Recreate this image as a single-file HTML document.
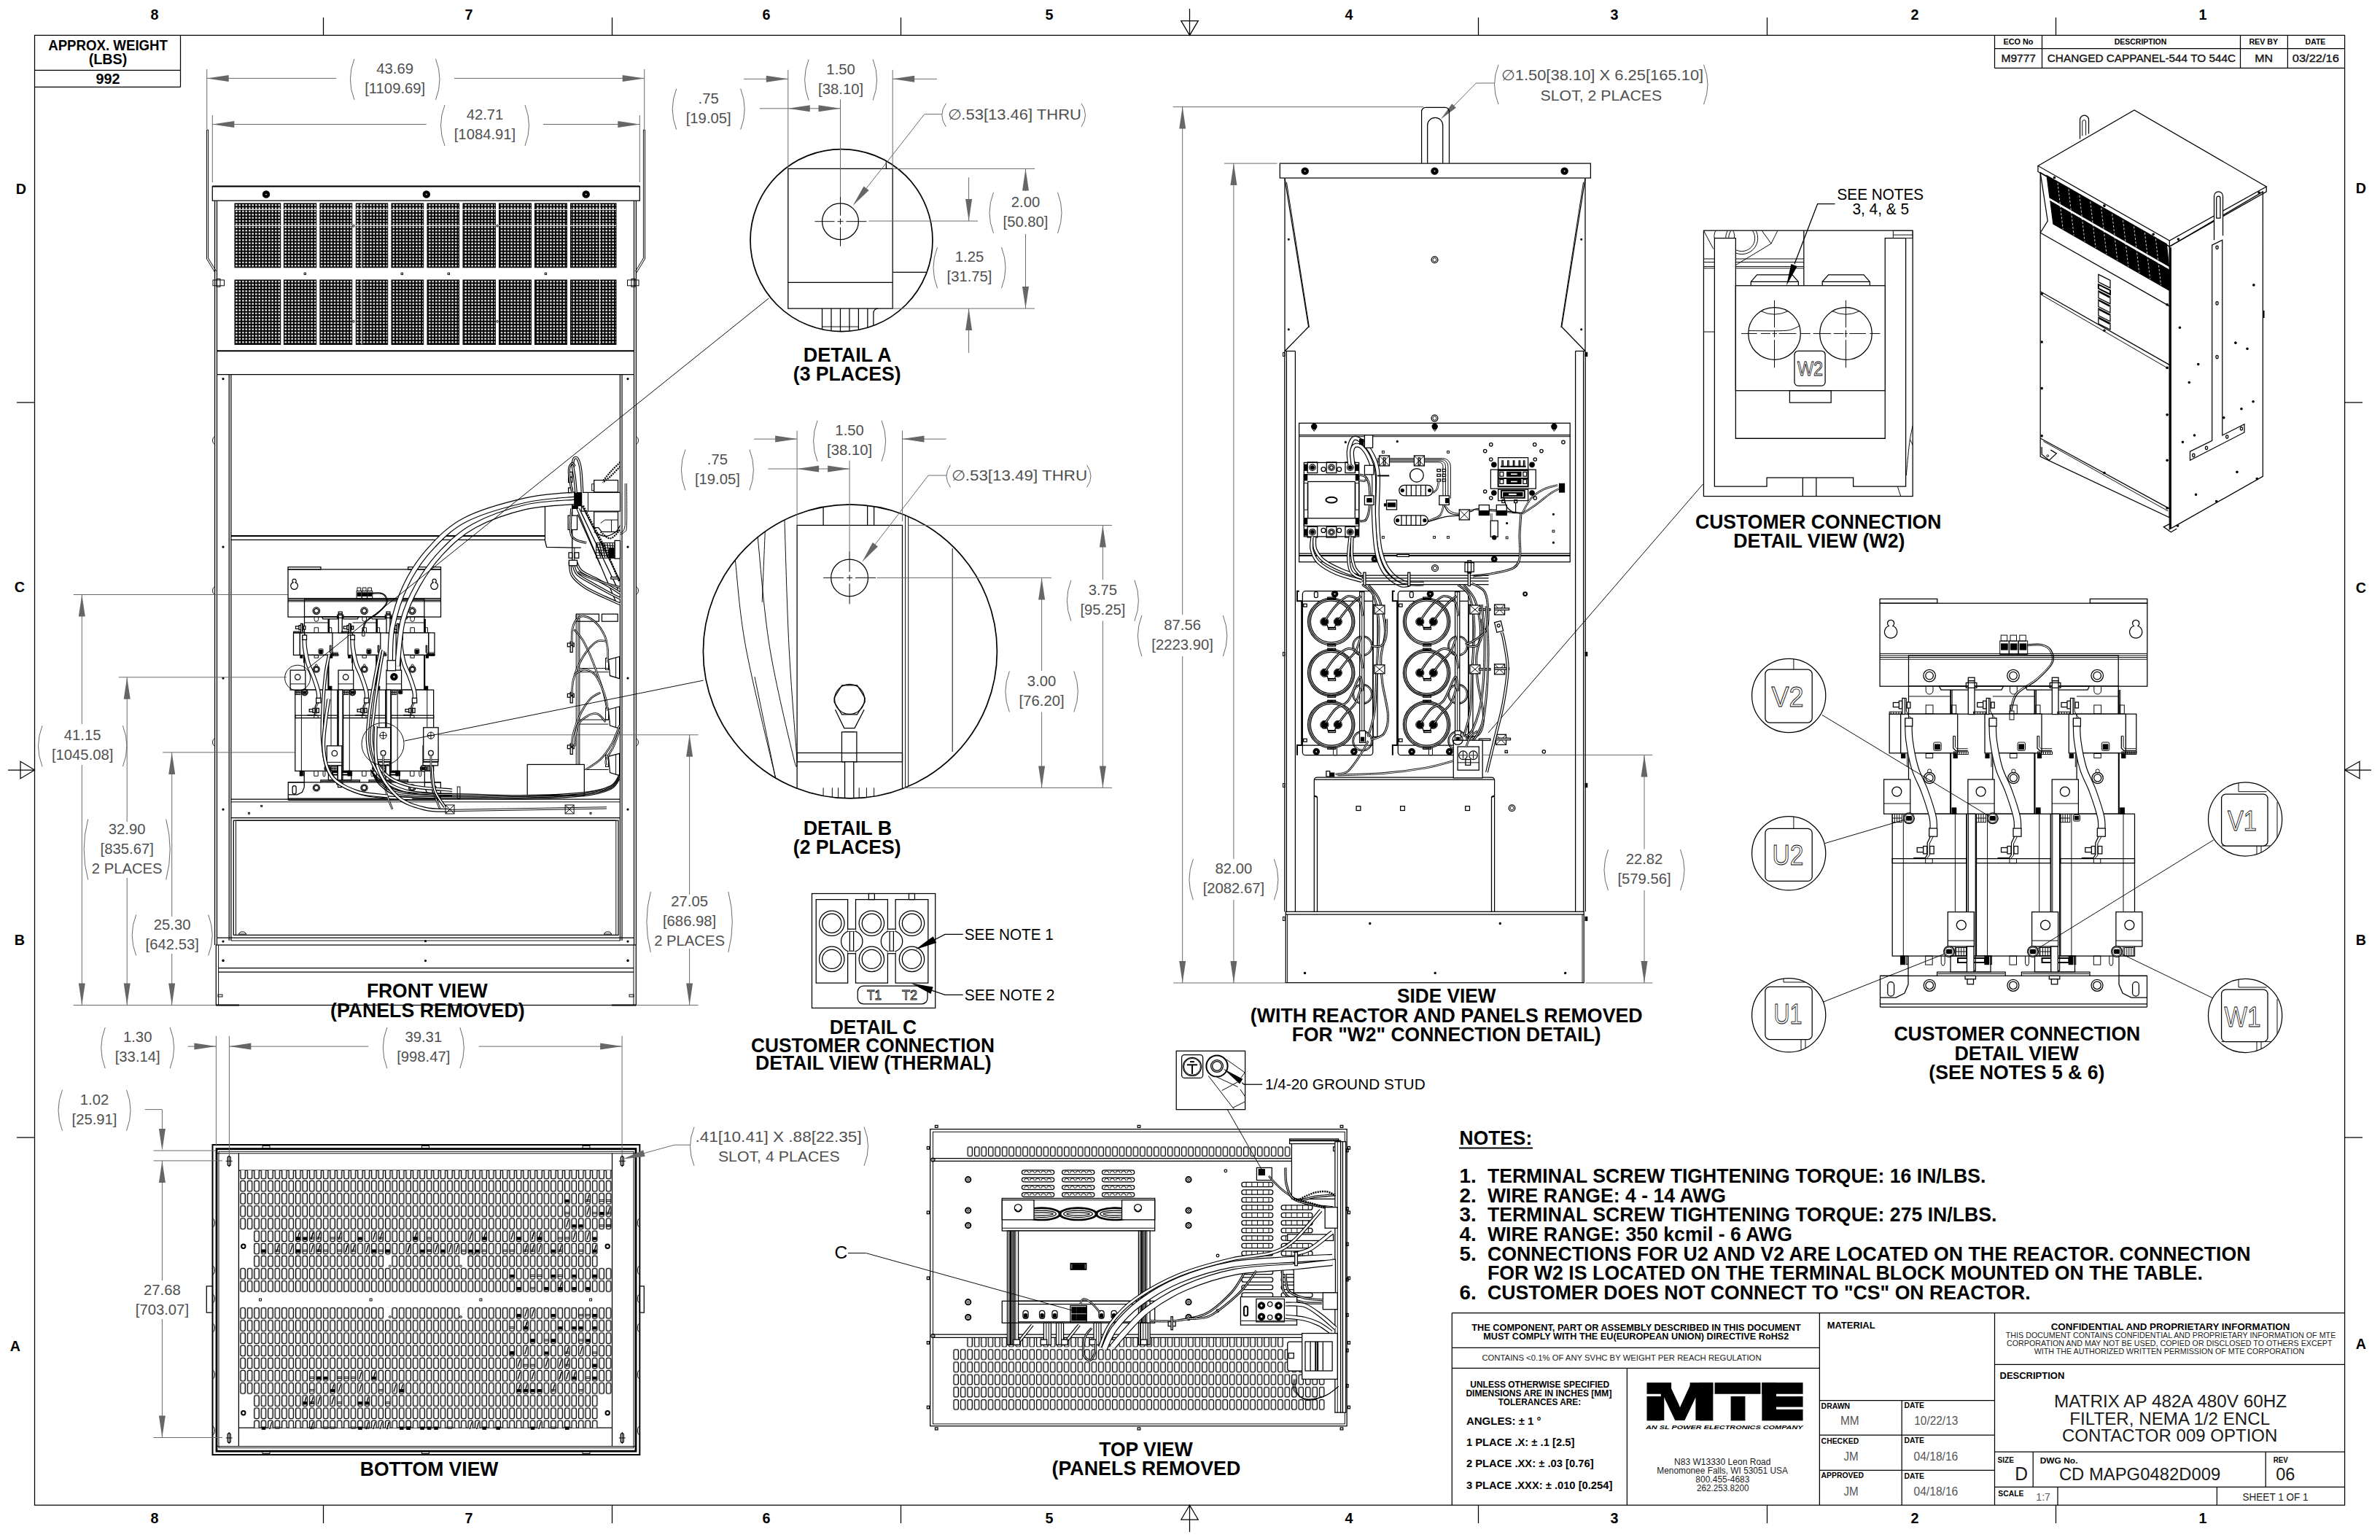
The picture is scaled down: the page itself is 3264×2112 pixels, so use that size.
<!DOCTYPE html>
<html lang="en"><head><meta charset="utf-8"><title>MTE Matrix AP 482A drawing</title>
<style>
html,body{margin:0;padding:0;background:#fff}
svg{display:block}
text{font-family:"Liberation Sans",sans-serif;fill:#000}
.b{font-weight:700}
.r{font-weight:400}
.d{font-weight:400;fill:#1a1a1a}
.gt{font-weight:400;fill:#505050}
.gy{font-weight:400;fill:#555}
.cg{font-weight:400;fill:#111;stroke:#111;stroke-width:.35px}
path,rect,circle,ellipse{fill:none;stroke:#000;stroke-width:1.25}
.k{stroke-width:1.25}
.k2{stroke-width:2}
.k3{stroke-width:2.8}
.kc{stroke-width:1.7}
.t{stroke-width:.95}
.t2{stroke-width:.6;stroke:#222}
.g{stroke:#6a6a6a;stroke-width:1}
.ga{fill:#666;stroke:none}
.ka{fill:#000;stroke:none}
.kf{fill:#000;stroke:#000}
.wf{fill:#fff}
.st1{fill:url(#st1);stroke:none}
.st2{fill:url(#st2);stroke:none}
.ol{font-weight:400;fill:#fff;stroke:#000;stroke-width:.9px}
.sa{fill:url(#sa);stroke:none}
.sb{fill:url(#sb);stroke:none}
.wf0{fill:#fff;stroke:none}
.ns *{vector-effect:non-scaling-stroke}
.gr{fill:url(#gr);stroke:#000;stroke-width:1}
.wl{stroke:#fff;stroke-width:1}
</style></head>
<body>
<svg width="3264" height="2112" viewBox="0 0 3264 2112">
<defs>
<pattern id="gr" width="4.49" height="4.37" patternUnits="userSpaceOnUse" x="322.06" y="279.06"><rect width="4.49" height="4.37" style="fill:#000;stroke:none"/><rect x="1.05" y="1.1" width="2.45" height="2.2" style="fill:#fff;stroke:none"/></pattern>
<pattern id="sa" width="9.462" height="17.17" patternUnits="userSpaceOnUse" x="328.37" y="1600.9"><rect x="1.53" y="1.33" width="6.4" height="14.5" rx="2.2" style="fill:#fff;stroke:#000;stroke-width:1.35"/></pattern>
<pattern id="sb" width="9.462" height="17.17" patternUnits="userSpaceOnUse" x="328.37" y="1792.3"><rect x="1.53" y="1.33" width="6.4" height="14.5" rx="2.2" style="fill:#fff;stroke:#000;stroke-width:1.35"/></pattern>
<pattern id="st1" width="9.462" height="13.8" patternUnits="userSpaceOnUse" x="1325.61" y="1572.4"><rect x="1.53" y="0.6" width="6.4" height="12.6" rx="2.2" style="fill:#fff;stroke:#000;stroke-width:1.3"/></pattern>
<pattern id="st2" width="9.462" height="17.17" patternUnits="userSpaceOnUse" x="1306.47" y="1849.3"><rect x="1.53" y="1.5" width="6.4" height="13.6" rx="2.2" style="fill:#fff;stroke:#000;stroke-width:1.3"/></pattern>
</defs>
<rect class="k" x="47.5" y="48.4" width="3168.1" height="2015.8"/>
<path class="k" d="M443.5 24L443.5 48.4"/>
<path class="k" d="M443.5 2064.2L443.5 2089"/>
<path class="k" d="M839.5 24L839.5 48.4"/>
<path class="k" d="M839.5 2064.2L839.5 2089"/>
<path class="k" d="M1235.5 24L1235.5 48.4"/>
<path class="k" d="M1235.5 2064.2L1235.5 2089"/>
<path class="k" d="M1631.5 12L1631.5 48.4"/>
<path class="k" d="M1631.5 48.4L1619.8 28.5L1643.2 28.5Z"/>
<path class="k" d="M1631.5 2064.2L1631.5 2101"/>
<path class="k" d="M1631.5 2064.2L1619.8 2084L1643.2 2084Z"/>
<path class="k" d="M2027.5 24L2027.5 48.4"/>
<path class="k" d="M2027.5 2064.2L2027.5 2089"/>
<path class="k" d="M2423.5 24L2423.5 48.4"/>
<path class="k" d="M2423.5 2064.2L2423.5 2089"/>
<path class="k" d="M2819.5 24L2819.5 48.4"/>
<path class="k" d="M2819.5 2064.2L2819.5 2089"/>
<path class="k" d="M23 552L47.5 552"/>
<path class="k" d="M3215.6 552L3240 552"/>
<path class="k" d="M23 1560L47.5 1560"/>
<path class="k" d="M3215.6 1560L3240 1560"/>
<path class="k" d="M11 1056L47.5 1056"/>
<path class="k" d="M47.5 1056L28 1044.3L28 1067.7Z"/>
<path class="k" d="M3215.6 1056L3252 1056"/>
<path class="k" d="M3215.6 1056L3236 1044.3L3236 1067.7Z"/>
<text class="b" x="212" y="27.3" font-size="19.76" text-anchor="middle">8</text>
<text class="b" x="212" y="2089.3" font-size="19.76" text-anchor="middle">8</text>
<text class="b" x="643" y="27.3" font-size="19.76" text-anchor="middle">7</text>
<text class="b" x="643" y="2089.3" font-size="19.76" text-anchor="middle">7</text>
<text class="b" x="1051" y="27.3" font-size="19.76" text-anchor="middle">6</text>
<text class="b" x="1051" y="2089.3" font-size="19.76" text-anchor="middle">6</text>
<text class="b" x="1439" y="27.3" font-size="19.76" text-anchor="middle">5</text>
<text class="b" x="1439" y="2089.3" font-size="19.76" text-anchor="middle">5</text>
<text class="b" x="1850" y="27.3" font-size="19.76" text-anchor="middle">4</text>
<text class="b" x="1850" y="2089.3" font-size="19.76" text-anchor="middle">4</text>
<text class="b" x="2214" y="27.3" font-size="19.76" text-anchor="middle">3</text>
<text class="b" x="2214" y="2089.3" font-size="19.76" text-anchor="middle">3</text>
<text class="b" x="2626" y="27.3" font-size="19.76" text-anchor="middle">2</text>
<text class="b" x="2626" y="2089.3" font-size="19.76" text-anchor="middle">2</text>
<text class="b" x="3021" y="27.3" font-size="19.76" text-anchor="middle">1</text>
<text class="b" x="3021" y="2089.3" font-size="19.76" text-anchor="middle">1</text>
<text class="b" x="29" y="266" font-size="19.76" text-anchor="middle">D</text>
<text class="b" x="3238" y="265" font-size="19.76" text-anchor="middle">D</text>
<text class="b" x="27" y="812" font-size="19.76" text-anchor="middle">C</text>
<text class="b" x="3238" y="813" font-size="19.76" text-anchor="middle">C</text>
<text class="b" x="27" y="1296" font-size="19.76" text-anchor="middle">B</text>
<text class="b" x="3238" y="1296" font-size="19.76" text-anchor="middle">B</text>
<text class="b" x="21" y="1853" font-size="19.76" text-anchor="middle">A</text>
<text class="b" x="3238" y="1850" font-size="19.76" text-anchor="middle">A</text>
<path class="k" d="M47.5 96.4L247.5 96.4"/>
<path class="k" d="M247.5 48.4L247.5 119.4"/>
<path class="k" d="M47.5 119.4L247.5 119.4"/>
<text class="b" x="66.2" y="68.9" font-size="19.76" textLength="163.8" lengthAdjust="spacingAndGlyphs">APPROX. WEIGHT</text>
<text class="b" x="148" y="87.8" font-size="19.76" text-anchor="middle">(LBS)</text>
<text class="b" x="148" y="114.5" font-size="19.76" text-anchor="middle">992</text>
<path class="k" d="M2735.5 48.4L2735.5 93.4"/>
<path class="k" d="M2735.5 93.4L3215.6 93.4"/>
<path class="k" d="M2735.5 66.6L3215.6 66.6"/>
<path class="k" d="M2800.5 48.4L2800.5 93.4"/>
<path class="k" d="M3072.5 48.4L3072.5 93.4"/>
<path class="k" d="M3137.4 48.4L3137.4 93.4"/>
<text class="b" x="2747.4" y="61.1" font-size="11.34" textLength="41" lengthAdjust="spacingAndGlyphs">ECO No</text>
<text class="b" x="2899.8" y="61.1" font-size="11.34" textLength="71.5" lengthAdjust="spacingAndGlyphs">DESCRIPTION</text>
<text class="b" x="3084.4" y="61.1" font-size="11.34" textLength="39.8" lengthAdjust="spacingAndGlyphs">REV BY</text>
<text class="b" x="3161.6" y="61.1" font-size="11.34" textLength="27.7" lengthAdjust="spacingAndGlyphs">DATE</text>
<text class="cg" x="2744.5" y="84.6" font-size="15.08" textLength="47.5" lengthAdjust="spacingAndGlyphs">M9777</text>
<text class="cg" x="2807.8" y="84.6" font-size="15.08" textLength="258.3" lengthAdjust="spacingAndGlyphs">CHANGED CAPPANEL-544 TO 544C</text>
<text class="cg" x="3092.2" y="84.6" font-size="15.08" textLength="24.8" lengthAdjust="spacingAndGlyphs">MN</text>
<text class="cg" x="3143.8" y="84.6" font-size="15.08" textLength="64" lengthAdjust="spacingAndGlyphs">03/22/16</text>
<path class="k" d="M1991.3 1800.7L3215.6 1800.7"/>
<path class="k" d="M1991.3 1800.7L1991.3 2064.2"/>
<path class="k" d="M1991.3 1848.4L2495.4 1848.4"/>
<path class="k" d="M1991.3 1876.3L2495.4 1876.3"/>
<path class="k" d="M2231.4 1876.3L2231.4 2064.2"/>
<path class="k" d="M2495.4 1800.7L2495.4 2064.2"/>
<path class="k" d="M2735.5 1800.7L2735.5 2064.2"/>
<path class="k" d="M2608.2 1920.6L2608.2 2064.2"/>
<path class="k" d="M2495.4 1920.6L2735.5 1920.6"/>
<path class="k" d="M2495.4 1968.2L2735.5 1968.2"/>
<path class="k" d="M2495.4 2016.4L2735.5 2016.4"/>
<path class="k" d="M2735.5 1871.4L3215.6 1871.4"/>
<path class="k" d="M2735.5 1991.2L3215.6 1991.2"/>
<path class="k" d="M2735.5 2039.4L3215.6 2039.4"/>
<path class="k" d="M2788.2 1991.2L2788.2 2039.4"/>
<path class="k" d="M3107.2 1991.2L3107.2 2039.4"/>
<path class="k" d="M2822 2039.4L2822 2064.2"/>
<path class="k" d="M3040.4 2039.4L3040.4 2064.2"/>
<text class="b" x="2018.2" y="1825" font-size="12.9" textLength="451.7" lengthAdjust="spacingAndGlyphs">THE COMPONENT, PART OR ASSEMBLY DESCRIBED IN THIS DOCUMENT</text>
<text class="b" x="2034.3" y="1837" font-size="12.9" textLength="419" lengthAdjust="spacingAndGlyphs">MUST COMPLY WITH THE EU(EUROPEAN UNION) DIRECTIVE RoHS2</text>
<text class="d" x="2032.4" y="1865.8" font-size="11.75" textLength="383.2" lengthAdjust="spacingAndGlyphs">CONTAINS &lt;0.1% OF ANY SVHC BY WEIGHT PER REACH REGULATION</text>
<text class="b" x="2016.3" y="1903" font-size="12.9" textLength="190.9" lengthAdjust="spacingAndGlyphs">UNLESS OTHERWISE SPECIFIED</text>
<text class="b" x="2010.4" y="1915" font-size="12.9" textLength="200" lengthAdjust="spacingAndGlyphs">DIMENSIONS ARE IN INCHES [MM]</text>
<text class="b" x="2054.8" y="1926.6" font-size="12.9" textLength="113.4" lengthAdjust="spacingAndGlyphs">TOLERANCES ARE:</text>
<text class="b" x="2010.9" y="1953.5" font-size="14.87" textLength="102.7" lengthAdjust="spacingAndGlyphs">ANGLES: ± 1 °</text>
<text class="b" x="2010.9" y="1982.8" font-size="14.87" textLength="148.5" lengthAdjust="spacingAndGlyphs">1 PLACE .X: ± .1 [2.5]</text>
<text class="b" x="2010.9" y="2011.8" font-size="14.87" textLength="174.8" lengthAdjust="spacingAndGlyphs">2 PLACE .XX: ± .03 [0.76]</text>
<text class="b" x="2010.9" y="2042" font-size="14.87" textLength="200.4" lengthAdjust="spacingAndGlyphs">3 PLACE .XXX: ± .010 [0.254]</text>
<text x="2260.32" y="1946.55" font-size="70" textLength="87.2" lengthAdjust="spacingAndGlyphs" style="font-weight:700;stroke:#000;stroke-width:2.2px;stroke-linejoin:miter">M</text>
<text x="2353.38" y="1946.55" font-size="70" textLength="59.26" lengthAdjust="spacingAndGlyphs" style="font-weight:700;stroke:#000;stroke-width:2.2px;stroke-linejoin:miter">T</text>
<text x="2418.2" y="1946.55" font-size="70" textLength="52.54" lengthAdjust="spacingAndGlyphs" style="font-weight:700;stroke:#000;stroke-width:2.2px;stroke-linejoin:miter">E</text>
<rect class="kf" x="2259.12" y="1896.81" width="32.35" height="14.71"/>
<rect class="kf" x="2259.12" y="1915.19" width="18.17" height="32.56"/>
<rect class="kf" x="2330.86" y="1896.81" width="17.86" height="50.95"/>
<rect class="kf" x="2318.26" y="1896.81" width="30.46" height="14.71"/>
<rect class="kf" x="2352.18" y="1896.81" width="61.66" height="14.71"/>
<rect class="kf" x="2374.24" y="1915.19" width="18.59" height="32.56"/>
<rect class="kf" x="2417" y="1896.81" width="18.91" height="50.95"/>
<rect class="kf" x="2417" y="1896.81" width="54.94" height="14.71"/>
<rect class="kf" x="2435.9" y="1915.19" width="36.03" height="14.18"/>
<rect class="kf" x="2435.9" y="1933.05" width="36.03" height="14.71"/>
<rect class="wf0" x="2257.86" y="1911.72" width="19.96" height="3.26"/>
<rect class="wf0" x="2351.34" y="1911.72" width="64.08" height="3.26"/>
<rect class="wf0" x="2436.01" y="1911.72" width="36.66" height="3.26"/>
<rect class="wf0" x="2436.01" y="1929.58" width="36.66" height="3.26"/>
<text x="2257" y="1960" font-size="7.6" textLength="215.6" lengthAdjust="spacingAndGlyphs" style="font-weight:700;font-style:italic">AN SL POWER ELECTRONICS COMPANY</text>
<text class="d" x="2296" y="2009.2" font-size="12.48" textLength="132.5" lengthAdjust="spacingAndGlyphs">N83 W13330 Leon Road</text>
<text class="d" x="2272.3" y="2021.3" font-size="12.48" textLength="179.6" lengthAdjust="spacingAndGlyphs">Menomonee Falls, WI 53051 USA</text>
<text class="d" x="2325.3" y="2032.8" font-size="12.48" textLength="74.2" lengthAdjust="spacingAndGlyphs">800.455-4683</text>
<text class="d" x="2326.9" y="2045" font-size="12.48" textLength="71.5" lengthAdjust="spacingAndGlyphs">262.253.8200</text>
<text class="b" x="2505.7" y="1821.7" font-size="12.9" textLength="65.9" lengthAdjust="spacingAndGlyphs">MATERIAL</text>
<text class="b" x="2497.6" y="1931.7" font-size="10.92" textLength="39.6" lengthAdjust="spacingAndGlyphs">DRAWN</text>
<text class="b" x="2497.6" y="1979.8" font-size="10.92" textLength="51.6" lengthAdjust="spacingAndGlyphs">CHECKED</text>
<text class="b" x="2497.6" y="2027.2" font-size="10.92" textLength="58.4" lengthAdjust="spacingAndGlyphs">APPROVED</text>
<text class="b" x="2611.6" y="1930.7" font-size="10.92" textLength="27.4" lengthAdjust="spacingAndGlyphs">DATE</text>
<text class="b" x="2611.6" y="1978.8" font-size="10.92" textLength="27.4" lengthAdjust="spacingAndGlyphs">DATE</text>
<text class="b" x="2611.6" y="2027.6" font-size="10.92" textLength="27.4" lengthAdjust="spacingAndGlyphs">DATE</text>
<text class="gy" x="2523.9" y="1953.7" font-size="16.02" textLength="25.7" lengthAdjust="spacingAndGlyphs">MM</text>
<text class="gy" x="2528.5" y="2003" font-size="16.02" textLength="20.2" lengthAdjust="spacingAndGlyphs">JM</text>
<text class="gy" x="2528.5" y="2050.8" font-size="16.02" textLength="20.2" lengthAdjust="spacingAndGlyphs">JM</text>
<text class="gy" x="2625.3" y="1953.8" font-size="16.02" textLength="60" lengthAdjust="spacingAndGlyphs">10/22/13</text>
<text class="gy" x="2624.5" y="2003.3" font-size="16.02" textLength="60.8" lengthAdjust="spacingAndGlyphs">04/18/16</text>
<text class="gy" x="2624.5" y="2051.2" font-size="16.02" textLength="60.8" lengthAdjust="spacingAndGlyphs">04/18/16</text>
<text class="b" x="2812.7" y="1823.5" font-size="13" textLength="327.7" lengthAdjust="spacingAndGlyphs">CONFIDENTIAL AND PROPRIETARY INFORMATION</text>
<text class="d" x="2750.8" y="1835.3" font-size="11.44" textLength="452.5" lengthAdjust="spacingAndGlyphs">THIS DOCUMENT CONTAINS CONFIDENTIAL AND PROPRIETARY INFORMATION OF MTE</text>
<text class="d" x="2752" y="1845.9" font-size="11.44" textLength="446.5" lengthAdjust="spacingAndGlyphs">CORPORATION AND MAY NOT BE USED, COPIED OR DISCLOSED TO OTHERS EXCEPT</text>
<text class="d" x="2789.7" y="1857" font-size="11.44" textLength="370.5" lengthAdjust="spacingAndGlyphs">WITH THE AUTHORIZED WRITTEN PERMISSION OF MTE CORPORATION</text>
<text class="b" x="2742.5" y="1890.6" font-size="13" textLength="88.8" lengthAdjust="spacingAndGlyphs">DESCRIPTION</text>
<text class="d" x="2816.9" y="1929.5" font-size="24.13" textLength="319.3" lengthAdjust="spacingAndGlyphs">MATRIX AP 482A 480V 60HZ</text>
<text class="d" x="2838.3" y="1953.5" font-size="24.13" textLength="274.9" lengthAdjust="spacingAndGlyphs">FILTER, NEMA 1/2 ENCL</text>
<text class="d" x="2828" y="1977.4" font-size="24.13" textLength="295.4" lengthAdjust="spacingAndGlyphs">CONTACTOR 009 OPTION</text>
<text class="b" x="2739.6" y="2005.5" font-size="10.92" textLength="22.4" lengthAdjust="spacingAndGlyphs">SIZE</text>
<text class="d" x="2763.2" y="2030" font-size="26" textLength="17.8" lengthAdjust="spacingAndGlyphs">D</text>
<text class="b" x="2797.7" y="2007" font-size="10.92" textLength="51.8" lengthAdjust="spacingAndGlyphs">DWG No.</text>
<text class="d" x="2823.9" y="2030" font-size="24.44" textLength="221.3" lengthAdjust="spacingAndGlyphs">CD MAPG0482D009</text>
<text class="b" x="3117.7" y="2005.5" font-size="10.92" textLength="20.1" lengthAdjust="spacingAndGlyphs">REV</text>
<text class="d" x="3121.2" y="2030" font-size="24.44" textLength="26.2" lengthAdjust="spacingAndGlyphs">06</text>
<text class="b" x="2740.3" y="2051.8" font-size="10.92" textLength="35.1" lengthAdjust="spacingAndGlyphs">SCALE</text>
<text class="gy" x="2792.3" y="2058" font-size="15.08" textLength="19.7" lengthAdjust="spacingAndGlyphs">1:7</text>
<text class="d" x="3075.5" y="2057.6" font-size="13.94" textLength="90.1" lengthAdjust="spacingAndGlyphs">SHEET 1  OF 1</text>
<text class="b" x="2001.6" y="1569.8" font-size="27.87" textLength="99.6" lengthAdjust="spacingAndGlyphs">NOTES:</text>
<path class="k2" d="M2001 1574.6L2102 1574.6"/>
<text class="b" x="2001.6" y="1622.4" font-size="27.87">1.</text>
<text class="b" x="2039.9" y="1622.4" font-size="27.87" textLength="683.5" lengthAdjust="spacingAndGlyphs">TERMINAL SCREW TIGHTENING TORQUE: 16 IN/LBS.</text>
<text class="b" x="2001.6" y="1648.8" font-size="27.87">2.</text>
<text class="b" x="2039.9" y="1648.8" font-size="27.87" textLength="327.1" lengthAdjust="spacingAndGlyphs">WIRE RANGE: 4 - 14 AWG</text>
<text class="b" x="2001.6" y="1675.1" font-size="27.87">3.</text>
<text class="b" x="2039.9" y="1675.1" font-size="27.87" textLength="698.4" lengthAdjust="spacingAndGlyphs">TERMINAL SCREW TIGHTENING TORQUE: 275 IN/LBS.</text>
<text class="b" x="2001.6" y="1701.5" font-size="27.87">4.</text>
<text class="b" x="2039.9" y="1701.5" font-size="27.87" textLength="418.1" lengthAdjust="spacingAndGlyphs">WIRE RANGE: 350 kcmil - 6 AWG</text>
<text class="b" x="2001.6" y="1728.8" font-size="27.87">5.</text>
<text class="b" x="2039.9" y="1728.8" font-size="27.87" textLength="1046.6" lengthAdjust="spacingAndGlyphs">CONNECTIONS FOR U2 AND V2 ARE LOCATED ON THE REACTOR. CONNECTION</text>
<text class="b" x="2039.9" y="1755.1" font-size="27.87" textLength="981" lengthAdjust="spacingAndGlyphs">FOR W2 IS LOCATED ON THE TERMINAL BLOCK MOUNTED ON THE TABLE.</text>
<text class="b" x="2001.6" y="1781.5" font-size="27.87">6.</text>
<text class="b" x="2039.9" y="1781.5" font-size="27.87" textLength="744.8" lengthAdjust="spacingAndGlyphs">CUSTOMER DOES NOT CONNECT TO "CS" ON REACTOR.</text>
<text class="b" x="502.9" y="1367.9" font-size="27.98" textLength="165.9" lengthAdjust="spacingAndGlyphs">FRONT VIEW</text>
<text class="b" x="453" y="1394.7" font-size="27.98" textLength="266.6" lengthAdjust="spacingAndGlyphs">(PANELS REMOVED)</text>
<text class="b" x="493.8" y="2024.2" font-size="27.98" textLength="189.6" lengthAdjust="spacingAndGlyphs">BOTTOM VIEW</text>
<text class="b" x="1101.7" y="495.5" font-size="27.98" textLength="121.1" lengthAdjust="spacingAndGlyphs">DETAIL A</text>
<text class="b" x="1087.8" y="522.3" font-size="27.98" textLength="147.9" lengthAdjust="spacingAndGlyphs">(3 PLACES)</text>
<text class="b" x="1101.7" y="1144.6" font-size="27.98" textLength="121.5" lengthAdjust="spacingAndGlyphs">DETAIL B</text>
<text class="b" x="1087.8" y="1171.4" font-size="27.98" textLength="147.9" lengthAdjust="spacingAndGlyphs">(2 PLACES)</text>
<text class="b" x="1137.8" y="1417.6" font-size="27.98" textLength="119.2" lengthAdjust="spacingAndGlyphs">DETAIL C</text>
<text class="b" x="1030" y="1443" font-size="27.98" textLength="333.9" lengthAdjust="spacingAndGlyphs">CUSTOMER CONNECTION</text>
<text class="b" x="1036" y="1467" font-size="27.98" textLength="323.7" lengthAdjust="spacingAndGlyphs">DETAIL VIEW (THERMAL)</text>
<text class="b" x="1507.2" y="1996.5" font-size="27.98" textLength="128.6" lengthAdjust="spacingAndGlyphs">TOP VIEW</text>
<text class="b" x="1442.5" y="2022.8" font-size="27.98" textLength="258.9" lengthAdjust="spacingAndGlyphs">(PANELS REMOVED</text>
<text class="b" x="1916" y="1374.8" font-size="27.98" textLength="135.5" lengthAdjust="spacingAndGlyphs">SIDE VIEW</text>
<text class="b" x="1714.8" y="1401.5" font-size="27.98" textLength="537.9" lengthAdjust="spacingAndGlyphs">(WITH REACTOR AND PANELS REMOVED</text>
<text class="b" x="1771.8" y="1428" font-size="27.98" textLength="423.9" lengthAdjust="spacingAndGlyphs">FOR "W2" CONNECTION DETAIL)</text>
<text class="b" x="2325" y="724.5" font-size="27.98" textLength="337.4" lengthAdjust="spacingAndGlyphs">CUSTOMER CONNECTION</text>
<text class="b" x="2377.3" y="751.4" font-size="27.98" textLength="235.2" lengthAdjust="spacingAndGlyphs">DETAIL VIEW (W2)</text>
<text class="b" x="2597.4" y="1426.9" font-size="27.98" textLength="337.9" lengthAdjust="spacingAndGlyphs">CUSTOMER CONNECTION</text>
<text class="b" x="2680.5" y="1453.8" font-size="27.98" textLength="170.2" lengthAdjust="spacingAndGlyphs">DETAIL VIEW</text>
<text class="b" x="2645.3" y="1479.7" font-size="27.98" textLength="241.1" lengthAdjust="spacingAndGlyphs">(SEE NOTES 5 &amp; 6)</text>
<path class="g" d="M283.7 107.4L461.3 107.4"/>
<path class="g" d="M623 107.4L883.7 107.4"/>
<path class="ga" d="M283.7 107.4L313.7 102.9L313.7 111.9Z"/>
<path class="ga" d="M883.7 107.4L853.7 111.9L853.7 102.9Z"/>
<text class="gt" x="541.7" y="100.8" font-size="20.28" text-anchor="middle">43.69</text>
<text class="gt" x="541.7" y="127.8" font-size="20.28" text-anchor="middle">[1109.69]</text>
<path class="g" d="M485.9 80.76Q474.9 108.78 485.9 136.8"/>
<path class="g" d="M597.5 80.76Q608.5 108.78 597.5 136.8"/>
<path class="g" d="M291.3 170.5L584.7 170.5"/>
<path class="g" d="M745 170.5L877.3 170.5"/>
<path class="ga" d="M291.3 170.5L321.3 166L321.3 175Z"/>
<path class="ga" d="M877.3 170.5L847.3 175L847.3 166Z"/>
<text class="gt" x="665" y="164" font-size="20.28" text-anchor="middle">42.71</text>
<text class="gt" x="665" y="191" font-size="20.28" text-anchor="middle">[1084.91]</text>
<path class="g" d="M610 143.96Q599 171.98 610 200"/>
<path class="g" d="M720 143.96Q731 171.98 720 200"/>
<path class="g" d="M283.7 95L283.7 177"/>
<path class="g" d="M883.7 95L883.7 177"/>
<path class="g" d="M291.3 158L291.3 250"/>
<path class="g" d="M877.3 158L877.3 250"/>
<path class="t" d="M283.5 178L283.5 355L295 374"/>
<path class="t" d="M285.6 178L285.6 354L296.5 372"/>
<path class="t" d="M283.5 178L285.6 178"/>
<path class="t" d="M884.5 178L884.5 355L873 374"/>
<path class="t" d="M882.4 178L882.4 354L871.5 372"/>
<path class="t" d="M884.5 178L882.4 178"/>
<rect class="k" x="291.3" y="255.6" width="586" height="19.6"/>
<path class="k2" d="M291.3 255.6L877.3 255.6"/>
<circle class="kf" cx="365" cy="266.5" r="4.6"/>
<circle class="wf t" cx="365" cy="266.5" r="1.2"/>
<circle class="kf" cx="584.8" cy="266.5" r="4.6"/>
<circle class="wf t" cx="584.8" cy="266.5" r="1.2"/>
<circle class="kf" cx="803.7" cy="266.5" r="4.6"/>
<circle class="wf t" cx="803.7" cy="266.5" r="1.2"/>
<path class="k" d="M294.6 275.2L294.6 1296"/>
<path class="k" d="M297.5 275.2L297.5 1296"/>
<path class="k" d="M869.5 275.2L869.5 1296"/>
<path class="k" d="M872.4 275.2L872.4 1296"/>
<path class="k2" d="M297.5 481.3L869.5 481.3"/>
<path class="k" d="M297.5 513.5L869.5 513.5"/>
<path class="k" d="M314.2 513.5L314.2 1290"/>
<path class="k" d="M316.9 513.5L316.9 1290"/>
<path class="k" d="M850.4 513.5L850.4 1290"/>
<path class="k" d="M853 513.5L853 1290"/>
<rect class="gr" x="322" y="279" width="62.7" height="87.8"/>
<rect class="gr" x="322" y="384" width="62.7" height="88.4"/>
<rect class="gr" x="389.4" y="279" width="44.3" height="87.8"/>
<rect class="gr" x="389.4" y="384" width="44.3" height="88.4"/>
<rect class="gr" x="438.9" y="279" width="43.8" height="87.8"/>
<rect class="gr" x="438.9" y="384" width="43.8" height="88.4"/>
<rect class="gr" x="488.3" y="279" width="43.4" height="87.8"/>
<rect class="gr" x="488.3" y="384" width="43.4" height="88.4"/>
<rect class="gr" x="537" y="279" width="43.7" height="87.8"/>
<rect class="gr" x="537" y="384" width="43.7" height="88.4"/>
<rect class="gr" x="586" y="279" width="43.6" height="87.8"/>
<rect class="gr" x="586" y="384" width="43.6" height="88.4"/>
<rect class="gr" x="635" y="279" width="44.4" height="87.8"/>
<rect class="gr" x="635" y="384" width="44.4" height="88.4"/>
<rect class="gr" x="684.5" y="279" width="43.9" height="87.8"/>
<rect class="gr" x="684.5" y="384" width="43.9" height="88.4"/>
<rect class="gr" x="733.5" y="279" width="43.9" height="87.8"/>
<rect class="gr" x="733.5" y="384" width="43.9" height="88.4"/>
<rect class="gr" x="782.5" y="279" width="62.5" height="87.8"/>
<rect class="gr" x="782.5" y="384" width="62.5" height="88.4"/>
<path class="wl" d="M322 287.4L845 287.4"/>
<path class="wl" d="M322 309.5L845 309.5"/>
<path class="wl" d="M496 279L496 472.4"/>
<path class="wl" d="M822.5 279L822.5 472.4"/>
<rect class="t" x="417.1" y="374.2" width="2.4" height="2.4"/>
<rect class="t" x="550.1" y="374.2" width="2.4" height="2.4"/>
<rect class="t" x="614.1" y="374.2" width="2.4" height="2.4"/>
<rect class="t" x="747.2" y="374.2" width="2.4" height="2.4"/>
<circle class="t" cx="484.8" cy="309.8" r="1.3"/>
<circle class="t" cx="484.8" cy="440.8" r="1.3"/>
<circle class="t" cx="682" cy="309.8" r="1.3"/>
<circle class="t" cx="682" cy="440.8" r="1.3"/>
<rect class="t" x="292" y="384" width="15.5" height="7.8"/>
<rect class="t" x="297" y="382.5" width="5" height="10.8"/>
<rect class="t" x="860.5" y="384" width="15.5" height="7.8"/>
<rect class="t" x="866" y="382.5" width="5" height="10.8"/>
<path class="t" d="M294.6 599a3 5 0 0 0 0 10"/>
<path class="t" d="M872.4 599a3 5 0 0 1 0 10"/>
<path class="t" d="M294.6 805a3 5 0 0 0 0 10"/>
<path class="t" d="M872.4 805a3 5 0 0 1 0 10"/>
<path class="t" d="M294.6 1013a3 5 0 0 0 0 10"/>
<path class="t" d="M872.4 1013a3 5 0 0 1 0 10"/>
<circle class="kf" cx="306" cy="519.5" r="1"/>
<circle class="kf" cx="306" cy="750" r="1"/>
<circle class="kf" cx="306" cy="930" r="1"/>
<circle class="kf" cx="306" cy="1110" r="1"/>
<circle class="kf" cx="306" cy="1291" r="1"/>
<circle class="kf" cx="306" cy="1317" r="1"/>
<circle class="kf" cx="861" cy="519.5" r="1"/>
<circle class="kf" cx="861" cy="750" r="1"/>
<circle class="kf" cx="861" cy="930" r="1"/>
<circle class="kf" cx="861" cy="1110" r="1"/>
<circle class="kf" cx="861" cy="1291" r="1"/>
<circle class="kf" cx="861" cy="1317" r="1"/>
<path class="k2" d="M316.9 735L747.8 735"/>
<path class="k" d="M316.9 740.3L747.8 740.3"/>
<path class="k" d="M316.9 1096L850.4 1096"/>
<path class="t" d="M316.9 1099.8L850.4 1099.8"/>
<path class="k" d="M316.9 1121.5L850.4 1121.5"/>
<rect class="t" x="340.5" y="1114.3" width="2" height="2"/>
<rect class="t" x="357.7" y="1104.4" width="2" height="2"/>
<rect class="t" x="809" y="1114.3" width="2" height="2"/>
<rect class="k" x="320.3" y="1125.2" width="527.7" height="157.2"/>
<rect class="t" x="323.5" y="1125.2" width="521.3" height="157.2"/>
<path class="k" d="M297.5 1286L869.5 1286"/>
<path class="t" d="M316.9 1290L850.4 1290"/>
<rect class="k" x="296.3" y="1296" width="576" height="82.5"/>
<path class="t" d="M299.6 1296L299.6 1378.5"/>
<path class="t" d="M869 1296L869 1378.5"/>
<path class="k" d="M299.6 1327.7L869 1327.7"/>
<path class="k" d="M299.6 1333.2L869 1333.2"/>
<path class="k2" d="M296.3 1378.5L328 1378.5"/>
<path class="k2" d="M839 1378.5L872.4 1378.5"/>
<circle class="kf" cx="306" cy="1317.5" r="1"/>
<circle class="kf" cx="583.5" cy="1317.5" r="1"/>
<circle class="kf" cx="861" cy="1317.5" r="1"/>
<circle class="kf" cx="583.5" cy="1290.7" r="1"/>
<rect class="t" x="299" y="1364" width="6" height="3"/>
<rect class="t" x="863" y="1364" width="6" height="3"/>
<path class="t" d="M327 1281l3-3h5l3 3z"/>
<path class="t" d="M828 1281l3-3h5l3 3z"/>
<path class="g" d="M100.8 815.5L395 815.5"/>
<path class="g" d="M100.8 1378.5L296 1378.5"/>
<path class="g" d="M112.3 815.5L112.3 993"/>
<path class="g" d="M112.3 1049L112.3 1378.5"/>
<path class="ga" d="M112.3 815.5L116.8 845.5L107.8 845.5Z"/>
<path class="ga" d="M112.3 1378.5L107.8 1348.5L116.8 1348.5Z"/>
<text class="gt" x="113.2" y="1015.2" font-size="20.28" text-anchor="middle">41.15</text>
<text class="gt" x="113.2" y="1042.2" font-size="20.28" text-anchor="middle">[1045.08]</text>
<path class="g" d="M58 995.16Q47 1023.18 58 1051.2"/>
<path class="g" d="M168.4 995.16Q179.4 1023.18 168.4 1051.2"/>
<path class="g" d="M162.7 928.8L393 928.8"/>
<path class="g" d="M174.2 928.8L174.2 1127"/>
<path class="g" d="M174.2 1204L174.2 1378.5"/>
<path class="ga" d="M174.2 928.8L178.7 958.8L169.7 958.8Z"/>
<path class="ga" d="M174.2 1378.5L169.7 1348.5L178.7 1348.5Z"/>
<text class="gt" x="174.2" y="1143.5" font-size="20.28" text-anchor="middle">32.90</text>
<text class="gt" x="174.2" y="1170.5" font-size="20.28" text-anchor="middle">[835.67]</text>
<text class="gt" x="174.2" y="1197.5" font-size="20.28" text-anchor="middle">2 PLACES</text>
<path class="g" d="M120.7 1123.46Q109.7 1164.98 120.7 1206.5"/>
<path class="g" d="M227.7 1123.46Q238.7 1164.98 227.7 1206.5"/>
<path class="g" d="M223.2 1031.9L450.6 1031.9"/>
<path class="g" d="M235.7 1031.9L235.7 1257"/>
<path class="g" d="M235.7 1308L235.7 1378.5"/>
<path class="ga" d="M235.7 1031.9L240.2 1061.9L231.2 1061.9Z"/>
<path class="ga" d="M235.7 1378.5L231.2 1348.5L240.2 1348.5Z"/>
<text class="gt" x="236.2" y="1274.5" font-size="20.28" text-anchor="middle">25.30</text>
<text class="gt" x="236.2" y="1301.5" font-size="20.28" text-anchor="middle">[642.53]</text>
<path class="g" d="M186.7 1254.46Q175.7 1282.48 186.7 1310.5"/>
<path class="g" d="M285.7 1254.46Q296.7 1282.48 285.7 1310.5"/>
<path class="g" d="M600.8 1007.8L957.7 1007.8"/>
<path class="g" d="M872.4 1378.5L957.7 1378.5"/>
<path class="g" d="M945.6 1007.8L945.6 1227"/>
<path class="g" d="M945.6 1301L945.6 1378.5"/>
<path class="ga" d="M945.6 1007.8L950.1 1037.8L941.1 1037.8Z"/>
<path class="ga" d="M945.6 1378.5L941.1 1348.5L950.1 1348.5Z"/>
<text class="gt" x="945.6" y="1243" font-size="20.28" text-anchor="middle">27.05</text>
<text class="gt" x="945.6" y="1270" font-size="20.28" text-anchor="middle">[686.98]</text>
<text class="gt" x="945.6" y="1297" font-size="20.28" text-anchor="middle">2 PLACES</text>
<path class="g" d="M892.4 1222.96Q881.4 1264.48 892.4 1306"/>
<path class="g" d="M998.8 1222.96Q1009.8 1264.48 998.8 1306"/>
<rect class="k wf" x="2578.1" y="827.3" width="366.7" height="113.9"/>
<rect class="k" x="2578.1" y="821.4" width="78.7" height="5.9"/>
<rect class="k" x="2866.3" y="821.4" width="78.5" height="5.9"/>
<path class="t" d="M2578.1 896.4L2944.8 896.4"/>
<path class="t" d="M2578.1 899L2944.8 899"/>
<path class="t" d="M2578.1 901.5L2944.8 901.5"/>
<path class="t" d="M2578.1 904.2L2944.8 904.2"/>
<rect class="k" x="2617.5" y="899" width="287.7" height="42.2"/>
<path class="k" d="M2590.3 858.5a4.6 4.6 0 1 1 5.6 0a8.6 8.6 0 1 1 -5.6 0z"/>
<path class="k" d="M2926.4 858.5a4.6 4.6 0 1 1 5.6 0a8.6 8.6 0 1 1 -5.6 0z"/>
<circle class="k" cx="2646.1" cy="926.6" r="8.3"/>
<circle class="k" cx="2646.1" cy="926.6" r="5.3"/>
<circle class="k" cx="2761" cy="926.6" r="8.3"/>
<circle class="k" cx="2761" cy="926.6" r="5.3"/>
<circle class="k" cx="2876.2" cy="926.6" r="8.3"/>
<circle class="k" cx="2876.2" cy="926.6" r="5.3"/>
<rect class="t" x="2744.2" y="871.1" width="8.5" height="8"/>
<rect class="t" x="2742.7" y="879" width="12.4" height="18.4"/>
<rect class="kf" x="2744.7" y="883" width="8.4" height="8"/>
<rect class="t" x="2757" y="871.1" width="8.5" height="8"/>
<rect class="t" x="2755.5" y="879" width="12.4" height="18.4"/>
<rect class="kf" x="2757.5" y="883" width="8.4" height="8"/>
<rect class="t" x="2769.8" y="871.1" width="8.5" height="8"/>
<rect class="t" x="2768.3" y="879" width="12.4" height="18.4"/>
<rect class="kf" x="2770.3" y="883" width="8.4" height="8"/>
<rect class="k wf" x="2617.5" y="941.2" width="287.7" height="38"/>
<path class="k" d="M2659.5 941.2L2747.5 941.2L2745 946L2662 946Z"/>
<path class="k" d="M2777.5 941.2L2865.5 941.2L2863 946L2780 946Z"/>
<rect class="k wf" x="2699.3" y="933.6" width="8.7" height="46"/>
<rect class="k" x="2696.3" y="936.4" width="14.6" height="7"/>
<rect class="k" x="2699.3" y="929.2" width="8.7" height="4.4"/>
<rect class="k wf" x="2814.3" y="933.6" width="8.7" height="46"/>
<rect class="k" x="2811.3" y="936.4" width="14.6" height="7"/>
<rect class="k" x="2814.3" y="929.2" width="8.7" height="4.4"/>
<path class="t" d="M2641.2 941.2v6a4.9 4.9 0 0 0 9.8 0v-6"/>
<rect class="t" x="2641.2" y="967" width="9.8" height="12"/>
<path class="k2" d="M2675.2 946L2675.2 979.2"/>
<path class="t" d="M2677.2 946L2677.2 979.2"/>
<rect class="t" x="2676.7" y="967" width="6" height="12"/>
<path class="t" d="M2617.5 955L2675.2 955"/>
<path class="t" d="M2756.5 941.2v6a4.9 4.9 0 0 0 9.8 0v-6"/>
<rect class="t" x="2756.5" y="967" width="9.8" height="12"/>
<path class="k2" d="M2790.5 946L2790.5 979.2"/>
<path class="t" d="M2792.5 946L2792.5 979.2"/>
<rect class="t" x="2792" y="967" width="6" height="12"/>
<path class="t" d="M2732.8 955L2790.5 955"/>
<path class="t" d="M2871.8 941.2v6a4.9 4.9 0 0 0 9.8 0v-6"/>
<rect class="t" x="2871.8" y="967" width="9.8" height="12"/>
<path class="k2" d="M2905.8 946L2905.8 979.2"/>
<path class="t" d="M2907.8 946L2907.8 979.2"/>
<rect class="t" x="2907.3" y="967" width="6" height="12"/>
<path class="t" d="M2848.1 955L2905.8 955"/>
<rect class="k wf" x="2591.2" y="979.2" width="15.6" height="53.6"/>
<rect class="k wf" x="2606.7" y="979.2" width="78" height="53.6"/>
<path class="t" d="M2617.5 979.2L2617.5 1032.8"/>
<rect class="t" x="2591.2" y="976.2" width="21" height="3.4"/>
<path class="t" d="M2593.2 976.2L2593.2 979.6"/>
<path class="t" d="M2596.8 976.2L2596.8 979.6"/>
<path class="t" d="M2600.4 976.2L2600.4 979.6"/>
<path class="t" d="M2604 976.2L2604 979.6"/>
<path class="t" d="M2607.6 976.2L2607.6 979.6"/>
<rect class="t" x="2651.7" y="1018" width="10.5" height="11.5" rx="2"/>
<rect class="kf" x="2653.7" y="1021" width="6.5" height="6.5"/>
<path class="k" d="M2678.7 1009.5L2678.7 1026L2682.2 1029.5L2698.7 1029.5"/>
<path class="t" d="M2681.5 1009.5L2681.5 1024.5L2683.7 1026.8L2698.7 1026.8"/>
<path class="t" d="M2678.7 1009.5L2681.5 1009.5"/>
<rect class="t" x="2679.2" y="1031" width="20" height="3.5"/>
<path class="t" d="M2681.2 1031L2681.2 1034.5"/>
<path class="t" d="M2684.2 1031L2684.2 1034.5"/>
<path class="t" d="M2687.2 1031L2687.2 1034.5"/>
<path class="t" d="M2690.2 1031L2690.2 1034.5"/>
<path class="t" d="M2693.2 1031L2693.2 1034.5"/>
<path class="t" d="M2696.2 1031L2696.2 1034.5"/>
<rect class="k wf" x="2617.5" y="1032.8" width="57.5" height="83.4"/>
<path class="k2" d="M2675.2 1032.8L2675.2 1116.2"/>
<rect class="t" x="2641.2" y="1033.5" width="9.5" height="6"/>
<rect class="kf" x="2607.7" y="1034" width="5" height="5.5"/>
<rect class="kf" x="2679.2" y="1034" width="5" height="5.5"/>
<path class="t" d="M2615.7 1034L2615.7 1052"/>
<rect class="k wf" x="2596.4" y="963.5" width="8.5" height="6.2"/>
<rect class="k wf" x="2604.4" y="961.3" width="4.5" height="10.6"/>
<rect class="k wf" x="2608.9" y="957.5" width="3.6" height="22"/>
<rect class="k wf" x="2615.4" y="963" width="4.5" height="8"/>
<path class="t" d="M2612.5 957.5L2614.4 957.5L2614.4 975L2617.2 981L2621.2 985"/>
<rect class="k wf" x="2595.2" y="1116.2" width="101.7" height="194.9"/>
<path class="t" d="M2610.3 1116.2L2610.3 1311.1"/>
<path class="t" d="M2681.4 1116.2L2681.4 1311.1"/>
<rect class="k" x="2595.2" y="1177.6" width="101.7" height="6.1"/>
<rect class="t" x="2640.7" y="1177.6" width="9.5" height="6.1"/>
<rect class="t" x="2595.2" y="1116.2" width="13" height="11.5"/>
<path class="t" d="M2598.4 1116.2L2598.4 1127.7"/>
<path class="t" d="M2601.6 1116.2L2601.6 1127.7"/>
<path class="t" d="M2604.8 1116.2L2604.8 1127.7"/>
<path class="t" d="M2595.2 1122L2608.2 1122"/>
<rect class="kf" x="2677.2" y="1108" width="5.5" height="8"/>
<rect class="k wf" x="2583.6" y="1069" width="36.2" height="47.2"/>
<circle class="k" cx="2601.3" cy="1085.6" r="6.5"/>
<path class="t" d="M2583.6 1102L2619.8 1102"/>
<circle class="k" cx="2646.1" cy="1066.9" r="7.6"/>
<circle class="k" cx="2646.1" cy="1066.9" r="5"/>
<circle class="t" cx="2646.1" cy="1057.5" r="2.6"/>
<path d="M2617.5 985C2617.65 989.88 2616.95 1002.92 2618.4 1014.3C2619.85 1025.68 2622.68 1041.52 2626.2 1053.3C2629.72 1065.08 2635.43 1073.83 2639.5 1085C2643.57 1096.17 2648.58 1111.47 2650.6 1120.3C2652.62 1129.13 2651.43 1135.05 2651.6 1138" style="stroke-width:10.5;stroke-linecap:butt"/>
<path d="M2617.5 985C2617.65 989.88 2616.95 1002.92 2618.4 1014.3C2619.85 1025.68 2622.68 1041.52 2626.2 1053.3C2629.72 1065.08 2635.43 1073.83 2639.5 1085C2643.57 1096.17 2648.58 1111.47 2650.6 1120.3C2652.62 1129.13 2651.43 1135.05 2651.6 1138" style="stroke:#fff;stroke-width:8.2;stroke-linecap:butt"/>
<rect class="k wf" x="2612.8" y="985" width="10" height="11"/>
<rect class="k wf" x="2645.7" y="1136" width="11" height="11.2"/>
<path class="k" d="M2647.2 1147.4L2643.2 1156L2643.2 1172L2640.2 1176.5L2624.2 1176.5"/>
<path class="t" d="M2651.2 1147.4L2646.2 1157L2646.2 1173L2642.2 1177.6"/>
<rect class="k wf" x="2629.2" y="1162.5" width="9" height="6.2"/>
<rect class="k wf" x="2637.7" y="1160.5" width="5" height="10.4"/>
<rect class="k wf" x="2646.7" y="1160.5" width="5.5" height="10.4"/>
<rect class="kf" x="2606.7" y="1311.1" width="5.5" height="11.5"/>
<rect class="t" x="2614.2" y="1311.1" width="2" height="11.5"/>
<rect class="t" x="2640.7" y="1311.1" width="9.5" height="12"/>
<path class="t" d="M2662.2 1311.1v10l1.5 3h2l1.5-3v-10"/>
<rect class="k wf" x="2722" y="979.2" width="78" height="53.6"/>
<path class="t" d="M2732.8 979.2L2732.8 1032.8"/>
<rect class="t" x="2706.5" y="976.2" width="21" height="3.4"/>
<path class="t" d="M2708.5 976.2L2708.5 979.6"/>
<path class="t" d="M2712.1 976.2L2712.1 979.6"/>
<path class="t" d="M2715.7 976.2L2715.7 979.6"/>
<path class="t" d="M2719.3 976.2L2719.3 979.6"/>
<path class="t" d="M2722.9 976.2L2722.9 979.6"/>
<rect class="t" x="2767" y="1018" width="10.5" height="11.5" rx="2"/>
<rect class="kf" x="2769" y="1021" width="6.5" height="6.5"/>
<path class="k" d="M2794 1009.5L2794 1026L2797.5 1029.5L2814 1029.5"/>
<path class="t" d="M2796.8 1009.5L2796.8 1024.5L2799 1026.8L2814 1026.8"/>
<path class="t" d="M2794 1009.5L2796.8 1009.5"/>
<rect class="t" x="2794.5" y="1031" width="20" height="3.5"/>
<path class="t" d="M2796.5 1031L2796.5 1034.5"/>
<path class="t" d="M2799.5 1031L2799.5 1034.5"/>
<path class="t" d="M2802.5 1031L2802.5 1034.5"/>
<path class="t" d="M2805.5 1031L2805.5 1034.5"/>
<path class="t" d="M2808.5 1031L2808.5 1034.5"/>
<path class="t" d="M2811.5 1031L2811.5 1034.5"/>
<rect class="k wf" x="2732.8" y="1032.8" width="57.5" height="83.4"/>
<path class="k2" d="M2790.5 1032.8L2790.5 1116.2"/>
<rect class="t" x="2756.5" y="1033.5" width="9.5" height="6"/>
<rect class="kf" x="2723" y="1034" width="5" height="5.5"/>
<rect class="kf" x="2794.5" y="1034" width="5" height="5.5"/>
<path class="t" d="M2731 1034L2731 1052"/>
<rect class="k wf" x="2711.7" y="963.5" width="8.5" height="6.2"/>
<rect class="k wf" x="2719.7" y="961.3" width="4.5" height="10.6"/>
<rect class="k wf" x="2724.2" y="957.5" width="3.6" height="22"/>
<rect class="k wf" x="2730.7" y="963" width="4.5" height="8"/>
<path class="t" d="M2727.8 957.5L2729.7 957.5L2729.7 975L2732.5 981L2736.5 985"/>
<rect class="k wf" x="2710.5" y="1116.2" width="101.7" height="194.9"/>
<path class="t" d="M2725.6 1116.2L2725.6 1311.1"/>
<path class="t" d="M2796.7 1116.2L2796.7 1311.1"/>
<rect class="k" x="2710.5" y="1177.6" width="101.7" height="6.1"/>
<rect class="t" x="2756" y="1177.6" width="9.5" height="6.1"/>
<rect class="t" x="2710.5" y="1116.2" width="13" height="11.5"/>
<path class="t" d="M2713.7 1116.2L2713.7 1127.7"/>
<path class="t" d="M2716.9 1116.2L2716.9 1127.7"/>
<path class="t" d="M2720.1 1116.2L2720.1 1127.7"/>
<path class="t" d="M2710.5 1122L2723.5 1122"/>
<rect class="kf" x="2792.5" y="1108" width="5.5" height="8"/>
<rect class="k wf" x="2698.9" y="1069" width="36.2" height="47.2"/>
<circle class="k" cx="2716.6" cy="1085.6" r="6.5"/>
<path class="t" d="M2698.9 1102L2735.1 1102"/>
<circle class="k" cx="2761.4" cy="1066.9" r="7.6"/>
<circle class="k" cx="2761.4" cy="1066.9" r="5"/>
<circle class="t" cx="2761.4" cy="1057.5" r="2.6"/>
<path d="M2732.8 985C2732.95 989.88 2732.25 1002.92 2733.7 1014.3C2735.15 1025.68 2737.98 1041.52 2741.5 1053.3C2745.02 1065.08 2750.73 1073.83 2754.8 1085C2758.87 1096.17 2763.88 1111.47 2765.9 1120.3C2767.92 1129.13 2766.73 1135.05 2766.9 1138" style="stroke-width:10.5;stroke-linecap:butt"/>
<path d="M2732.8 985C2732.95 989.88 2732.25 1002.92 2733.7 1014.3C2735.15 1025.68 2737.98 1041.52 2741.5 1053.3C2745.02 1065.08 2750.73 1073.83 2754.8 1085C2758.87 1096.17 2763.88 1111.47 2765.9 1120.3C2767.92 1129.13 2766.73 1135.05 2766.9 1138" style="stroke:#fff;stroke-width:8.2;stroke-linecap:butt"/>
<rect class="k wf" x="2728.1" y="985" width="10" height="11"/>
<rect class="k wf" x="2761" y="1136" width="11" height="11.2"/>
<path class="k" d="M2762.5 1147.4L2758.5 1156L2758.5 1172L2755.5 1176.5L2739.5 1176.5"/>
<path class="t" d="M2766.5 1147.4L2761.5 1157L2761.5 1173L2757.5 1177.6"/>
<rect class="k wf" x="2744.5" y="1162.5" width="9" height="6.2"/>
<rect class="k wf" x="2753" y="1160.5" width="5" height="10.4"/>
<rect class="k wf" x="2762" y="1160.5" width="5.5" height="10.4"/>
<rect class="kf" x="2722" y="1311.1" width="5.5" height="11.5"/>
<rect class="t" x="2729.5" y="1311.1" width="2" height="11.5"/>
<rect class="t" x="2756" y="1311.1" width="9.5" height="12"/>
<path class="t" d="M2777.5 1311.1v10l1.5 3h2l1.5-3v-10"/>
<rect class="k wf" x="2915.3" y="979.2" width="14.5" height="53.6"/>
<rect class="k wf" x="2837.3" y="979.2" width="78" height="53.6"/>
<path class="t" d="M2848.1 979.2L2848.1 1032.8"/>
<rect class="t" x="2821.8" y="976.2" width="21" height="3.4"/>
<path class="t" d="M2823.8 976.2L2823.8 979.6"/>
<path class="t" d="M2827.4 976.2L2827.4 979.6"/>
<path class="t" d="M2831 976.2L2831 979.6"/>
<path class="t" d="M2834.6 976.2L2834.6 979.6"/>
<path class="t" d="M2838.2 976.2L2838.2 979.6"/>
<rect class="t" x="2882.3" y="1018" width="10.5" height="11.5" rx="2"/>
<rect class="kf" x="2884.3" y="1021" width="6.5" height="6.5"/>
<path class="k" d="M2909.3 1009.5L2909.3 1026L2912.8 1029.5L2929.3 1029.5"/>
<path class="t" d="M2912.1 1009.5L2912.1 1024.5L2914.3 1026.8L2929.3 1026.8"/>
<path class="t" d="M2909.3 1009.5L2912.1 1009.5"/>
<rect class="t" x="2909.8" y="1031" width="20" height="3.5"/>
<path class="t" d="M2911.8 1031L2911.8 1034.5"/>
<path class="t" d="M2914.8 1031L2914.8 1034.5"/>
<path class="t" d="M2917.8 1031L2917.8 1034.5"/>
<path class="t" d="M2920.8 1031L2920.8 1034.5"/>
<path class="t" d="M2923.8 1031L2923.8 1034.5"/>
<path class="t" d="M2926.8 1031L2926.8 1034.5"/>
<rect class="k wf" x="2848.1" y="1032.8" width="57.5" height="83.4"/>
<path class="k2" d="M2905.8 1032.8L2905.8 1116.2"/>
<rect class="t" x="2871.8" y="1033.5" width="9.5" height="6"/>
<rect class="kf" x="2838.3" y="1034" width="5" height="5.5"/>
<rect class="kf" x="2909.8" y="1034" width="5" height="5.5"/>
<path class="t" d="M2846.3 1034L2846.3 1052"/>
<rect class="k wf" x="2827" y="963.5" width="8.5" height="6.2"/>
<rect class="k wf" x="2835" y="961.3" width="4.5" height="10.6"/>
<rect class="k wf" x="2839.5" y="957.5" width="3.6" height="22"/>
<rect class="k wf" x="2846" y="963" width="4.5" height="8"/>
<path class="t" d="M2843.1 957.5L2845 957.5L2845 975L2847.8 981L2851.8 985"/>
<rect class="k wf" x="2825.8" y="1116.2" width="101.7" height="194.9"/>
<path class="t" d="M2840.9 1116.2L2840.9 1311.1"/>
<path class="t" d="M2912 1116.2L2912 1311.1"/>
<rect class="k" x="2825.8" y="1177.6" width="101.7" height="6.1"/>
<rect class="t" x="2871.3" y="1177.6" width="9.5" height="6.1"/>
<rect class="t" x="2825.8" y="1116.2" width="13" height="11.5"/>
<path class="t" d="M2829 1116.2L2829 1127.7"/>
<path class="t" d="M2832.2 1116.2L2832.2 1127.7"/>
<path class="t" d="M2835.4 1116.2L2835.4 1127.7"/>
<path class="t" d="M2825.8 1122L2838.8 1122"/>
<rect class="kf" x="2907.8" y="1108" width="5.5" height="8"/>
<rect class="k wf" x="2814.2" y="1069" width="36.2" height="47.2"/>
<circle class="k" cx="2831.9" cy="1085.6" r="6.5"/>
<path class="t" d="M2814.2 1102L2850.4 1102"/>
<circle class="k" cx="2876.7" cy="1066.9" r="7.6"/>
<circle class="k" cx="2876.7" cy="1066.9" r="5"/>
<circle class="t" cx="2876.7" cy="1057.5" r="2.6"/>
<path d="M2848.1 985C2848.25 989.88 2847.55 1002.92 2849 1014.3C2850.45 1025.68 2853.28 1041.52 2856.8 1053.3C2860.32 1065.08 2866.03 1073.83 2870.1 1085C2874.17 1096.17 2879.18 1111.47 2881.2 1120.3C2883.22 1129.13 2882.03 1135.05 2882.2 1138" style="stroke-width:10.5;stroke-linecap:butt"/>
<path d="M2848.1 985C2848.25 989.88 2847.55 1002.92 2849 1014.3C2850.45 1025.68 2853.28 1041.52 2856.8 1053.3C2860.32 1065.08 2866.03 1073.83 2870.1 1085C2874.17 1096.17 2879.18 1111.47 2881.2 1120.3C2883.22 1129.13 2882.03 1135.05 2882.2 1138" style="stroke:#fff;stroke-width:8.2;stroke-linecap:butt"/>
<rect class="k wf" x="2843.4" y="985" width="10" height="11"/>
<rect class="k wf" x="2876.3" y="1136" width="11" height="11.2"/>
<path class="k" d="M2877.8 1147.4L2873.8 1156L2873.8 1172L2870.8 1176.5L2854.8 1176.5"/>
<path class="t" d="M2881.8 1147.4L2876.8 1157L2876.8 1173L2872.8 1177.6"/>
<rect class="k wf" x="2859.8" y="1162.5" width="9" height="6.2"/>
<rect class="k wf" x="2868.3" y="1160.5" width="5" height="10.4"/>
<rect class="k wf" x="2877.3" y="1160.5" width="5.5" height="10.4"/>
<rect class="kf" x="2837.3" y="1311.1" width="5.5" height="11.5"/>
<rect class="t" x="2844.8" y="1311.1" width="2" height="11.5"/>
<rect class="t" x="2871.3" y="1311.1" width="9.5" height="12"/>
<path class="t" d="M2892.8 1311.1v10l1.5 3h2l1.5-3v-10"/>
<path class="k" d="M2780 883.8C2783.33 883.75 2794.5 882.2 2800 883.5C2805.5 884.8 2810.5 887.35 2813 891.6C2815.5 895.85 2818.2 902.18 2815 909C2811.8 915.82 2801.88 925.33 2793.8 932.5C2785.72 939.67 2772.35 944.87 2766.5 952C2760.65 959.13 2760 971.42 2758.7 975.3"/>
<path class="t" d="M2780 885.8C2783.33 885.75 2794.83 884.37 2800 885.5C2805.17 886.63 2808.83 888.68 2811 892.6C2813.17 896.52 2816.2 902.52 2813 909C2809.8 915.48 2799.88 924.5 2791.8 931.5C2783.72 938.5 2770.35 943.7 2764.5 951C2758.65 958.3 2758 971.25 2756.7 975.3"/>
<rect class="t" x="2756" y="975" width="6" height="12"/>
<rect class="k wf" x="2697.5" y="1116.2" width="11.8" height="215"/>
<path class="t" d="M2699.5 1116.2L2699.5 1331"/>
<rect class="k wf" x="2812.8" y="1116.2" width="11.8" height="215"/>
<path class="t" d="M2814.8 1116.2L2814.8 1331"/>
<rect class="k wf" x="2671.3" y="1250.7" width="36" height="47.3"/>
<circle class="k" cx="2689.8" cy="1268.6" r="6.5"/>
<path class="t" d="M2671.3 1290L2707.3 1290"/>
<rect class="t" x="2682.7" y="1299.5" width="14" height="11.6"/>
<path class="t" d="M2686.2 1299.5L2686.2 1311.1"/>
<path class="t" d="M2689.7 1299.5L2689.7 1311.1"/>
<path class="t" d="M2693.2 1299.5L2693.2 1311.1"/>
<path class="t" d="M2682.7 1305L2696.7 1305"/>
<rect class="k wf" x="2786.6" y="1250.7" width="36" height="47.3"/>
<circle class="k" cx="2805.1" cy="1268.6" r="6.5"/>
<path class="t" d="M2786.6 1290L2822.6 1290"/>
<rect class="t" x="2798" y="1299.5" width="14" height="11.6"/>
<path class="t" d="M2801.5 1299.5L2801.5 1311.1"/>
<path class="t" d="M2805 1299.5L2805 1311.1"/>
<path class="t" d="M2808.5 1299.5L2808.5 1311.1"/>
<path class="t" d="M2798 1305L2812 1305"/>
<rect class="k wf" x="2901.9" y="1250.7" width="36" height="47.3"/>
<circle class="k" cx="2920.4" cy="1268.6" r="6.5"/>
<path class="t" d="M2901.9 1290L2937.9 1290"/>
<rect class="t" x="2913.8" y="1299.5" width="12" height="11.6"/>
<path class="t" d="M2916.8 1299.5L2916.8 1311.1"/>
<path class="t" d="M2919.8 1299.5L2919.8 1311.1"/>
<path class="t" d="M2922.8 1299.5L2922.8 1311.1"/>
<circle class="k wf" cx="2618" cy="1122.3" r="7.4"/>
<circle class="t" cx="2618" cy="1122.3" r="6"/>
<rect class="kf" x="2614.4" y="1119.7" width="7.2" height="5.2" rx="1"/>
<circle class="k wf" cx="2732.8" cy="1122.3" r="7.4"/>
<circle class="t" cx="2732.8" cy="1122.3" r="6"/>
<rect class="kf" x="2729.2" y="1119.7" width="7.2" height="5.2" rx="1"/>
<circle class="k wf" cx="2673.1" cy="1305" r="7.4"/>
<circle class="t" cx="2673.1" cy="1305" r="6"/>
<rect class="kf" x="2669.5" y="1302.4" width="7.2" height="5.2" rx="1"/>
<circle class="k wf" cx="2788" cy="1305" r="7.4"/>
<circle class="t" cx="2788" cy="1305" r="6"/>
<rect class="kf" x="2784.4" y="1302.4" width="7.2" height="5.2" rx="1"/>
<circle class="k wf" cx="2903" cy="1305" r="7.4"/>
<circle class="t" cx="2903" cy="1305" r="6"/>
<rect class="kf" x="2899.4" y="1302.4" width="7.2" height="5.2" rx="1"/>
<rect class="t" x="2843.5" y="1117.6" width="9" height="8.5" rx="1.5"/>
<rect class="kf" x="2845.3" y="1119.6" width="5.4" height="4.4"/>
<path class="k" d="M2578.5 1338.3L2617 1338.3L2617 1350L2612 1362L2600 1368L2578.5 1368"/>
<path class="k" d="M2944.5 1338.3L2906 1338.3L2906 1350L2911 1362L2923 1368L2944.5 1368"/>
<rect class="k" x="2578.5" y="1338.3" width="366" height="38.6"/>
<path class="k" d="M2578.5 1381L2944.5 1381"/>
<path class="k" d="M2578.5 1376.9L2578.5 1381"/>
<path class="k" d="M2944.5 1376.9L2944.5 1381"/>
<rect class="k" x="2588.8" y="1346.6" width="8.8" height="19.6" rx="4.4"/>
<rect class="k" x="2924.6" y="1346.6" width="8.8" height="19.6" rx="4.4"/>
<circle class="k" cx="2646.2" cy="1351.3" r="8"/>
<circle class="k" cx="2646.2" cy="1351.3" r="5.3"/>
<circle class="k" cx="2760.9" cy="1351.3" r="8"/>
<circle class="k" cx="2760.9" cy="1351.3" r="5.3"/>
<circle class="k" cx="2876" cy="1351.3" r="8"/>
<circle class="k" cx="2876" cy="1351.3" r="5.3"/>
<path class="k" d="M2656.6 1338.3L2656.6 1333L2750.2 1333L2750.2 1338.3"/>
<path class="t" d="M2657.6 1335.5L2749.2 1335.5"/>
<path class="k" d="M2772.4 1338.3L2772.4 1333L2866 1333L2866 1338.3"/>
<path class="t" d="M2773.4 1335.5L2865 1335.5"/>
<rect class="k" x="2675" y="1311.1" width="55" height="22"/>
<rect class="k2" x="2685" y="1314" width="37" height="6"/>
<rect class="k" x="2790.5" y="1311.1" width="55" height="22"/>
<rect class="k2" x="2800.5" y="1314" width="37" height="6"/>
<rect class="k wf" x="2697.5" y="1298" width="9.5" height="35"/>
<rect class="k wf" x="2695" y="1338.3" width="14.5" height="4.5"/>
<rect class="k wf" x="2698" y="1342.8" width="8.5" height="7"/>
<rect class="k wf" x="2812.8" y="1298" width="9.5" height="35"/>
<rect class="k wf" x="2810.3" y="1338.3" width="14.5" height="4.5"/>
<rect class="k wf" x="2813.3" y="1342.8" width="8.5" height="7"/>
<path class="k" d="M2617 1311.1L2617 1338.3"/>
<path class="k" d="M2906 1311.1L2906 1338.3"/>
<g transform="translate(395 777.6) scale(0.5714) translate(-2578.1 -821.4)" class="ns">
<rect class="k wf" x="2578.1" y="827.3" width="366.7" height="113.9"/>
<rect class="k" x="2578.1" y="821.4" width="78.7" height="5.9"/>
<rect class="k" x="2866.3" y="821.4" width="78.5" height="5.9"/>
<path class="t" d="M2578.1 896.4L2944.8 896.4"/>
<path class="t" d="M2578.1 899L2944.8 899"/>
<path class="t" d="M2578.1 901.5L2944.8 901.5"/>
<path class="t" d="M2578.1 904.2L2944.8 904.2"/>
<rect class="k" x="2617.5" y="899" width="287.7" height="42.2"/>
<path class="k" d="M2590.3 858.5a4.6 4.6 0 1 1 5.6 0a8.6 8.6 0 1 1 -5.6 0z"/>
<path class="k" d="M2926.4 858.5a4.6 4.6 0 1 1 5.6 0a8.6 8.6 0 1 1 -5.6 0z"/>
<circle class="k" cx="2646.1" cy="926.6" r="8.3"/>
<circle class="k" cx="2646.1" cy="926.6" r="5.3"/>
<circle class="k" cx="2761" cy="926.6" r="8.3"/>
<circle class="k" cx="2761" cy="926.6" r="5.3"/>
<circle class="k" cx="2876.2" cy="926.6" r="8.3"/>
<circle class="k" cx="2876.2" cy="926.6" r="5.3"/>
<rect class="t" x="2744.2" y="871.1" width="8.5" height="8"/>
<rect class="t" x="2742.7" y="879" width="12.4" height="18.4"/>
<rect class="kf" x="2744.7" y="883" width="8.4" height="8"/>
<rect class="t" x="2757" y="871.1" width="8.5" height="8"/>
<rect class="t" x="2755.5" y="879" width="12.4" height="18.4"/>
<rect class="kf" x="2757.5" y="883" width="8.4" height="8"/>
<rect class="t" x="2769.8" y="871.1" width="8.5" height="8"/>
<rect class="t" x="2768.3" y="879" width="12.4" height="18.4"/>
<rect class="kf" x="2770.3" y="883" width="8.4" height="8"/>
<rect class="k wf" x="2617.5" y="941.2" width="287.7" height="38"/>
<path class="k" d="M2659.5 941.2L2747.5 941.2L2745 946L2662 946Z"/>
<path class="k" d="M2777.5 941.2L2865.5 941.2L2863 946L2780 946Z"/>
<rect class="k wf" x="2699.3" y="933.6" width="8.7" height="46"/>
<rect class="k" x="2696.3" y="936.4" width="14.6" height="7"/>
<rect class="k" x="2699.3" y="929.2" width="8.7" height="4.4"/>
<rect class="k wf" x="2814.3" y="933.6" width="8.7" height="46"/>
<rect class="k" x="2811.3" y="936.4" width="14.6" height="7"/>
<rect class="k" x="2814.3" y="929.2" width="8.7" height="4.4"/>
<path class="t" d="M2641.2 941.2v6a4.9 4.9 0 0 0 9.8 0v-6"/>
<rect class="t" x="2641.2" y="967" width="9.8" height="12"/>
<path class="k2" d="M2675.2 946L2675.2 979.2"/>
<path class="t" d="M2677.2 946L2677.2 979.2"/>
<rect class="t" x="2676.7" y="967" width="6" height="12"/>
<path class="t" d="M2617.5 955L2675.2 955"/>
<path class="t" d="M2756.5 941.2v6a4.9 4.9 0 0 0 9.8 0v-6"/>
<rect class="t" x="2756.5" y="967" width="9.8" height="12"/>
<path class="k2" d="M2790.5 946L2790.5 979.2"/>
<path class="t" d="M2792.5 946L2792.5 979.2"/>
<rect class="t" x="2792" y="967" width="6" height="12"/>
<path class="t" d="M2732.8 955L2790.5 955"/>
<path class="t" d="M2871.8 941.2v6a4.9 4.9 0 0 0 9.8 0v-6"/>
<rect class="t" x="2871.8" y="967" width="9.8" height="12"/>
<path class="k2" d="M2905.8 946L2905.8 979.2"/>
<path class="t" d="M2907.8 946L2907.8 979.2"/>
<rect class="t" x="2907.3" y="967" width="6" height="12"/>
<path class="t" d="M2848.1 955L2905.8 955"/>
<rect class="k wf" x="2591.2" y="979.2" width="15.6" height="53.6"/>
<rect class="k wf" x="2606.7" y="979.2" width="78" height="53.6"/>
<path class="t" d="M2617.5 979.2L2617.5 1032.8"/>
<rect class="t" x="2591.2" y="976.2" width="21" height="3.4"/>
<path class="t" d="M2593.2 976.2L2593.2 979.6"/>
<path class="t" d="M2596.8 976.2L2596.8 979.6"/>
<path class="t" d="M2600.4 976.2L2600.4 979.6"/>
<path class="t" d="M2604 976.2L2604 979.6"/>
<path class="t" d="M2607.6 976.2L2607.6 979.6"/>
<rect class="t" x="2651.7" y="1018" width="10.5" height="11.5" rx="2"/>
<rect class="kf" x="2653.7" y="1021" width="6.5" height="6.5"/>
<path class="k" d="M2678.7 1009.5L2678.7 1026L2682.2 1029.5L2698.7 1029.5"/>
<path class="t" d="M2681.5 1009.5L2681.5 1024.5L2683.7 1026.8L2698.7 1026.8"/>
<path class="t" d="M2678.7 1009.5L2681.5 1009.5"/>
<rect class="t" x="2679.2" y="1031" width="20" height="3.5"/>
<path class="t" d="M2681.2 1031L2681.2 1034.5"/>
<path class="t" d="M2684.2 1031L2684.2 1034.5"/>
<path class="t" d="M2687.2 1031L2687.2 1034.5"/>
<path class="t" d="M2690.2 1031L2690.2 1034.5"/>
<path class="t" d="M2693.2 1031L2693.2 1034.5"/>
<path class="t" d="M2696.2 1031L2696.2 1034.5"/>
<rect class="k wf" x="2617.5" y="1032.8" width="57.5" height="83.4"/>
<path class="k2" d="M2675.2 1032.8L2675.2 1116.2"/>
<rect class="t" x="2641.2" y="1033.5" width="9.5" height="6"/>
<rect class="kf" x="2607.7" y="1034" width="5" height="5.5"/>
<rect class="kf" x="2679.2" y="1034" width="5" height="5.5"/>
<path class="t" d="M2615.7 1034L2615.7 1052"/>
<rect class="k wf" x="2596.4" y="963.5" width="8.5" height="6.2"/>
<rect class="k wf" x="2604.4" y="961.3" width="4.5" height="10.6"/>
<rect class="k wf" x="2608.9" y="957.5" width="3.6" height="22"/>
<rect class="k wf" x="2615.4" y="963" width="4.5" height="8"/>
<path class="t" d="M2612.5 957.5L2614.4 957.5L2614.4 975L2617.2 981L2621.2 985"/>
<rect class="k wf" x="2595.2" y="1116.2" width="101.7" height="194.9"/>
<path class="t" d="M2610.3 1116.2L2610.3 1311.1"/>
<path class="t" d="M2681.4 1116.2L2681.4 1311.1"/>
<rect class="k" x="2595.2" y="1177.6" width="101.7" height="6.1"/>
<rect class="t" x="2640.7" y="1177.6" width="9.5" height="6.1"/>
<rect class="t" x="2595.2" y="1116.2" width="13" height="11.5"/>
<path class="t" d="M2598.4 1116.2L2598.4 1127.7"/>
<path class="t" d="M2601.6 1116.2L2601.6 1127.7"/>
<path class="t" d="M2604.8 1116.2L2604.8 1127.7"/>
<path class="t" d="M2595.2 1122L2608.2 1122"/>
<rect class="kf" x="2677.2" y="1108" width="5.5" height="8"/>
<rect class="k wf" x="2583.6" y="1069" width="36.2" height="47.2"/>
<circle class="k" cx="2601.3" cy="1085.6" r="6.5"/>
<path class="t" d="M2583.6 1102L2619.8 1102"/>
<circle class="k" cx="2646.1" cy="1066.9" r="7.6"/>
<circle class="k" cx="2646.1" cy="1066.9" r="5"/>
<circle class="t" cx="2646.1" cy="1057.5" r="2.6"/>
<path d="M2617.5 985C2617.65 989.88 2616.95 1002.92 2618.4 1014.3C2619.85 1025.68 2622.68 1041.52 2626.2 1053.3C2629.72 1065.08 2635.43 1073.83 2639.5 1085C2643.57 1096.17 2648.58 1111.47 2650.6 1120.3C2652.62 1129.13 2651.43 1135.05 2651.6 1138" style="stroke-width:6.2;stroke-linecap:butt"/>
<path d="M2617.5 985C2617.65 989.88 2616.95 1002.92 2618.4 1014.3C2619.85 1025.68 2622.68 1041.52 2626.2 1053.3C2629.72 1065.08 2635.43 1073.83 2639.5 1085C2643.57 1096.17 2648.58 1111.47 2650.6 1120.3C2652.62 1129.13 2651.43 1135.05 2651.6 1138" style="stroke:#fff;stroke-width:3.9;stroke-linecap:butt"/>
<rect class="k wf" x="2612.8" y="985" width="10" height="11"/>
<rect class="k wf" x="2645.7" y="1136" width="11" height="11.2"/>
<path class="k" d="M2647.2 1147.4L2643.2 1156L2643.2 1172L2640.2 1176.5L2624.2 1176.5"/>
<path class="t" d="M2651.2 1147.4L2646.2 1157L2646.2 1173L2642.2 1177.6"/>
<rect class="k wf" x="2629.2" y="1162.5" width="9" height="6.2"/>
<rect class="k wf" x="2637.7" y="1160.5" width="5" height="10.4"/>
<rect class="k wf" x="2646.7" y="1160.5" width="5.5" height="10.4"/>
<rect class="kf" x="2606.7" y="1311.1" width="5.5" height="11.5"/>
<rect class="t" x="2614.2" y="1311.1" width="2" height="11.5"/>
<rect class="t" x="2640.7" y="1311.1" width="9.5" height="12"/>
<path class="t" d="M2662.2 1311.1v10l1.5 3h2l1.5-3v-10"/>
<rect class="k wf" x="2722" y="979.2" width="78" height="53.6"/>
<path class="t" d="M2732.8 979.2L2732.8 1032.8"/>
<rect class="t" x="2706.5" y="976.2" width="21" height="3.4"/>
<path class="t" d="M2708.5 976.2L2708.5 979.6"/>
<path class="t" d="M2712.1 976.2L2712.1 979.6"/>
<path class="t" d="M2715.7 976.2L2715.7 979.6"/>
<path class="t" d="M2719.3 976.2L2719.3 979.6"/>
<path class="t" d="M2722.9 976.2L2722.9 979.6"/>
<rect class="t" x="2767" y="1018" width="10.5" height="11.5" rx="2"/>
<rect class="kf" x="2769" y="1021" width="6.5" height="6.5"/>
<path class="k" d="M2794 1009.5L2794 1026L2797.5 1029.5L2814 1029.5"/>
<path class="t" d="M2796.8 1009.5L2796.8 1024.5L2799 1026.8L2814 1026.8"/>
<path class="t" d="M2794 1009.5L2796.8 1009.5"/>
<rect class="t" x="2794.5" y="1031" width="20" height="3.5"/>
<path class="t" d="M2796.5 1031L2796.5 1034.5"/>
<path class="t" d="M2799.5 1031L2799.5 1034.5"/>
<path class="t" d="M2802.5 1031L2802.5 1034.5"/>
<path class="t" d="M2805.5 1031L2805.5 1034.5"/>
<path class="t" d="M2808.5 1031L2808.5 1034.5"/>
<path class="t" d="M2811.5 1031L2811.5 1034.5"/>
<rect class="k wf" x="2732.8" y="1032.8" width="57.5" height="83.4"/>
<path class="k2" d="M2790.5 1032.8L2790.5 1116.2"/>
<rect class="t" x="2756.5" y="1033.5" width="9.5" height="6"/>
<rect class="kf" x="2723" y="1034" width="5" height="5.5"/>
<rect class="kf" x="2794.5" y="1034" width="5" height="5.5"/>
<path class="t" d="M2731 1034L2731 1052"/>
<rect class="k wf" x="2711.7" y="963.5" width="8.5" height="6.2"/>
<rect class="k wf" x="2719.7" y="961.3" width="4.5" height="10.6"/>
<rect class="k wf" x="2724.2" y="957.5" width="3.6" height="22"/>
<rect class="k wf" x="2730.7" y="963" width="4.5" height="8"/>
<path class="t" d="M2727.8 957.5L2729.7 957.5L2729.7 975L2732.5 981L2736.5 985"/>
<rect class="k wf" x="2710.5" y="1116.2" width="101.7" height="194.9"/>
<path class="t" d="M2725.6 1116.2L2725.6 1311.1"/>
<path class="t" d="M2796.7 1116.2L2796.7 1311.1"/>
<rect class="k" x="2710.5" y="1177.6" width="101.7" height="6.1"/>
<rect class="t" x="2756" y="1177.6" width="9.5" height="6.1"/>
<rect class="t" x="2710.5" y="1116.2" width="13" height="11.5"/>
<path class="t" d="M2713.7 1116.2L2713.7 1127.7"/>
<path class="t" d="M2716.9 1116.2L2716.9 1127.7"/>
<path class="t" d="M2720.1 1116.2L2720.1 1127.7"/>
<path class="t" d="M2710.5 1122L2723.5 1122"/>
<rect class="kf" x="2792.5" y="1108" width="5.5" height="8"/>
<rect class="k wf" x="2698.9" y="1069" width="36.2" height="47.2"/>
<circle class="k" cx="2716.6" cy="1085.6" r="6.5"/>
<path class="t" d="M2698.9 1102L2735.1 1102"/>
<circle class="k" cx="2761.4" cy="1066.9" r="7.6"/>
<circle class="k" cx="2761.4" cy="1066.9" r="5"/>
<circle class="t" cx="2761.4" cy="1057.5" r="2.6"/>
<path d="M2732.8 985C2732.95 989.88 2732.25 1002.92 2733.7 1014.3C2735.15 1025.68 2737.98 1041.52 2741.5 1053.3C2745.02 1065.08 2750.73 1073.83 2754.8 1085C2758.87 1096.17 2763.88 1111.47 2765.9 1120.3C2767.92 1129.13 2766.73 1135.05 2766.9 1138" style="stroke-width:6.2;stroke-linecap:butt"/>
<path d="M2732.8 985C2732.95 989.88 2732.25 1002.92 2733.7 1014.3C2735.15 1025.68 2737.98 1041.52 2741.5 1053.3C2745.02 1065.08 2750.73 1073.83 2754.8 1085C2758.87 1096.17 2763.88 1111.47 2765.9 1120.3C2767.92 1129.13 2766.73 1135.05 2766.9 1138" style="stroke:#fff;stroke-width:3.9;stroke-linecap:butt"/>
<rect class="k wf" x="2728.1" y="985" width="10" height="11"/>
<rect class="k wf" x="2761" y="1136" width="11" height="11.2"/>
<path class="k" d="M2762.5 1147.4L2758.5 1156L2758.5 1172L2755.5 1176.5L2739.5 1176.5"/>
<path class="t" d="M2766.5 1147.4L2761.5 1157L2761.5 1173L2757.5 1177.6"/>
<rect class="k wf" x="2744.5" y="1162.5" width="9" height="6.2"/>
<rect class="k wf" x="2753" y="1160.5" width="5" height="10.4"/>
<rect class="k wf" x="2762" y="1160.5" width="5.5" height="10.4"/>
<rect class="kf" x="2722" y="1311.1" width="5.5" height="11.5"/>
<rect class="t" x="2729.5" y="1311.1" width="2" height="11.5"/>
<rect class="t" x="2756" y="1311.1" width="9.5" height="12"/>
<path class="t" d="M2777.5 1311.1v10l1.5 3h2l1.5-3v-10"/>
<rect class="k wf" x="2915.3" y="979.2" width="14.5" height="53.6"/>
<rect class="k wf" x="2837.3" y="979.2" width="78" height="53.6"/>
<path class="t" d="M2848.1 979.2L2848.1 1032.8"/>
<rect class="t" x="2821.8" y="976.2" width="21" height="3.4"/>
<path class="t" d="M2823.8 976.2L2823.8 979.6"/>
<path class="t" d="M2827.4 976.2L2827.4 979.6"/>
<path class="t" d="M2831 976.2L2831 979.6"/>
<path class="t" d="M2834.6 976.2L2834.6 979.6"/>
<path class="t" d="M2838.2 976.2L2838.2 979.6"/>
<rect class="t" x="2882.3" y="1018" width="10.5" height="11.5" rx="2"/>
<rect class="kf" x="2884.3" y="1021" width="6.5" height="6.5"/>
<path class="k" d="M2909.3 1009.5L2909.3 1026L2912.8 1029.5L2929.3 1029.5"/>
<path class="t" d="M2912.1 1009.5L2912.1 1024.5L2914.3 1026.8L2929.3 1026.8"/>
<path class="t" d="M2909.3 1009.5L2912.1 1009.5"/>
<rect class="t" x="2909.8" y="1031" width="20" height="3.5"/>
<path class="t" d="M2911.8 1031L2911.8 1034.5"/>
<path class="t" d="M2914.8 1031L2914.8 1034.5"/>
<path class="t" d="M2917.8 1031L2917.8 1034.5"/>
<path class="t" d="M2920.8 1031L2920.8 1034.5"/>
<path class="t" d="M2923.8 1031L2923.8 1034.5"/>
<path class="t" d="M2926.8 1031L2926.8 1034.5"/>
<rect class="k wf" x="2848.1" y="1032.8" width="57.5" height="83.4"/>
<path class="k2" d="M2905.8 1032.8L2905.8 1116.2"/>
<rect class="t" x="2871.8" y="1033.5" width="9.5" height="6"/>
<rect class="kf" x="2838.3" y="1034" width="5" height="5.5"/>
<rect class="kf" x="2909.8" y="1034" width="5" height="5.5"/>
<path class="t" d="M2846.3 1034L2846.3 1052"/>
<rect class="k wf" x="2827" y="963.5" width="8.5" height="6.2"/>
<rect class="k wf" x="2835" y="961.3" width="4.5" height="10.6"/>
<rect class="k wf" x="2839.5" y="957.5" width="3.6" height="22"/>
<rect class="k wf" x="2846" y="963" width="4.5" height="8"/>
<path class="t" d="M2843.1 957.5L2845 957.5L2845 975L2847.8 981L2851.8 985"/>
<rect class="k wf" x="2825.8" y="1116.2" width="101.7" height="194.9"/>
<path class="t" d="M2840.9 1116.2L2840.9 1311.1"/>
<path class="t" d="M2912 1116.2L2912 1311.1"/>
<rect class="k" x="2825.8" y="1177.6" width="101.7" height="6.1"/>
<rect class="t" x="2871.3" y="1177.6" width="9.5" height="6.1"/>
<rect class="t" x="2825.8" y="1116.2" width="13" height="11.5"/>
<path class="t" d="M2829 1116.2L2829 1127.7"/>
<path class="t" d="M2832.2 1116.2L2832.2 1127.7"/>
<path class="t" d="M2835.4 1116.2L2835.4 1127.7"/>
<path class="t" d="M2825.8 1122L2838.8 1122"/>
<rect class="kf" x="2907.8" y="1108" width="5.5" height="8"/>
<rect class="k wf" x="2814.2" y="1069" width="36.2" height="47.2"/>
<circle class="k" cx="2831.9" cy="1085.6" r="6.5"/>
<path class="t" d="M2814.2 1102L2850.4 1102"/>
<circle class="k" cx="2876.7" cy="1066.9" r="7.6"/>
<circle class="k" cx="2876.7" cy="1066.9" r="5"/>
<circle class="t" cx="2876.7" cy="1057.5" r="2.6"/>
<path d="M2848.1 985C2848.25 989.88 2847.55 1002.92 2849 1014.3C2850.45 1025.68 2853.28 1041.52 2856.8 1053.3C2860.32 1065.08 2866.03 1073.83 2870.1 1085C2874.17 1096.17 2879.18 1111.47 2881.2 1120.3C2883.22 1129.13 2882.03 1135.05 2882.2 1138" style="stroke-width:6.2;stroke-linecap:butt"/>
<path d="M2848.1 985C2848.25 989.88 2847.55 1002.92 2849 1014.3C2850.45 1025.68 2853.28 1041.52 2856.8 1053.3C2860.32 1065.08 2866.03 1073.83 2870.1 1085C2874.17 1096.17 2879.18 1111.47 2881.2 1120.3C2883.22 1129.13 2882.03 1135.05 2882.2 1138" style="stroke:#fff;stroke-width:3.9;stroke-linecap:butt"/>
<rect class="k wf" x="2843.4" y="985" width="10" height="11"/>
<rect class="k wf" x="2876.3" y="1136" width="11" height="11.2"/>
<path class="k" d="M2877.8 1147.4L2873.8 1156L2873.8 1172L2870.8 1176.5L2854.8 1176.5"/>
<path class="t" d="M2881.8 1147.4L2876.8 1157L2876.8 1173L2872.8 1177.6"/>
<rect class="k wf" x="2859.8" y="1162.5" width="9" height="6.2"/>
<rect class="k wf" x="2868.3" y="1160.5" width="5" height="10.4"/>
<rect class="k wf" x="2877.3" y="1160.5" width="5.5" height="10.4"/>
<rect class="kf" x="2837.3" y="1311.1" width="5.5" height="11.5"/>
<rect class="t" x="2844.8" y="1311.1" width="2" height="11.5"/>
<rect class="t" x="2871.3" y="1311.1" width="9.5" height="12"/>
<path class="t" d="M2892.8 1311.1v10l1.5 3h2l1.5-3v-10"/>
<path class="k" d="M2780 883.8C2783.33 883.75 2794.5 882.2 2800 883.5C2805.5 884.8 2810.5 887.35 2813 891.6C2815.5 895.85 2818.2 902.18 2815 909C2811.8 915.82 2801.88 925.33 2793.8 932.5C2785.72 939.67 2772.35 944.87 2766.5 952C2760.65 959.13 2760 971.42 2758.7 975.3"/>
<path class="t" d="M2780 885.8C2783.33 885.75 2794.83 884.37 2800 885.5C2805.17 886.63 2808.83 888.68 2811 892.6C2813.17 896.52 2816.2 902.52 2813 909C2809.8 915.48 2799.88 924.5 2791.8 931.5C2783.72 938.5 2770.35 943.7 2764.5 951C2758.65 958.3 2758 971.25 2756.7 975.3"/>
<rect class="t" x="2756" y="975" width="6" height="12"/>
<rect class="k wf" x="2697.5" y="1116.2" width="11.8" height="215"/>
<path class="t" d="M2699.5 1116.2L2699.5 1331"/>
<rect class="k wf" x="2812.8" y="1116.2" width="11.8" height="215"/>
<path class="t" d="M2814.8 1116.2L2814.8 1331"/>
<rect class="k wf" x="2671.3" y="1250.7" width="36" height="47.3"/>
<circle class="k" cx="2689.8" cy="1268.6" r="6.5"/>
<path class="t" d="M2671.3 1290L2707.3 1290"/>
<rect class="t" x="2682.7" y="1299.5" width="14" height="11.6"/>
<path class="t" d="M2686.2 1299.5L2686.2 1311.1"/>
<path class="t" d="M2689.7 1299.5L2689.7 1311.1"/>
<path class="t" d="M2693.2 1299.5L2693.2 1311.1"/>
<path class="t" d="M2682.7 1305L2696.7 1305"/>
<rect class="k wf" x="2786.6" y="1250.7" width="36" height="47.3"/>
<circle class="k" cx="2805.1" cy="1268.6" r="6.5"/>
<path class="t" d="M2786.6 1290L2822.6 1290"/>
<rect class="t" x="2798" y="1299.5" width="14" height="11.6"/>
<path class="t" d="M2801.5 1299.5L2801.5 1311.1"/>
<path class="t" d="M2805 1299.5L2805 1311.1"/>
<path class="t" d="M2808.5 1299.5L2808.5 1311.1"/>
<path class="t" d="M2798 1305L2812 1305"/>
<rect class="k wf" x="2901.9" y="1250.7" width="36" height="47.3"/>
<circle class="k" cx="2920.4" cy="1268.6" r="6.5"/>
<path class="t" d="M2901.9 1290L2937.9 1290"/>
<rect class="t" x="2913.8" y="1299.5" width="12" height="11.6"/>
<path class="t" d="M2916.8 1299.5L2916.8 1311.1"/>
<path class="t" d="M2919.8 1299.5L2919.8 1311.1"/>
<path class="t" d="M2922.8 1299.5L2922.8 1311.1"/>
<circle class="k wf" cx="2618" cy="1122.3" r="7.4"/>
<circle class="t" cx="2618" cy="1122.3" r="6"/>
<rect class="kf" x="2614.4" y="1119.7" width="7.2" height="5.2" rx="1"/>
<circle class="k wf" cx="2732.8" cy="1122.3" r="7.4"/>
<circle class="t" cx="2732.8" cy="1122.3" r="6"/>
<rect class="kf" x="2729.2" y="1119.7" width="7.2" height="5.2" rx="1"/>
<circle class="k wf" cx="2673.1" cy="1305" r="7.4"/>
<circle class="t" cx="2673.1" cy="1305" r="6"/>
<rect class="kf" x="2669.5" y="1302.4" width="7.2" height="5.2" rx="1"/>
<circle class="k wf" cx="2788" cy="1305" r="7.4"/>
<circle class="t" cx="2788" cy="1305" r="6"/>
<rect class="kf" x="2784.4" y="1302.4" width="7.2" height="5.2" rx="1"/>
<circle class="k wf" cx="2903" cy="1305" r="7.4"/>
<circle class="t" cx="2903" cy="1305" r="6"/>
<rect class="kf" x="2899.4" y="1302.4" width="7.2" height="5.2" rx="1"/>
<rect class="t" x="2843.5" y="1117.6" width="9" height="8.5" rx="1.5"/>
<rect class="kf" x="2845.3" y="1119.6" width="5.4" height="4.4"/>
<path class="k" d="M2578.5 1338.3L2617 1338.3L2617 1350L2612 1362L2600 1368L2578.5 1368"/>
<path class="k" d="M2944.5 1338.3L2906 1338.3L2906 1350L2911 1362L2923 1368L2944.5 1368"/>
<rect class="k" x="2578.5" y="1338.3" width="366" height="38.6"/>
<path class="k" d="M2578.5 1381L2944.5 1381"/>
<path class="k" d="M2578.5 1376.9L2578.5 1381"/>
<path class="k" d="M2944.5 1376.9L2944.5 1381"/>
<rect class="k" x="2588.8" y="1346.6" width="8.8" height="19.6" rx="4.4"/>
<rect class="k" x="2924.6" y="1346.6" width="8.8" height="19.6" rx="4.4"/>
<circle class="k" cx="2646.2" cy="1351.3" r="8"/>
<circle class="k" cx="2646.2" cy="1351.3" r="5.3"/>
<circle class="k" cx="2760.9" cy="1351.3" r="8"/>
<circle class="k" cx="2760.9" cy="1351.3" r="5.3"/>
<circle class="k" cx="2876" cy="1351.3" r="8"/>
<circle class="k" cx="2876" cy="1351.3" r="5.3"/>
<path class="k" d="M2656.6 1338.3L2656.6 1333L2750.2 1333L2750.2 1338.3"/>
<path class="t" d="M2657.6 1335.5L2749.2 1335.5"/>
<path class="k" d="M2772.4 1338.3L2772.4 1333L2866 1333L2866 1338.3"/>
<path class="t" d="M2773.4 1335.5L2865 1335.5"/>
<rect class="k" x="2675" y="1311.1" width="55" height="22"/>
<rect class="k2" x="2685" y="1314" width="37" height="6"/>
<rect class="k" x="2790.5" y="1311.1" width="55" height="22"/>
<rect class="k2" x="2800.5" y="1314" width="37" height="6"/>
<rect class="k wf" x="2697.5" y="1298" width="9.5" height="35"/>
<rect class="k wf" x="2695" y="1338.3" width="14.5" height="4.5"/>
<rect class="k wf" x="2698" y="1342.8" width="8.5" height="7"/>
<rect class="k wf" x="2812.8" y="1298" width="9.5" height="35"/>
<rect class="k wf" x="2810.3" y="1338.3" width="14.5" height="4.5"/>
<rect class="k wf" x="2813.3" y="1342.8" width="8.5" height="7"/>
<path class="k" d="M2617 1311.1L2617 1338.3"/>
<path class="k" d="M2906 1311.1L2906 1338.3"/>
</g>
<path class="k wf" d="M747.47 691.39L784.8 691.39L784.8 751.13L749.71 750.38L747.47 741.42Z"/>
<rect class="wf0" x="784.8" y="691.39" width="65.71" height="75.42"/>
<path class="k" d="M784.8 691.39L784.8 770.54"/>
<path class="t" d="M787.79 751.13L787.79 770.54"/>
<path class="k" d="M784.8 751.13L796.75 751.13"/>
<rect class="k wf" x="814.67" y="658.54" width="32.86" height="16.43"/>
<rect class="t" x="811.68" y="663.76" width="2.99" height="8.96"/>
<rect class="k wf" x="797.5" y="675.41" width="53.02" height="25.69"/>
<path class="t" d="M806.46 675.41L806.46 701.1"/>
<path class="k wf" d="M814.67 701.85L847.53 701.85L847.53 729.47L825.13 729.47L820.65 723.5L814.67 723.5Z"/>
<path class="t" d="M823.63 717.53L829.61 713.05L847.53 713.05"/>
<path class="t" d="M838.57 713.05L838.57 729.47"/>
<rect class="k wf" x="843.05" y="741.42" width="7.47" height="24.64"/>
<path class="t" d="M857.23 663.02L857.23 720.51"/>
<path class="t" d="M859.47 663.02C859.47 672.6 859.97 709.44 859.47 720.51C858.98 731.59 857.98 727.36 856.49 729.47C854.99 731.59 851.51 732.59 850.51 733.21"/>
<path class="t" d="M857.23 720.51C856.86 721.76 856.11 726.24 854.99 727.98C853.87 729.72 851.26 730.47 850.51 730.97"/>
<path d="M850.51 633.89C848.27 636.14 841.06 642.98 837.07 647.34C833.09 651.69 828.36 657.91 826.62 660.03" style="stroke-width:2.2;stroke-dasharray:2 1.2"/>
<path d="M850.51 639.87C848.27 642.11 841.06 649.62 837.07 653.31C833.09 657 828.36 660.57 826.62 662.02" style="stroke-width:2.2;stroke-dasharray:2 1.2"/>
<rect class="t" x="817.66" y="744.41" width="25.39" height="20.91"/>
<path class="k" d="M818.41 745.16L823.63 764.57"/>
<path class="k" d="M821.99 745.16L826.62 764.57"/>
<path class="k" d="M825.57 745.16L829.61 764.57"/>
<path class="k" d="M829.16 745.16L832.59 764.57"/>
<path class="k" d="M832.74 745.16L835.58 764.57"/>
<path class="k" d="M836.33 745.16L838.57 764.57"/>
<path class="k" d="M839.91 745.16L841.55 764.57"/>
<path class="t" d="M817.66 746.65L843.05 748.89"/>
<path class="t" d="M817.66 750.38L843.05 752.17"/>
<path class="t" d="M817.66 754.12L843.05 755.46"/>
<path class="t" d="M817.66 757.85L843.05 758.75"/>
<path class="t" d="M817.66 761.58L843.05 762.03"/>
<rect class="kf" x="835.58" y="751.88" width="5.97" height="13.44"/>
<path d="M451.36 897.85C450.48 902.82 447.62 913.92 446.1 927.66C444.58 941.39 442.89 965.64 442.24 980.25C441.6 994.86 441.31 1003.63 442.24 1015.32C443.18 1027 444.29 1040.74 447.85 1050.38C451.42 1060.02 455.74 1066.89 463.63 1073.17C471.52 1079.45 484.09 1084.71 495.19 1088.07C506.29 1091.43 518.56 1092.16 530.25 1093.33C541.94 1094.5 559.47 1094.79 565.32 1095.08" style="stroke-width:4.5;stroke-linecap:butt"/>
<path d="M451.36 897.85C450.48 902.82 447.62 913.92 446.1 927.66C444.58 941.39 442.89 965.64 442.24 980.25C441.6 994.86 441.31 1003.63 442.24 1015.32C443.18 1027 444.29 1040.74 447.85 1050.38C451.42 1060.02 455.74 1066.89 463.63 1073.17C471.52 1079.45 484.09 1084.71 495.19 1088.07C506.29 1091.43 518.56 1092.16 530.25 1093.33C541.94 1094.5 559.47 1094.79 565.32 1095.08" style="stroke:#fff;stroke-width:2.2;stroke-linecap:butt"/>
<path d="M522.36 890.84C521.19 896.39 517.83 910.71 515.35 924.15C512.87 937.59 509.36 956.29 507.46 971.49C505.56 986.68 503.37 1002.75 503.96 1015.32C504.54 1027.88 506.88 1037.52 510.97 1046.87C515.06 1056.22 520.9 1065.13 528.5 1071.42C536.1 1077.7 546.03 1081.64 556.55 1084.57C567.07 1087.49 581.04 1088.07 591.61 1088.95C602.19 1089.82 615.28 1089.68 620.01 1089.82" style="stroke-width:4.5;stroke-linecap:butt"/>
<path d="M522.36 890.84C521.19 896.39 517.83 910.71 515.35 924.15C512.87 937.59 509.36 956.29 507.46 971.49C505.56 986.68 503.37 1002.75 503.96 1015.32C504.54 1027.88 506.88 1037.52 510.97 1046.87C515.06 1056.22 520.9 1065.13 528.5 1071.42C536.1 1077.7 546.03 1081.64 556.55 1084.57C567.07 1087.49 581.04 1088.07 591.61 1088.95C602.19 1089.82 615.28 1089.68 620.01 1089.82" style="stroke:#fff;stroke-width:2.2;stroke-linecap:butt"/>
<path d="M525.34 892.59C524.35 898.44 521.4 914.22 519.38 927.66C517.37 941.1 514.88 958.63 513.25 973.24C511.61 987.85 509.01 1003.34 509.57 1015.32C510.12 1027.3 512.49 1036.65 516.58 1045.12C520.67 1053.59 525.99 1060.61 534.11 1066.16C542.23 1071.71 551 1075.51 565.32 1078.43C579.63 1081.35 610.9 1082.81 620.01 1083.69" style="stroke-width:4.5;stroke-linecap:butt"/>
<path d="M525.34 892.59C524.35 898.44 521.4 914.22 519.38 927.66C517.37 941.1 514.88 958.63 513.25 973.24C511.61 987.85 509.01 1003.34 509.57 1015.32C510.12 1027.3 512.49 1036.65 516.58 1045.12C520.67 1053.59 525.99 1060.61 534.11 1066.16C542.23 1071.71 551 1075.51 565.32 1078.43C579.63 1081.35 610.9 1082.81 620.01 1083.69" style="stroke:#fff;stroke-width:2.2;stroke-linecap:butt"/>
<path d="M788.82 688.22C777.36 689.44 743.13 690.13 720.08 695.58C697.03 701.04 669.62 710.58 650.52 720.95C631.43 731.31 618.47 744.14 605.52 757.77C592.56 771.41 581.65 787.1 572.78 802.78C563.92 818.47 556.96 833.47 552.32 851.88C547.69 870.29 546.19 903.03 544.96 913.26" style="stroke-width:7.5;stroke-linecap:butt"/>
<path d="M788.82 688.22C777.36 689.44 743.13 690.13 720.08 695.58C697.03 701.04 669.62 710.58 650.52 720.95C631.43 731.31 618.47 744.14 605.52 757.77C592.56 771.41 581.65 787.1 572.78 802.78C563.92 818.47 556.96 833.47 552.32 851.88C547.69 870.29 546.19 903.03 544.96 913.26" style="stroke:#fff;stroke-width:5.2;stroke-linecap:butt"/>
<path d="M788.82 677.99C777.36 679.35 745.18 680.37 720.08 686.17C694.99 691.97 660.07 701.51 638.25 712.77C616.43 724.02 602.79 738.68 589.15 753.68C575.51 768.69 564.94 785.05 556.42 802.78C547.89 820.51 541.55 841.65 538 860.07C534.46 878.48 535.62 904.39 535.14 913.26" style="stroke-width:7.5;stroke-linecap:butt"/>
<path d="M788.82 677.99C777.36 679.35 745.18 680.37 720.08 686.17C694.99 691.97 660.07 701.51 638.25 712.77C616.43 724.02 602.79 738.68 589.15 753.68C575.51 768.69 564.94 785.05 556.42 802.78C547.89 820.51 541.55 841.65 538 860.07C534.46 878.48 535.62 904.39 535.14 913.26" style="stroke:#fff;stroke-width:5.2;stroke-linecap:butt"/>
<rect class="k wf" x="531.13" y="905.74" width="11.4" height="14.03"/>
<circle class="kf" cx="540.42" cy="928.18" r="4.6"/>
<circle class="wf t" cx="540.42" cy="928.18" r="1.6"/>
<rect class="k wf" x="515.35" y="997.78" width="20.34" height="46.46"/>
<path class="t" d="M515.35 1041.61L535.69 1041.61"/>
<circle class="t" cx="525.52" cy="1008.65" r="4.6"/>
<path class="t" d="M520.61 1008.65L530.43 1008.65"/>
<path class="t" d="M525.52 1003.92L525.52 1013.56"/>
<circle class="k" cx="525.52" cy="1032.85" r="3.4"/>
<path d="M525.52 1036.35C525.64 1041.61 525.43 1059.14 526.22 1067.91C527.01 1076.68 528.27 1081.94 530.25 1088.95C532.24 1095.96 536.83 1106.48 538.14 1109.99" style="stroke-width:2.6;stroke-linecap:butt"/>
<path d="M525.52 1036.35C525.64 1041.61 525.43 1059.14 526.22 1067.91C527.01 1076.68 528.27 1081.94 530.25 1088.95C532.24 1095.96 536.83 1106.48 538.14 1109.99" style="stroke:#fff;stroke-width:1;stroke-linecap:butt"/>
<rect class="k wf" x="580.74" y="997.78" width="20.34" height="46.46"/>
<path class="t" d="M580.74 1041.61L601.08 1041.61"/>
<circle class="t" cx="590.91" cy="1008.65" r="4.6"/>
<path class="t" d="M586 1008.65L595.82 1008.65"/>
<path class="t" d="M590.91 1003.92L590.91 1013.56"/>
<circle class="k" cx="590.91" cy="1032.85" r="3.4"/>
<path d="M590.91 1036.35C591.03 1041.61 590.82 1059.14 591.61 1067.91C592.4 1076.68 593.66 1081.94 595.65 1088.95C597.63 1095.96 602.22 1106.48 603.53 1109.99" style="stroke-width:2.6;stroke-linecap:butt"/>
<path d="M590.91 1036.35C591.03 1041.61 590.82 1059.14 591.61 1067.91C592.4 1076.68 593.66 1081.94 595.65 1088.95C597.63 1095.96 602.22 1106.48 603.53 1109.99" style="stroke:#fff;stroke-width:1;stroke-linecap:butt"/>
<rect class="kf" x="787.79" y="675.71" width="9.71" height="17.92"/>
<rect class="kf" x="784.8" y="693.63" width="7.47" height="3.73"/>
<rect class="k wf" x="779.13" y="707.07" width="12.4" height="19.41"/>
<rect class="k wf" x="779.58" y="647.34" width="5.23" height="6.72"/>
<rect class="k wf" x="779.58" y="654.8" width="5.23" height="6.72"/>
<rect class="k wf" x="779.58" y="668.99" width="5.23" height="6.72"/>
<path d="M790.03 675.71C789.71 672.23 788.84 661.03 788.09 654.8C787.34 648.58 785.65 642.73 785.55 638.38C785.45 634.02 786.37 630.16 787.49 628.67C788.61 627.17 790.78 626.8 792.27 629.41C793.76 632.03 795.41 636.63 796.45 644.35C797.5 652.06 798.19 670.48 798.54 675.71" style="stroke-width:3.7;stroke-linecap:butt"/>
<path d="M790.03 675.71C789.71 672.23 788.84 661.03 788.09 654.8C787.34 648.58 785.65 642.73 785.55 638.38C785.45 634.02 786.37 630.16 787.49 628.67C788.61 627.17 790.78 626.8 792.27 629.41C793.76 632.03 795.41 636.63 796.45 644.35C797.5 652.06 798.19 670.48 798.54 675.71" style="stroke:#fff;stroke-width:1.4;stroke-linecap:butt"/>
<path d="M784.8 675.71C784.18 672.23 781.77 660.4 781.07 654.8C780.37 649.2 780 645.34 780.62 642.11C781.24 638.87 783.48 635.76 784.8 635.39C786.12 635.01 787.91 639.12 788.54 639.87" style="stroke-width:3.2;stroke-linecap:butt"/>
<path d="M784.8 675.71C784.18 672.23 781.77 660.4 781.07 654.8C780.37 649.2 780 645.34 780.62 642.11C781.24 638.87 783.48 635.76 784.8 635.39C786.12 635.01 787.91 639.12 788.54 639.87" style="stroke:#fff;stroke-width:1;stroke-linecap:butt"/>
<path class="k" d="M790.78 697.37L844.54 825.05"/>
<path class="k" d="M794.51 697.37L847.53 808.63"/>
<path class="k" d="M798.24 693.63L849.77 795.19"/>
<path class="k" d="M792.27 705.58L823.63 775.77"/>
<path d="M799.74 693.63C801.48 697.12 805.21 704.83 810.19 714.54C815.17 724.25 823.01 737.94 829.61 751.88C836.2 765.81 846.41 790.46 849.77 798.17" style="stroke-width:2.6;stroke-dasharray:2.2 1.2"/>
<path d="M823.63 729.47C825.87 730.97 832.59 738.93 837.07 738.43C841.55 737.94 848.27 728.48 850.51 726.49" style="stroke-width:2.2;stroke-dasharray:2 1.2"/>
<path class="k" d="M814.67 729.47C817.16 730.47 824.63 735.45 829.61 735.45C834.58 735.45 841.06 731.96 844.54 729.47C848.02 726.99 849.52 722.01 850.51 720.51"/>
<path d="M783.61 697.37C783.43 702.72 781.62 722.38 782.56 729.47C783.51 736.57 785.67 737.44 789.28 739.93C792.89 742.42 801.73 743.66 804.22 744.41" style="stroke-width:3;stroke-linecap:butt"/>
<path d="M783.61 697.37C783.43 702.72 781.62 722.38 782.56 729.47C783.51 736.57 785.67 737.44 789.28 739.93C792.89 742.42 801.73 743.66 804.22 744.41" style="stroke:#fff;stroke-width:1;stroke-linecap:butt"/>
<rect class="k wf" x="837.82" y="791.45" width="9.71" height="2.54"/>
<path d="M781.52 770.54C782.06 773.65 781.27 783.36 784.8 789.21C788.34 795.06 795.26 800.66 802.72 805.64C810.19 810.62 821.64 815.3 829.61 819.08C837.57 822.86 847.03 826.8 850.51 828.34" style="stroke-width:3.8;stroke-linecap:butt"/>
<path d="M781.52 770.54C782.06 773.65 781.27 783.36 784.8 789.21C788.34 795.06 795.26 800.66 802.72 805.64C810.19 810.62 821.64 815.3 829.61 819.08C837.57 822.86 847.03 826.8 850.51 828.34" style="stroke:#fff;stroke-width:1.5;stroke-linecap:butt"/>
<path d="M785.55 770.54C786.55 773.28 787.17 782.07 791.52 786.97C795.88 791.87 804.84 795.86 811.68 799.96C818.53 804.07 826.12 808.13 832.59 811.61C839.06 815.1 847.53 819.33 850.51 820.87" style="stroke-width:3.8;stroke-linecap:butt"/>
<path d="M785.55 770.54C786.55 773.28 787.17 782.07 791.52 786.97C795.88 791.87 804.84 795.86 811.68 799.96C818.53 804.07 826.12 808.13 832.59 811.61C839.06 815.1 847.53 819.33 850.51 820.87" style="stroke:#fff;stroke-width:1.5;stroke-linecap:butt"/>
<path d="M790.03 770.54C791.27 772.66 792.89 779.33 797.5 783.24C802.1 787.15 811.31 790.51 817.66 793.99C824.01 797.48 830.1 800.91 835.58 804.15C841.06 807.38 848.02 811.86 850.51 813.41" style="stroke-width:3.8;stroke-linecap:butt"/>
<path d="M790.03 770.54C791.27 772.66 792.89 779.33 797.5 783.24C802.1 787.15 811.31 790.51 817.66 793.99C824.01 797.48 830.1 800.91 835.58 804.15C841.06 807.38 848.02 811.86 850.51 813.41" style="stroke:#fff;stroke-width:1.5;stroke-linecap:butt"/>
<path d="M792.27 784.73C794.76 785.85 800.98 788.96 807.2 791.45C813.43 793.94 822.39 797.3 829.61 799.67C836.82 802.03 847.03 804.64 850.51 805.64" style="stroke-width:3;stroke-linecap:butt"/>
<path d="M792.27 784.73C794.76 785.85 800.98 788.96 807.2 791.45C813.43 793.94 822.39 797.3 829.61 799.67C836.82 802.03 847.03 804.64 850.51 805.64" style="stroke:#fff;stroke-width:1;stroke-linecap:butt"/>
<rect class="k wf" x="780.02" y="757.85" width="4.78" height="7.47"/>
<rect class="k wf" x="788.09" y="757.85" width="5.68" height="7.47"/>
<rect class="k wf" x="780.32" y="768.3" width="11.2" height="7.47"/>
<path class="t" d="M790.22 843.15L790.22 1048.46"/>
<path class="t" d="M792.83 843.15L792.83 1048.46"/>
<path class="t" d="M794.85 843.15L794.85 1048.46"/>
<rect class="k" x="790.22" y="842.14" width="31.2" height="10.06"/>
<rect class="k" x="825.44" y="842.14" width="21.74" height="10.06"/>
<path class="t" d="M794.85 916.62L834.5 916.62"/>
<path class="t" d="M794.85 921.65L834.5 921.65"/>
<path class="t" d="M794.85 987.07L834.5 987.07"/>
<path class="t" d="M794.85 993.11L834.5 993.11"/>
<path class="t" d="M794.85 1055.51L834.5 1055.51"/>
<rect class="k wf" x="778.34" y="882" width="8.86" height="4.83"/>
<rect class="k wf" x="782.17" y="879.98" width="3.02" height="14.49"/>
<rect class="kf" x="783.57" y="883.61" width="1.61" height="1.61"/>
<rect class="k wf" x="778.34" y="951.44" width="8.86" height="4.83"/>
<rect class="k wf" x="782.17" y="949.43" width="3.02" height="14.49"/>
<rect class="kf" x="783.57" y="953.05" width="1.61" height="1.61"/>
<rect class="k wf" x="778.34" y="1021.89" width="8.86" height="4.83"/>
<rect class="k wf" x="782.17" y="1019.88" width="3.02" height="14.49"/>
<rect class="kf" x="783.57" y="1023.5" width="1.61" height="1.61"/>
<path class="k wf" d="M834.5 904.54L849.6 900.52L849.6 930.71L836.51 926.68Z"/>
<path class="t" d="M844.57 901.52L844.57 929.1"/>
<rect class="t" x="830.48" y="902.53" width="4.03" height="16.1"/>
<path class="k wf" d="M834.5 972.98L849.6 968.95L849.6 999.15L836.51 995.12Z"/>
<path class="t" d="M844.57 969.96L844.57 997.54"/>
<rect class="t" x="830.48" y="970.97" width="4.03" height="16.1"/>
<path class="k wf" d="M834.5 1037.39L849.6 1033.37L849.6 1063.56L836.51 1059.53Z"/>
<path class="t" d="M844.57 1034.37L844.57 1061.95"/>
<rect class="t" x="830.48" y="1035.38" width="4.03" height="16.1"/>
<path d="M784.18 884.41C784.28 881.06 783.78 869.99 784.78 864.28C785.79 858.58 787.47 853.38 790.22 850.19C792.97 847.01 796.76 844.49 801.29 845.16C805.82 845.83 812.69 849.69 817.39 854.22C822.09 858.75 826.78 866.3 829.47 872.33C832.15 878.37 832.82 884.41 833.49 890.45C834.17 896.49 833.49 905.55 833.49 908.57" style="stroke-width:2.6;stroke-linecap:butt"/>
<path d="M784.18 884.41C784.28 881.06 783.78 869.99 784.78 864.28C785.79 858.58 787.47 853.38 790.22 850.19C792.97 847.01 796.76 844.49 801.29 845.16C805.82 845.83 812.69 849.69 817.39 854.22C822.09 858.75 826.78 866.3 829.47 872.33C832.15 878.37 832.82 884.41 833.49 890.45C834.17 896.49 833.49 905.55 833.49 908.57" style="stroke:#fff;stroke-width:1;stroke-linecap:butt"/>
<path d="M787.2 863.28C789.04 865.46 794.58 870.49 798.27 876.36C801.96 882.23 805.82 890.45 809.34 898.5C812.86 906.55 816.38 916.28 819.4 924.67C822.42 933.06 825.28 941.11 827.46 948.82C829.64 956.54 831.65 967.28 832.49 970.97" style="stroke-width:2.6;stroke-linecap:butt"/>
<path d="M787.2 863.28C789.04 865.46 794.58 870.49 798.27 876.36C801.96 882.23 805.82 890.45 809.34 898.5C812.86 906.55 816.38 916.28 819.4 924.67C822.42 933.06 825.28 941.11 827.46 948.82C829.64 956.54 831.65 967.28 832.49 970.97" style="stroke:#fff;stroke-width:1;stroke-linecap:butt"/>
<path d="M831.48 879.38C829.47 879.38 823.77 877.2 819.4 879.38C815.04 881.56 809.51 887.26 805.31 892.46C801.12 897.66 797.43 903.87 794.24 910.58C791.06 917.29 787.87 925.68 786.19 932.72C784.51 939.77 784.51 949.5 784.18 952.85" style="stroke-width:2.6;stroke-linecap:butt"/>
<path d="M831.48 879.38C829.47 879.38 823.77 877.2 819.4 879.38C815.04 881.56 809.51 887.26 805.31 892.46C801.12 897.66 797.43 903.87 794.24 910.58C791.06 917.29 787.87 925.68 786.19 932.72C784.51 939.77 784.51 949.5 784.18 952.85" style="stroke:#fff;stroke-width:1;stroke-linecap:butt"/>
<path d="M788.2 924.67C790.39 923.6 796.76 918.23 801.29 918.23C805.82 918.23 811.35 920.58 815.38 924.67C819.4 928.76 822.76 936.75 825.44 942.79C828.13 948.82 830.14 955.53 831.48 960.9C832.82 966.27 833.16 972.64 833.49 974.99" style="stroke-width:2.6;stroke-linecap:butt"/>
<path d="M788.2 924.67C790.39 923.6 796.76 918.23 801.29 918.23C805.82 918.23 811.35 920.58 815.38 924.67C819.4 928.76 822.76 936.75 825.44 942.79C828.13 948.82 830.14 955.53 831.48 960.9C832.82 966.27 833.16 972.64 833.49 974.99" style="stroke:#fff;stroke-width:1;stroke-linecap:butt"/>
<path d="M823.43 949.83C821.42 951.01 815.38 953.02 811.35 956.88C807.33 960.73 802.8 966.94 799.28 972.98C795.75 979.02 792.57 986.73 790.22 993.11C787.87 999.48 786.19 1006.19 785.19 1011.22C784.18 1016.26 784.35 1021.29 784.18 1023.3" style="stroke-width:2.6;stroke-linecap:butt"/>
<path d="M823.43 949.83C821.42 951.01 815.38 953.02 811.35 956.88C807.33 960.73 802.8 966.94 799.28 972.98C795.75 979.02 792.57 986.73 790.22 993.11C787.87 999.48 786.19 1006.19 785.19 1011.22C784.18 1016.26 784.35 1021.29 784.18 1023.3" style="stroke:#fff;stroke-width:1;stroke-linecap:butt"/>
<path d="M830.48 990.09C828.63 988.24 823.6 980.36 819.4 979.02C815.21 977.68 809.68 979.69 805.31 982.04C800.95 984.39 795.92 988.58 793.24 993.11C790.55 997.64 790.05 1004.18 789.21 1009.21C788.37 1014.24 788.37 1020.95 788.2 1023.3" style="stroke-width:2.6;stroke-linecap:butt"/>
<path d="M830.48 990.09C828.63 988.24 823.6 980.36 819.4 979.02C815.21 977.68 809.68 979.69 805.31 982.04C800.95 984.39 795.92 988.58 793.24 993.11C790.55 997.64 790.05 1004.18 789.21 1009.21C788.37 1014.24 788.37 1020.95 788.2 1023.3" style="stroke:#fff;stroke-width:1;stroke-linecap:butt"/>
<path d="M849.6 995.12C847.92 999.15 843.89 1011.56 839.53 1019.28C835.17 1026.99 829.47 1035.38 823.43 1041.42C817.39 1047.46 806.66 1053.16 803.3 1055.51" style="stroke-width:2.6;stroke-linecap:butt"/>
<path d="M849.6 995.12C847.92 999.15 843.89 1011.56 839.53 1019.28C835.17 1026.99 829.47 1035.38 823.43 1041.42C817.39 1047.46 806.66 1053.16 803.3 1055.51" style="stroke:#fff;stroke-width:1;stroke-linecap:butt"/>
<path d="M849.6 1001.16C848.26 1004.85 844.57 1016.59 841.55 1023.3C838.53 1030.01 833.16 1037.06 831.48 1041.42C829.8 1045.78 831.48 1048.13 831.48 1049.47" style="stroke-width:2.6;stroke-linecap:butt"/>
<path d="M849.6 1001.16C848.26 1004.85 844.57 1016.59 841.55 1023.3C838.53 1030.01 833.16 1037.06 831.48 1041.42C829.8 1045.78 831.48 1048.13 831.48 1049.47" style="stroke:#fff;stroke-width:1;stroke-linecap:butt"/>
<rect class="k wf" x="723.19" y="1048.46" width="78.1" height="42.27"/>
<path class="k" d="M508.41 1055.89C510.72 1058.2 514.57 1064.75 522.28 1069.75C529.98 1074.76 533.83 1082.7 554.63 1085.93C575.43 1089.17 619.38 1088.37 647.07 1089.17C674.76 1089.97 695.07 1091.14 720.77 1090.73C746.48 1090.32 781.83 1088.89 801.29 1086.71C820.75 1084.53 829.47 1081.84 837.52 1077.65C845.57 1073.46 847.58 1064.23 849.6 1061.55"/>
<path class="k" d="M508.41 1055.89C510.72 1058.66 514.57 1067.14 522.28 1072.53C529.98 1077.92 533.83 1085.16 554.63 1088.24C575.43 1091.32 619.38 1090.33 647.07 1091.01C674.76 1091.7 695.07 1092.79 720.77 1092.34C746.48 1091.89 781.83 1090.5 801.29 1088.32C820.75 1086.14 829.47 1083.32 837.52 1079.26C845.57 1075.2 847.58 1066.51 849.6 1063.96"/>
<path class="k" d="M508.41 1055.89C510.72 1059.12 514.57 1069.52 522.28 1075.3C529.98 1081.08 533.83 1087.63 554.63 1090.55C575.43 1093.48 619.38 1092.3 647.07 1092.86C674.76 1093.43 695.07 1094.44 720.77 1093.95C746.48 1093.46 781.83 1092.11 801.29 1089.93C820.75 1087.75 829.47 1084.79 837.52 1080.87C845.57 1076.94 847.58 1068.79 849.6 1066.38"/>
<path class="k" d="M508.41 1055.89C510.72 1059.59 514.57 1071.91 522.28 1078.07C529.98 1084.24 533.83 1090.09 554.63 1092.86C575.43 1095.64 619.38 1094.26 647.07 1094.71C674.76 1095.16 695.07 1096.09 720.77 1095.56C746.48 1095.03 781.83 1093.72 801.29 1091.54C820.75 1089.36 829.47 1086.27 837.52 1082.48C845.57 1078.69 847.58 1071.07 849.6 1068.79"/>
<path d="M450.64 958.83C449.48 969.61 442.93 1005.82 443.7 1023.53C444.48 1041.25 447.56 1054.73 455.26 1065.13C462.96 1075.53 477.21 1081.46 489.92 1085.93C502.63 1090.4 524.59 1090.94 531.52 1091.94" style="stroke-width:5;stroke-linecap:butt"/>
<path d="M450.64 958.83C449.48 969.61 442.93 1005.82 443.7 1023.53C444.48 1041.25 447.56 1054.73 455.26 1065.13C462.96 1075.53 477.21 1081.46 489.92 1085.93C502.63 1090.4 524.59 1090.94 531.52 1091.94" style="stroke:#fff;stroke-width:2.7;stroke-linecap:butt"/>
<path d="M515.34 995.8C515.73 1005.05 512.65 1035.09 517.66 1051.27C522.66 1067.44 534.6 1083.23 545.39 1092.86C556.17 1102.49 570.81 1105.96 582.36 1109.04C593.92 1112.12 609.32 1110.97 614.72 1111.35" style="stroke-width:5;stroke-linecap:butt"/>
<path d="M515.34 995.8C515.73 1005.05 512.65 1035.09 517.66 1051.27C522.66 1067.44 534.6 1083.23 545.39 1092.86C556.17 1102.49 570.81 1105.96 582.36 1109.04C593.92 1112.12 609.32 1110.97 614.72 1111.35" style="stroke:#fff;stroke-width:2.7;stroke-linecap:butt"/>
<path d="M592.53 1051.27C593.15 1056.66 593.3 1074.38 596.23 1083.62C599.16 1092.86 607.78 1102.88 610.09 1106.73" style="stroke-width:4;stroke-linecap:butt"/>
<path d="M592.53 1051.27C593.15 1056.66 593.3 1074.38 596.23 1083.62C599.16 1092.86 607.78 1102.88 610.09 1106.73" style="stroke:#fff;stroke-width:1.7;stroke-linecap:butt"/>
<path class="t" d="M614.72 1110.43L831.95 1106.73"/>
<path class="t" d="M614.72 1112.74L831.95 1109.04"/>
<rect class="t" x="611.03" y="1103.96" width="12" height="12"/>
<path class="t" d="M611.03 1103.96L623.03 1115.96"/>
<path class="t" d="M623.03 1103.96L611.03 1115.96"/>
<rect class="t" x="775.11" y="1103.96" width="12" height="12"/>
<path class="t" d="M775.11 1103.96L787.11 1115.96"/>
<path class="t" d="M787.11 1103.96L775.11 1115.96"/>
<rect class="t" x="627.2" y="1079" width="3.7" height="16.18"/>
<circle class="t" cx="408.12" cy="929.71" r="17.5"/>
<circle class="t" cx="525.05" cy="1020.3" r="29"/>
<rect class="k2" x="291.5" y="1570" width="585.8" height="425.1"/>
<rect class="k3" x="297" y="1575.6" width="575" height="414.6"/>
<rect class="t" x="300" y="1579.2" width="569" height="406.5"/>
<path class="t" d="M297 1581.8L872 1581.8"/>
<path class="t" d="M297 1983.5L872 1983.5"/>
<path class="k" d="M327.4 1581.8L327.4 1983.5"/>
<path class="k" d="M839.5 1581.8L839.5 1983.5"/>
<path class="k" d="M327.4 1605L839.5 1605"/>
<path class="k" d="M327.4 1958.1L839.5 1958.1"/>
<rect class="sa" x="328.37" y="1605" width="510.95" height="81.75"/>
<rect class="sa" x="347.29" y="1686.75" width="473.1" height="51.51"/>
<rect class="sa" x="328.37" y="1738.26" width="510.95" height="34.34"/>
<rect class="sb" x="328.37" y="1792.3" width="510.95" height="120.19"/>
<rect class="sb" x="347.29" y="1912.49" width="473.1" height="45.61"/>
<rect class="wf0" x="526.5" y="1721.5" width="10" height="16.6"/>
<rect class="wf0" x="630.6" y="1721.5" width="10" height="16.6"/>
<rect class="wf0" x="526.5" y="1792.7" width="10" height="16.6"/>
<rect class="wf0" x="630.6" y="1792.7" width="10" height="16.6"/>
<rect class="k" x="312.2" y="1585.8" width="4" height="13" rx="2"/>
<path class="t" d="M309.7 1592.3L318.7 1592.3"/>
<path class="t" d="M314.2 1584.3L314.2 1600.3"/>
<rect class="k" x="312.2" y="1965.5" width="4" height="13" rx="2"/>
<path class="t" d="M309.7 1972L318.7 1972"/>
<path class="t" d="M314.2 1964L314.2 1980"/>
<rect class="k" x="851.3" y="1585.8" width="4" height="13" rx="2"/>
<path class="t" d="M848.8 1592.3L857.8 1592.3"/>
<path class="t" d="M853.3 1584.3L853.3 1600.3"/>
<rect class="k" x="851.3" y="1965.5" width="4" height="13" rx="2"/>
<path class="t" d="M848.8 1972L857.8 1972"/>
<path class="t" d="M853.3 1964L853.3 1980"/>
<circle class="k2" cx="333.8" cy="1709.3" r="2.7"/>
<circle class="k2" cx="333.8" cy="1937.8" r="2.7"/>
<circle class="k2" cx="833.2" cy="1709.3" r="2.7"/>
<circle class="k2" cx="833.2" cy="1937.8" r="2.7"/>
<rect class="t" x="355.5" y="1781" width="3" height="3"/>
<rect class="t" x="507.1" y="1781" width="3" height="3"/>
<rect class="t" x="657.9" y="1781" width="3" height="3"/>
<rect class="t" x="808.6" y="1781" width="3" height="3"/>
<circle class="t" cx="534.8" cy="1736.5" r="1.4"/>
<circle class="t" cx="632" cy="1736.5" r="1.4"/>
<circle class="t" cx="534.8" cy="1806" r="1.4"/>
<circle class="t" cx="632" cy="1806" r="1.4"/>
<circle class="t" cx="649.5" cy="1719.7" r="1.4"/>
<rect class="k" x="283.3" y="1763.9" width="8.2" height="36.2"/>
<rect class="k" x="877.3" y="1763.9" width="6" height="36.2"/>
<path class="t" d="M291.5 1671a3 6 0 0 1 0 12"/>
<path class="t" d="M877.3 1671a3 6 0 0 0 0 12"/>
<path class="t" d="M291.5 1736a3 6 0 0 1 0 12"/>
<path class="t" d="M877.3 1736a3 6 0 0 0 0 12"/>
<path class="t" d="M291.5 1775a3 6 0 0 1 0 12"/>
<path class="t" d="M877.3 1775a3 6 0 0 0 0 12"/>
<path class="t" d="M291.5 1815a3 6 0 0 1 0 12"/>
<path class="t" d="M877.3 1815a3 6 0 0 0 0 12"/>
<path class="t" d="M291.5 1879a3 6 0 0 1 0 12"/>
<path class="t" d="M877.3 1879a3 6 0 0 0 0 12"/>
<path class="t" d="M291.5 1956a3 6 0 0 1 0 12"/>
<path class="t" d="M877.3 1956a3 6 0 0 0 0 12"/>
<rect class="t" x="360" y="1571.5" width="10" height="3"/>
<rect class="t" x="360" y="1990.5" width="10" height="3"/>
<rect class="t" x="578.5" y="1571.5" width="10" height="3"/>
<rect class="t" x="578.5" y="1990.5" width="10" height="3"/>
<rect class="t" x="799" y="1571.5" width="10" height="3"/>
<rect class="t" x="799" y="1990.5" width="10" height="3"/>
<rect class="kf" x="491.75" y="1697.05" width="4.4" height="3"/>
<path class="k" d="M511.68 1700.05L514.68 1690.05"/>
<rect class="kf" x="416.06" y="1697.05" width="4.4" height="3"/>
<path class="t" d="M424.52 1697.05L430.92 1697.05"/>
<path class="t" d="M424.52 1699.05L430.92 1699.05"/>
<rect class="kf" x="406.6" y="1697.05" width="4.4" height="3"/>
<path class="t" d="M452.91 1697.05L459.31 1697.05"/>
<path class="t" d="M452.91 1699.05L459.31 1699.05"/>
<path class="k" d="M521.14 1700.05L524.14 1690.05"/>
<path class="t" d="M462.37 1697.05L468.77 1697.05"/>
<path class="t" d="M462.37 1699.05L468.77 1699.05"/>
<path class="t" d="M519.14 1697.05L525.54 1697.05"/>
<path class="t" d="M519.14 1699.05L525.54 1699.05"/>
<path class="t" d="M566.45 1697.05L572.85 1697.05"/>
<path class="t" d="M566.45 1699.05L572.85 1699.05"/>
<path class="k" d="M464.37 1700.05L467.37 1690.05"/>
<rect class="kf" x="567.45" y="1697.05" width="4.4" height="3"/>
<path class="k" d="M568.45 1700.05L571.45 1690.05"/>
<rect class="kf" x="406.6" y="1697.05" width="4.4" height="3"/>
<path class="k" d="M407.6 1700.05L410.6 1690.05"/>
<path class="t" d="M433.98 1697.05L440.38 1697.05"/>
<path class="t" d="M433.98 1699.05L440.38 1699.05"/>
<path class="k" d="M435.98 1700.05L438.98 1690.05"/>
<path class="t" d="M566.45 1697.05L572.85 1697.05"/>
<path class="t" d="M566.45 1699.05L572.85 1699.05"/>
<path class="k" d="M644.15 1700.05L647.15 1690.05"/>
<path class="k" d="M426.52 1700.05L429.52 1690.05"/>
<path class="t" d="M585.37 1697.05L591.77 1697.05"/>
<path class="t" d="M585.37 1699.05L591.77 1699.05"/>
<path class="k" d="M426.52 1700.05L429.52 1690.05"/>
<path class="k" d="M663.07 1700.05L666.07 1690.05"/>
<path class="k" d="M700.92 1700.05L703.92 1690.05"/>
<path class="k" d="M805 1700.05L808 1690.05"/>
<path class="k" d="M738.77 1700.05L741.77 1690.05"/>
<path class="t" d="M774.61 1697.05L781.01 1697.05"/>
<path class="t" d="M774.61 1699.05L781.01 1699.05"/>
<rect class="kf" x="709.38" y="1697.05" width="4.4" height="3"/>
<path class="t" d="M708.38 1697.05L714.78 1697.05"/>
<path class="t" d="M708.38 1699.05L714.78 1699.05"/>
<path class="k" d="M729.3 1700.05L732.3 1690.05"/>
<rect class="kf" x="737.77" y="1697.05" width="4.4" height="3"/>
<path class="k" d="M729.3 1700.05L732.3 1690.05"/>
<path class="t" d="M661.07 1697.05L667.47 1697.05"/>
<path class="t" d="M661.07 1699.05L667.47 1699.05"/>
<path class="t" d="M765.15 1697.05L771.55 1697.05"/>
<path class="t" d="M765.15 1699.05L771.55 1699.05"/>
<path class="t" d="M736.77 1697.05L743.17 1697.05"/>
<path class="t" d="M736.77 1699.05L743.17 1699.05"/>
<path class="k" d="M786.08 1700.05L789.08 1690.05"/>
<rect class="kf" x="662.07" y="1697.05" width="4.4" height="3"/>
<rect class="kf" x="813.46" y="1697.05" width="4.4" height="3"/>
<path class="t" d="M831.39 1645.54L837.79 1645.54"/>
<path class="t" d="M831.39 1647.54L837.79 1647.54"/>
<path class="t" d="M821.92 1645.54L828.32 1645.54"/>
<path class="t" d="M821.92 1647.54L828.32 1647.54"/>
<path class="k" d="M805 1648.54L808 1638.54"/>
<path class="t" d="M803 1645.54L809.4 1645.54"/>
<path class="t" d="M803 1647.54L809.4 1647.54"/>
<rect class="kf" x="775.61" y="1645.54" width="4.4" height="3"/>
<path class="k" d="M833.39 1665.71L836.39 1655.71"/>
<path class="t" d="M774.61 1662.71L781.01 1662.71"/>
<path class="t" d="M774.61 1664.71L781.01 1664.71"/>
<path class="k" d="M805 1665.71L808 1655.71"/>
<path class="t" d="M831.39 1662.71L837.79 1662.71"/>
<path class="t" d="M831.39 1664.71L837.79 1664.71"/>
<rect class="kf" x="822.92" y="1662.71" width="4.4" height="3"/>
<path class="t" d="M812.46 1662.71L818.86 1662.71"/>
<path class="t" d="M812.46 1664.71L818.86 1664.71"/>
<path class="t" d="M831.39 1679.88L837.79 1679.88"/>
<path class="t" d="M831.39 1681.88L837.79 1681.88"/>
<path class="k" d="M776.61 1682.88L779.61 1672.88"/>
<rect class="kf" x="794.54" y="1679.88" width="4.4" height="3"/>
<rect class="kf" x="785.08" y="1679.88" width="4.4" height="3"/>
<path class="t" d="M821.92 1679.88L828.32 1679.88"/>
<path class="t" d="M821.92 1681.88L828.32 1681.88"/>
<path class="t" d="M831.39 1679.88L837.79 1679.88"/>
<path class="t" d="M831.39 1681.88L837.79 1681.88"/>
<path class="k" d="M615.76 1717.22L618.76 1707.22"/>
<rect class="kf" x="510.68" y="1714.22" width="4.4" height="3"/>
<rect class="kf" x="605.3" y="1714.22" width="4.4" height="3"/>
<rect class="kf" x="510.68" y="1714.22" width="4.4" height="3"/>
<path class="k" d="M558.99 1717.22L561.99 1707.22"/>
<rect class="kf" x="576.91" y="1714.22" width="4.4" height="3"/>
<path class="t" d="M433.98 1714.22L440.38 1714.22"/>
<path class="t" d="M433.98 1716.22L440.38 1716.22"/>
<path class="t" d="M433.98 1714.22L440.38 1714.22"/>
<path class="t" d="M433.98 1716.22L440.38 1716.22"/>
<path class="t" d="M481.29 1714.22L487.69 1714.22"/>
<path class="t" d="M481.29 1716.22L487.69 1716.22"/>
<path class="t" d="M698.92 1714.22L705.32 1714.22"/>
<path class="t" d="M698.92 1716.22L705.32 1716.22"/>
<path class="t" d="M519.14 1714.22L525.54 1714.22"/>
<path class="t" d="M519.14 1716.22L525.54 1716.22"/>
<path class="k" d="M596.84 1717.22L599.84 1707.22"/>
<path class="k" d="M719.84 1717.22L722.84 1707.22"/>
<path class="k" d="M426.52 1717.22L429.52 1707.22"/>
<rect class="kf" x="652.61" y="1714.22" width="4.4" height="3"/>
<path class="k" d="M738.77 1717.22L741.77 1707.22"/>
<path class="k" d="M379.21 1717.22L382.21 1707.22"/>
<rect class="kf" x="813.46" y="1714.22" width="4.4" height="3"/>
<rect class="kf" x="756.69" y="1714.22" width="4.4" height="3"/>
<path class="t" d="M585.37 1714.22L591.77 1714.22"/>
<path class="t" d="M585.37 1716.22L591.77 1716.22"/>
<path class="t" d="M585.37 1714.22L591.77 1714.22"/>
<path class="t" d="M585.37 1716.22L591.77 1716.22"/>
<path class="k" d="M729.3 1717.22L732.3 1707.22"/>
<path class="t" d="M462.37 1714.22L468.77 1714.22"/>
<path class="t" d="M462.37 1716.22L468.77 1716.22"/>
<path class="k" d="M473.83 1717.22L476.83 1707.22"/>
<path class="t" d="M415.06 1714.22L421.46 1714.22"/>
<path class="t" d="M415.06 1716.22L421.46 1716.22"/>
<path class="t" d="M377.21 1714.22L383.61 1714.22"/>
<path class="t" d="M377.21 1716.22L383.61 1716.22"/>
<path class="t" d="M689.46 1714.22L695.86 1714.22"/>
<path class="t" d="M689.46 1716.22L695.86 1716.22"/>
<rect class="kf" x="406.6" y="1714.22" width="4.4" height="3"/>
<path class="t" d="M717.84 1714.22L724.24 1714.22"/>
<path class="t" d="M717.84 1716.22L724.24 1716.22"/>
<path class="k" d="M473.83 1717.22L476.83 1707.22"/>
<path class="k" d="M435.98 1717.22L438.98 1707.22"/>
<path class="k" d="M558.99 1717.22L561.99 1707.22"/>
<path class="t" d="M632.68 1714.22L639.08 1714.22"/>
<path class="t" d="M632.68 1716.22L639.08 1716.22"/>
<rect class="kf" x="643.15" y="1714.22" width="4.4" height="3"/>
<path class="k" d="M625.22 1717.22L628.22 1707.22"/>
<path class="t" d="M528.6 1714.22L535 1714.22"/>
<path class="t" d="M528.6 1716.22L535 1716.22"/>
<rect class="kf" x="406.6" y="1714.22" width="4.4" height="3"/>
<path class="t" d="M793.54 1714.22L799.94 1714.22"/>
<path class="t" d="M793.54 1716.22L799.94 1716.22"/>
<path class="t" d="M765.15 1714.22L771.55 1714.22"/>
<path class="t" d="M765.15 1716.22L771.55 1716.22"/>
<path class="t" d="M358.29 1714.22L364.69 1714.22"/>
<path class="t" d="M358.29 1716.22L364.69 1716.22"/>
<path class="t" d="M661.07 1714.22L667.47 1714.22"/>
<path class="t" d="M661.07 1716.22L667.47 1716.22"/>
<path class="k" d="M767.15 1717.22L770.15 1707.22"/>
<rect class="kf" x="359.29" y="1714.22" width="4.4" height="3"/>
<rect class="kf" x="529.6" y="1714.22" width="4.4" height="3"/>
<path class="k" d="M398.13 1717.22L401.13 1707.22"/>
<path class="k" d="M502.22 1717.22L505.22 1707.22"/>
<path class="t" d="M443.44 1714.22L449.84 1714.22"/>
<path class="t" d="M443.44 1716.22L449.84 1716.22"/>
<path class="k" d="M483.29 1717.22L486.29 1707.22"/>
<path class="k" d="M814.46 1717.22L817.46 1707.22"/>
<path class="t" d="M727.3 1714.22L733.7 1714.22"/>
<path class="t" d="M727.3 1716.22L733.7 1716.22"/>
<rect class="kf" x="813.46" y="1748.56" width="4.4" height="3"/>
<rect class="kf" x="813.46" y="1748.56" width="4.4" height="3"/>
<path class="t" d="M812.46 1748.56L818.86 1748.56"/>
<path class="t" d="M812.46 1750.56L818.86 1750.56"/>
<rect class="kf" x="756.69" y="1748.56" width="4.4" height="3"/>
<path class="t" d="M727.3 1748.56L733.7 1748.56"/>
<path class="t" d="M727.3 1750.56L733.7 1750.56"/>
<path class="t" d="M765.15 1748.56L771.55 1748.56"/>
<path class="t" d="M765.15 1750.56L771.55 1750.56"/>
<rect class="kf" x="699.92" y="1748.56" width="4.4" height="3"/>
<path class="t" d="M812.46 1748.56L818.86 1748.56"/>
<path class="t" d="M812.46 1750.56L818.86 1750.56"/>
<path class="t" d="M736.77 1748.56L743.17 1748.56"/>
<path class="t" d="M736.77 1750.56L743.17 1750.56"/>
<rect class="kf" x="785.08" y="1748.56" width="4.4" height="3"/>
<rect class="kf" x="766.15" y="1765.73" width="4.4" height="3"/>
<rect class="kf" x="804" y="1765.73" width="4.4" height="3"/>
<path class="t" d="M746.23 1765.73L752.63 1765.73"/>
<path class="t" d="M746.23 1767.73L752.63 1767.73"/>
<path class="t" d="M708.38 1765.73L714.78 1765.73"/>
<path class="t" d="M708.38 1767.73L714.78 1767.73"/>
<path class="t" d="M727.3 1765.73L733.7 1765.73"/>
<path class="t" d="M727.3 1767.73L733.7 1767.73"/>
<path class="k" d="M767.15 1768.73L770.15 1758.73"/>
<rect class="kf" x="785.08" y="1765.73" width="4.4" height="3"/>
<rect class="kf" x="766.15" y="1765.73" width="4.4" height="3"/>
<rect class="kf" x="747.23" y="1765.73" width="4.4" height="3"/>
<rect class="kf" x="709.38" y="1765.73" width="4.4" height="3"/>
<rect class="kf" x="709.38" y="1802.6" width="4.4" height="3"/>
<rect class="kf" x="813.46" y="1802.6" width="4.4" height="3"/>
<path class="k" d="M729.3 1805.6L732.3 1795.6"/>
<path class="k" d="M719.84 1805.6L722.84 1795.6"/>
<path class="t" d="M793.54 1802.6L799.94 1802.6"/>
<path class="t" d="M793.54 1804.6L799.94 1804.6"/>
<rect class="kf" x="813.46" y="1802.6" width="4.4" height="3"/>
<path class="t" d="M803 1802.6L809.4 1802.6"/>
<path class="t" d="M803 1804.6L809.4 1804.6"/>
<rect class="kf" x="756.69" y="1802.6" width="4.4" height="3"/>
<rect class="kf" x="709.38" y="1802.6" width="4.4" height="3"/>
<rect class="kf" x="718.84" y="1819.77" width="4.4" height="3"/>
<path class="t" d="M698.92 1819.77L705.32 1819.77"/>
<path class="t" d="M698.92 1821.77L705.32 1821.77"/>
<rect class="kf" x="766.15" y="1819.77" width="4.4" height="3"/>
<path class="k" d="M719.84 1822.77L722.84 1812.77"/>
<rect class="kf" x="785.08" y="1819.77" width="4.4" height="3"/>
<rect class="kf" x="794.54" y="1819.77" width="4.4" height="3"/>
<path class="k" d="M719.84 1822.77L722.84 1812.77"/>
<path class="t" d="M717.84 1819.77L724.24 1819.77"/>
<path class="t" d="M717.84 1821.77L724.24 1821.77"/>
<rect class="kf" x="813.46" y="1819.77" width="4.4" height="3"/>
<path class="t" d="M793.54 1836.94L799.94 1836.94"/>
<path class="t" d="M793.54 1838.94L799.94 1838.94"/>
<rect class="kf" x="804" y="1836.94" width="4.4" height="3"/>
<rect class="kf" x="756.69" y="1836.94" width="4.4" height="3"/>
<rect class="kf" x="728.3" y="1836.94" width="4.4" height="3"/>
<path class="t" d="M727.3 1836.94L733.7 1836.94"/>
<path class="t" d="M727.3 1838.94L733.7 1838.94"/>
<path class="t" d="M727.3 1836.94L733.7 1836.94"/>
<path class="t" d="M727.3 1838.94L733.7 1838.94"/>
<rect class="kf" x="728.3" y="1836.94" width="4.4" height="3"/>
<path class="t" d="M746.23 1836.94L752.63 1836.94"/>
<path class="t" d="M746.23 1838.94L752.63 1838.94"/>
<rect class="kf" x="756.69" y="1836.94" width="4.4" height="3"/>
<rect class="kf" x="699.92" y="1854.11" width="4.4" height="3"/>
<rect class="kf" x="747.23" y="1854.11" width="4.4" height="3"/>
<path class="k" d="M795.54 1857.11L798.54 1847.11"/>
<path class="k" d="M776.61 1857.11L779.61 1847.11"/>
<path class="t" d="M774.61 1854.11L781.01 1854.11"/>
<path class="t" d="M774.61 1856.11L781.01 1856.11"/>
<path class="k" d="M719.84 1857.11L722.84 1847.11"/>
<rect class="kf" x="699.92" y="1854.11" width="4.4" height="3"/>
<path class="t" d="M812.46 1854.11L818.86 1854.11"/>
<path class="t" d="M812.46 1856.11L818.86 1856.11"/>
<rect class="kf" x="699.92" y="1854.11" width="4.4" height="3"/>
<path class="t" d="M717.84 1871.28L724.24 1871.28"/>
<path class="t" d="M717.84 1873.28L724.24 1873.28"/>
<path class="k" d="M767.15 1874.28L770.15 1864.28"/>
<path class="k" d="M710.38 1874.28L713.38 1864.28"/>
<path class="k" d="M748.23 1874.28L751.23 1864.28"/>
<path class="k" d="M776.61 1874.28L779.61 1864.28"/>
<rect class="kf" x="813.46" y="1871.28" width="4.4" height="3"/>
<path class="t" d="M774.61 1871.28L781.01 1871.28"/>
<path class="t" d="M774.61 1873.28L781.01 1873.28"/>
<path class="t" d="M727.3 1871.28L733.7 1871.28"/>
<path class="t" d="M727.3 1873.28L733.7 1873.28"/>
<path class="t" d="M812.46 1871.28L818.86 1871.28"/>
<path class="t" d="M812.46 1873.28L818.86 1873.28"/>
<path class="k" d="M767.15 1891.45L770.15 1881.45"/>
<rect class="kf" x="813.46" y="1888.45" width="4.4" height="3"/>
<path class="k" d="M710.38 1891.45L713.38 1881.45"/>
<rect class="kf" x="785.08" y="1888.45" width="4.4" height="3"/>
<path class="k" d="M786.08 1891.45L789.08 1881.45"/>
<path class="t" d="M803 1888.45L809.4 1888.45"/>
<path class="t" d="M803 1890.45L809.4 1890.45"/>
<path class="k" d="M776.61 1891.45L779.61 1881.45"/>
<path class="k" d="M767.15 1891.45L770.15 1881.45"/>
<path class="k" d="M729.3 1891.45L732.3 1881.45"/>
<rect class="kf" x="737.77" y="1905.62" width="4.4" height="3"/>
<rect class="kf" x="728.3" y="1905.62" width="4.4" height="3"/>
<path class="k" d="M719.84 1908.62L722.84 1898.62"/>
<path class="k" d="M757.69 1908.62L760.69 1898.62"/>
<path class="k" d="M710.38 1908.62L713.38 1898.62"/>
<path class="t" d="M755.69 1905.62L762.09 1905.62"/>
<path class="t" d="M755.69 1907.62L762.09 1907.62"/>
<path class="t" d="M793.54 1905.62L799.94 1905.62"/>
<path class="t" d="M793.54 1907.62L799.94 1907.62"/>
<rect class="kf" x="709.38" y="1905.62" width="4.4" height="3"/>
<rect class="kf" x="718.84" y="1905.62" width="4.4" height="3"/>
<path class="k" d="M511.68 1891.45L514.68 1881.45"/>
<path class="t" d="M433.98 1888.45L440.38 1888.45"/>
<path class="t" d="M433.98 1890.45L440.38 1890.45"/>
<rect class="kf" x="434.98" y="1888.45" width="4.4" height="3"/>
<rect class="kf" x="444.44" y="1888.45" width="4.4" height="3"/>
<path class="t" d="M424.52 1888.45L430.92 1888.45"/>
<path class="t" d="M424.52 1890.45L430.92 1890.45"/>
<path class="t" d="M481.29 1888.45L487.69 1888.45"/>
<path class="t" d="M481.29 1890.45L487.69 1890.45"/>
<rect class="kf" x="510.68" y="1888.45" width="4.4" height="3"/>
<rect class="kf" x="434.98" y="1888.45" width="4.4" height="3"/>
<path class="k" d="M492.75 1891.45L495.75 1881.45"/>
<path class="t" d="M471.83 1888.45L478.23 1888.45"/>
<path class="t" d="M471.83 1890.45L478.23 1890.45"/>
<path class="t" d="M462.37 1888.45L468.77 1888.45"/>
<path class="t" d="M462.37 1890.45L468.77 1890.45"/>
<path class="t" d="M462.37 1888.45L468.77 1888.45"/>
<path class="t" d="M462.37 1890.45L468.77 1890.45"/>
<path class="k" d="M492.75 1908.62L495.75 1898.62"/>
<path class="t" d="M519.14 1905.62L525.54 1905.62"/>
<path class="t" d="M519.14 1907.62L525.54 1907.62"/>
<path class="k" d="M464.37 1908.62L467.37 1898.62"/>
<path class="k" d="M454.91 1908.62L457.91 1898.62"/>
<path class="t" d="M424.52 1905.62L430.92 1905.62"/>
<path class="t" d="M424.52 1907.62L430.92 1907.62"/>
<rect class="kf" x="548.53" y="1905.62" width="4.4" height="3"/>
<path class="t" d="M547.53 1905.62L553.93 1905.62"/>
<path class="t" d="M547.53 1907.62L553.93 1907.62"/>
<path class="t" d="M452.91 1905.62L459.31 1905.62"/>
<path class="t" d="M452.91 1907.62L459.31 1907.62"/>
<rect class="kf" x="548.53" y="1905.62" width="4.4" height="3"/>
<rect class="kf" x="453.91" y="1905.62" width="4.4" height="3"/>
<path class="k" d="M540.06 1908.62L543.06 1898.62"/>
<path class="k" d="M549.53 1908.62L552.53 1898.62"/>
<path class="k" d="M454.91 1925.79L457.91 1915.79"/>
<rect class="kf" x="491.75" y="1922.79" width="4.4" height="3"/>
<path class="k" d="M502.22 1925.79L505.22 1915.79"/>
<path class="t" d="M462.37 1922.79L468.77 1922.79"/>
<path class="t" d="M462.37 1924.79L468.77 1924.79"/>
<rect class="kf" x="416.06" y="1922.79" width="4.4" height="3"/>
<path class="k" d="M435.98 1925.79L438.98 1915.79"/>
<path class="t" d="M424.52 1922.79L430.92 1922.79"/>
<path class="t" d="M424.52 1924.79L430.92 1924.79"/>
<path class="k" d="M417.06 1925.79L420.06 1915.79"/>
<path class="t" d="M528.6 1922.79L535 1922.79"/>
<path class="t" d="M528.6 1924.79L535 1924.79"/>
<rect class="kf" x="501.22" y="1922.79" width="4.4" height="3"/>
<path class="t" d="M424.52 1922.79L430.92 1922.79"/>
<path class="t" d="M424.52 1924.79L430.92 1924.79"/>
<path class="k" d="M426.52 1925.79L429.52 1915.79"/>
<rect class="kf" x="548.53" y="1957.13" width="4.4" height="3"/>
<rect class="kf" x="595.84" y="1957.13" width="4.4" height="3"/>
<path class="k" d="M511.68 1960.13L514.68 1950.13"/>
<path class="k" d="M369.75 1960.13L372.75 1950.13"/>
<rect class="kf" x="491.75" y="1957.13" width="4.4" height="3"/>
<path class="t" d="M443.44 1957.13L449.84 1957.13"/>
<path class="t" d="M443.44 1959.13L449.84 1959.13"/>
<path class="t" d="M452.91 1957.13L459.31 1957.13"/>
<path class="t" d="M452.91 1959.13L459.31 1959.13"/>
<path class="k" d="M530.6 1960.13L533.6 1950.13"/>
<rect class="kf" x="662.07" y="1957.13" width="4.4" height="3"/>
<path class="k" d="M521.14 1960.13L524.14 1950.13"/>
<path class="t" d="M755.69 1957.13L762.09 1957.13"/>
<path class="t" d="M755.69 1959.13L762.09 1959.13"/>
<rect class="kf" x="557.99" y="1957.13" width="4.4" height="3"/>
<path class="t" d="M500.22 1957.13L506.62 1957.13"/>
<path class="t" d="M500.22 1959.13L506.62 1959.13"/>
<rect class="kf" x="359.29" y="1957.13" width="4.4" height="3"/>
<rect class="kf" x="680.99" y="1957.13" width="4.4" height="3"/>
<path class="k" d="M653.61 1960.13L656.61 1950.13"/>
<path class="t" d="M613.76 1957.13L620.16 1957.13"/>
<path class="t" d="M613.76 1959.13L620.16 1959.13"/>
<path class="k" d="M738.77 1960.13L741.77 1950.13"/>
<path class="k" d="M644.15 1960.13L647.15 1950.13"/>
<rect class="kf" x="586.37" y="1957.13" width="4.4" height="3"/>
<path class="k" d="M530.6 1960.13L533.6 1950.13"/>
<path class="t" d="M481.29 1957.13L487.69 1957.13"/>
<path class="t" d="M481.29 1959.13L487.69 1959.13"/>
<rect class="kf" x="775.61" y="1957.13" width="4.4" height="3"/>
<path class="k" d="M426.52 1960.13L429.52 1950.13"/>
<rect class="kf" x="557.99" y="1957.13" width="4.4" height="3"/>
<path class="t" d="M424.52 1957.13L430.92 1957.13"/>
<path class="t" d="M424.52 1959.13L430.92 1959.13"/>
<rect class="kf" x="728.3" y="1957.13" width="4.4" height="3"/>
<path class="k" d="M502.22 1960.13L505.22 1950.13"/>
<path class="t" d="M377.21 1957.13L383.61 1957.13"/>
<path class="t" d="M377.21 1959.13L383.61 1959.13"/>
<rect class="kf" x="576.91" y="1957.13" width="4.4" height="3"/>
<path class="g" d="M296.4 1420.8L296.4 1572"/>
<path class="g" d="M314.4 1420.8L314.4 1585"/>
<path class="g" d="M853.1 1420.8L853.1 1585"/>
<path class="g" d="M257.5 1435.1L296.4 1435.1"/>
<path class="ga" d="M296.4 1435.1L266.4 1439.6L266.4 1430.6Z"/>
<path class="g" d="M314.4 1435.1L505.4 1435.1"/>
<path class="g" d="M656.6 1435.1L853.1 1435.1"/>
<path class="ga" d="M314.4 1435.1L344.4 1430.6L344.4 1439.6Z"/>
<path class="ga" d="M853.1 1435.1L823.1 1439.6L823.1 1430.6Z"/>
<text class="gt" x="188.7" y="1429.1" font-size="20.28" text-anchor="middle">1.30</text>
<text class="gt" x="188.7" y="1456.1" font-size="20.28" text-anchor="middle">[33.14]</text>
<path class="g" d="M144.2 1409.06Q133.2 1437.08 144.2 1465.1"/>
<path class="g" d="M233.2 1409.06Q244.2 1437.08 233.2 1465.1"/>
<text class="gt" x="580.8" y="1429.1" font-size="20.28" text-anchor="middle">39.31</text>
<text class="gt" x="580.8" y="1456.1" font-size="20.28" text-anchor="middle">[998.47]</text>
<path class="g" d="M530.8 1409.06Q519.8 1437.08 530.8 1465.1"/>
<path class="g" d="M630.8 1409.06Q641.8 1437.08 630.8 1465.1"/>
<text class="gt" x="129.5" y="1514.7" font-size="20.28" text-anchor="middle">1.02</text>
<text class="gt" x="129.5" y="1541.7" font-size="20.28" text-anchor="middle">[25.91]</text>
<path class="g" d="M85.5 1494.66Q74.5 1522.68 85.5 1550.7"/>
<path class="g" d="M173.5 1494.66Q184.5 1522.68 173.5 1550.7"/>
<path class="g" d="M198.8 1521.6L222.4 1521.6L222.4 1560"/>
<path class="ga" d="M222.4 1578L217.9 1548L226.9 1548Z"/>
<path class="g" d="M210.4 1578L296 1578"/>
<path class="g" d="M210.4 1591.9L305 1591.9"/>
<path class="g" d="M210.4 1971.5L305 1971.5"/>
<path class="g" d="M222.4 1591.9L222.4 1756"/>
<path class="g" d="M222.4 1809L222.4 1971.5"/>
<path class="ga" d="M222.4 1591.9L226.9 1621.9L217.9 1621.9Z"/>
<path class="ga" d="M222.4 1971.5L217.9 1941.5L226.9 1941.5Z"/>
<text class="gt" x="222.4" y="1775.5" font-size="20.28" text-anchor="middle">27.68</text>
<text class="gt" x="222.4" y="1802.5" font-size="20.28" text-anchor="middle">[703.07]</text>
<text class="gt" x="953.4" y="1565.5" font-size="20.28" textLength="228.3" lengthAdjust="spacingAndGlyphs">.41[10.41] X .88[22.35]</text>
<text class="gt" x="984.9" y="1593.3" font-size="20.28" textLength="166.8" lengthAdjust="spacingAndGlyphs">SLOT, 4 PLACES</text>
<path class="g" d="M952 1545.7Q941 1572.25 952 1598.8"/>
<path class="g" d="M1185 1545.7Q1196 1572.25 1185 1598.8"/>
<path class="g" d="M946.5 1570.2L924.8 1570.2L880 1582.5"/>
<path class="ga" d="M854.5 1589.6L882.21 1577.25L884.61 1585.92Z"/>
<path class="t" d="M1054.3 409.1L422.5 916.5"/>
<clipPath id="ca"><circle cx="1154" cy="329.6" r="125"/></clipPath><g clip-path="url(#ca)">
<rect class="k" x="1080.8" y="231.4" width="143.4" height="191.7"/>
<path class="k" d="M1080.8 387.3L1224.2 387.3"/>
<path class="k" d="M1224.2 373.3L1290 373.3"/>
<path class="k" d="M1215.4 215L1215.4 231.4"/>
<path class="k" d="M1127.53 423.12L1127.53 462.08"/>
<path class="k" d="M1140 423.12L1140 462.08"/>
<path class="k" d="M1152.47 423.12L1152.47 462.08"/>
<path class="k" d="M1164.94 423.12L1164.94 462.08"/>
<path class="k" d="M1177.41 423.12L1177.41 462.08"/>
<path class="k" d="M1189.87 423.12L1189.87 462.08"/>
<path class="t" d="M1127.53 448.06L1177.41 448.06"/>
<path class="k" d="M1203.9 423.1a6 6 0 0 0 -6 6v30"/>
</g>
<circle class="kc" cx="1154" cy="329.6" r="125"/>
<circle class="k" cx="1152.5" cy="303.7" r="24.9"/>
<path class="t" d="M1117.5 303.7L1144.5 303.7"/>
<path class="t" d="M1148.5 303.7L1156.5 303.7"/>
<path class="t" d="M1160.5 303.7L1188.5 303.7"/>
<path class="t" d="M1152.5 268.7L1152.5 295.7"/>
<path class="t" d="M1152.5 299.7L1152.5 307.7"/>
<path class="t" d="M1152.5 311.7L1152.5 337.7"/>
<path class="g" d="M1080.8 95.8L1080.8 231.4"/>
<path class="g" d="M1224.2 95.8L1224.2 231.4"/>
<path class="g" d="M1152.5 136.4L1152.5 270"/>
<path class="g" d="M1020 108.3L1080.8 108.3"/>
<path class="ga" d="M1080.8 108.3L1050.8 112.8L1050.8 103.8Z"/>
<path class="g" d="M1224.2 108.3L1285 108.3"/>
<path class="ga" d="M1224.2 108.3L1254.2 103.8L1254.2 112.8Z"/>
<text class="gt" x="1153.1" y="101.5" font-size="20.28" text-anchor="middle">1.50</text>
<text class="gt" x="1153.1" y="128.5" font-size="20.28" text-anchor="middle">[38.10]</text>
<path class="g" d="M1109.1 81.46Q1098.1 109.48 1109.1 137.5"/>
<path class="g" d="M1197.1 81.46Q1208.1 109.48 1197.1 137.5"/>
<path class="g" d="M1041.8 148.8L1152.5 148.8"/>
<path class="ga" d="M1080.8 148.8L1110.8 144.3L1110.8 153.3Z"/>
<path class="ga" d="M1152.5 148.8L1122.5 153.3L1122.5 144.3Z"/>
<text class="gt" x="971.7" y="141.7" font-size="20.28" text-anchor="middle">.75</text>
<text class="gt" x="971.7" y="168.7" font-size="20.28" text-anchor="middle">[19.05]</text>
<path class="g" d="M927.7 121.66Q916.7 149.68 927.7 177.7"/>
<path class="g" d="M1015.7 121.66Q1026.7 149.68 1015.7 177.7"/>
<text class="gt" x="1299.9" y="164.4" font-size="20.28" textLength="183" lengthAdjust="spacingAndGlyphs">∅.53[13.46] THRU</text>
<path class="g" d="M1297.3 141.7Q1286.3 157.75 1297.3 173.8"/>
<path class="g" d="M1483 141.7Q1494 157.75 1483 173.8"/>
<path class="g" d="M1291.8 156.6L1267.8 156.6L1188 258.5"/>
<path class="ga" d="M1169.6 281.9L1184.57 255.52L1191.65 261.07Z"/>
<path class="g" d="M1224.2 231.4L1419 231.4"/>
<path class="g" d="M1224.2 423.1L1419 423.1"/>
<path class="g" d="M1406.5 231.4L1406.5 262"/>
<path class="g" d="M1406.5 321L1406.5 423.1"/>
<path class="ga" d="M1406.5 231.4L1411 261.4L1402 261.4Z"/>
<path class="ga" d="M1406.5 423.1L1402 393.1L1411 393.1Z"/>
<text class="gt" x="1406.5" y="283.8" font-size="20.28" text-anchor="middle">2.00</text>
<text class="gt" x="1406.5" y="310.8" font-size="20.28" text-anchor="middle">[50.80]</text>
<path class="g" d="M1362.5 263.76Q1351.5 291.78 1362.5 319.8"/>
<path class="g" d="M1450.5 263.76Q1461.5 291.78 1450.5 319.8"/>
<path class="g" d="M1191.4 303.1L1341 303.1"/>
<path class="g" d="M1328.6 243.3L1328.6 303.1"/>
<path class="ga" d="M1328.6 303.1L1324.1 273.1L1333.1 273.1Z"/>
<path class="g" d="M1328.6 423.1L1328.6 483.9"/>
<path class="ga" d="M1328.6 423.1L1333.1 453.1L1324.1 453.1Z"/>
<text class="gt" x="1329.5" y="359.2" font-size="20.28" text-anchor="middle">1.25</text>
<text class="gt" x="1329.5" y="386.2" font-size="20.28" text-anchor="middle">[31.75]</text>
<path class="g" d="M1285.5 339.16Q1274.5 367.18 1285.5 395.2"/>
<path class="g" d="M1373.5 339.16Q1384.5 367.18 1373.5 395.2"/>
<path class="t" d="M964.6 933.1L554.6 1016.1"/>
<clipPath id="cb"><circle cx="1165.9" cy="893.4" r="201.5"/></clipPath><g clip-path="url(#cb)">
<path class="t" d="M1008.41 768.64C1010.8 788.41 1013.52 837.51 1022.73 887.28C1031.93 937.05 1056.82 1037.28 1063.64 1067.28"/>
<path class="t" d="M1039.09 735.91C1041.82 761.14 1047.28 836.82 1055.46 887.28C1063.64 937.73 1081.91 1012.39 1088.19 1038.65C1094.46 1064.9 1092.28 1043.76 1093.09 1044.78"/>
<path class="t" d="M1049.32 727.73C1048.64 744.09 1045.91 809.55 1045.23 825.91"/>
<path class="t" d="M1075.91 711.37C1076.94 740.69 1079.19 832.05 1082.05 887.28C1084.91 942.51 1091.25 1016.83 1093.09 1042.74"/>
<path class="t" d="M1035 928.19C1039.78 951.37 1058.87 1044.1 1063.64 1067.28"/>
<rect class="k" x="1093.1" y="720.4" width="144.4" height="380"/>
<path class="t" d="M1241.6 700L1241.6 1100"/>
<path class="t" d="M1245.7 700L1245.7 1100"/>
<path class="t" d="M1306.2 752L1306.2 1031"/>
<path class="k" d="M1129.1 690.91L1129.1 720.37"/>
<path class="k" d="M1189.64 690.91L1189.64 720.37"/>
<path class="k" d="M1198.64 690.91L1198.64 720.37"/>
<rect class="k" x="1093.1" y="1032.5" width="144.4" height="12.3"/>
<path class="t" d="M1129.1 1080.37L1129.1 1095.92"/>
<path class="t" d="M1141.37 1080.37L1141.37 1095.92"/>
<path class="t" d="M1149.55 1080.37L1149.55 1095.92"/>
<path class="t" d="M1178.19 1080.37L1178.19 1095.92"/>
<path class="t" d="M1188.41 1080.37L1188.41 1095.92"/>
<path class="t" d="M1198.64 1080.37L1198.64 1095.92"/>
<path class="k" d="M1154.6 939.9L1175.6 939.9L1186.1 956.9L1186.1 962.9L1175.6 979.9L1154.6 979.9L1144.1 962.9L1144.1 956.9Z"/>
<circle class="k" cx="1165.1" cy="958.9" r="20.5"/>
<path class="k" d="M1145.46 973.19L1157.73 998.55L1172.05 998.55L1185.14 973.19"/>
<path class="k" d="M1157.73 1003.87L1172.05 1003.87"/>
<rect class="k wf" x="1154.46" y="1003.87" width="20.45" height="40.91"/>
<path class="k" d="M1154.46 1032.51L1174.91 1032.51"/>
<rect class="k wf" x="1158.55" y="1044.78" width="12.27" height="55.23"/>
</g>
<circle class="kc" cx="1165.9" cy="893.4" r="201.5"/>
<circle class="k" cx="1165.1" cy="792.4" r="25.4"/>
<path class="t" d="M1129.1 792.4L1157.1 792.4"/>
<path class="t" d="M1161.1 792.4L1169.1 792.4"/>
<path class="t" d="M1173.1 792.4L1201.1 792.4"/>
<path class="t" d="M1165.1 756.4L1165.1 784.4"/>
<path class="t" d="M1165.1 788.4L1165.1 796.4"/>
<path class="t" d="M1165.1 800.4L1165.1 828.4"/>
<path class="g" d="M1093.1 590.7L1093.1 720.4"/>
<path class="g" d="M1237.5 590.7L1237.5 715"/>
<path class="g" d="M1165.1 631.6L1165.1 765"/>
<path class="g" d="M1034 602.1L1093.1 602.1"/>
<path class="ga" d="M1093.1 602.1L1063.1 606.6L1063.1 597.6Z"/>
<path class="g" d="M1237.5 602.1L1297.6 602.1"/>
<path class="ga" d="M1237.5 602.1L1267.5 597.6L1267.5 606.6Z"/>
<text class="gt" x="1165.1" y="596.8" font-size="20.28" text-anchor="middle">1.50</text>
<text class="gt" x="1165.1" y="623.8" font-size="20.28" text-anchor="middle">[38.10]</text>
<path class="g" d="M1121.1 576.76Q1110.1 604.78 1121.1 632.8"/>
<path class="g" d="M1209.1 576.76Q1220.1 604.78 1209.1 632.8"/>
<path class="g" d="M1053.4 643L1165.1 643"/>
<path class="ga" d="M1093.1 643L1123.1 638.5L1123.1 647.5Z"/>
<path class="ga" d="M1165.1 643L1135.1 647.5L1135.1 638.5Z"/>
<text class="gt" x="983.9" y="636.5" font-size="20.28" text-anchor="middle">.75</text>
<text class="gt" x="983.9" y="663.5" font-size="20.28" text-anchor="middle">[19.05]</text>
<path class="g" d="M939.9 616.46Q928.9 644.48 939.9 672.5"/>
<path class="g" d="M1027.9 616.46Q1038.9 644.48 1027.9 672.5"/>
<text class="gt" x="1305" y="659.4" font-size="20.28" textLength="186.1" lengthAdjust="spacingAndGlyphs">∅.53[13.49] THRU</text>
<path class="g" d="M1303.5 637.7Q1292.5 653.05 1303.5 668.4"/>
<path class="g" d="M1490.5 637.7Q1501.5 653.05 1490.5 668.4"/>
<path class="g" d="M1298 652L1273.1 652L1196 752"/>
<path class="ga" d="M1182.3 770.7L1196.76 744.03L1203.95 749.45Z"/>
<path class="g" d="M1245.7 720.4L1525.1 720.4"/>
<path class="g" d="M1239.6 1080.4L1525.1 1080.4"/>
<path class="g" d="M1512.4 720.4L1512.4 795"/>
<path class="g" d="M1512.4 851.5L1512.4 1080.4"/>
<path class="ga" d="M1512.4 720.4L1516.9 750.4L1507.9 750.4Z"/>
<path class="ga" d="M1512.4 1080.4L1507.9 1050.4L1516.9 1050.4Z"/>
<text class="gt" x="1512.4" y="815.7" font-size="20.28" text-anchor="middle">3.75</text>
<text class="gt" x="1512.4" y="842.7" font-size="20.28" text-anchor="middle">[95.25]</text>
<path class="g" d="M1468.9 795.66Q1457.9 823.68 1468.9 851.7"/>
<path class="g" d="M1555.9 795.66Q1566.9 823.68 1555.9 851.7"/>
<path class="g" d="M1202.7 792.4L1442 792.4"/>
<path class="g" d="M1428.6 792.4L1428.6 920"/>
<path class="g" d="M1428.6 976.5L1428.6 1080.4"/>
<path class="ga" d="M1428.6 792.4L1433.1 822.4L1424.1 822.4Z"/>
<path class="ga" d="M1428.6 1080.4L1424.1 1050.4L1433.1 1050.4Z"/>
<text class="gt" x="1428.6" y="940.5" font-size="20.28" text-anchor="middle">3.00</text>
<text class="gt" x="1428.6" y="967.5" font-size="20.28" text-anchor="middle">[76.20]</text>
<path class="g" d="M1384.4 920.46Q1373.4 948.48 1384.4 976.5"/>
<path class="g" d="M1472.8 920.46Q1483.8 948.48 1472.8 976.5"/>
<rect class="k" x="1113.47" y="1225.49" width="169.25" height="156.95"/>
<rect class="k" x="1119.22" y="1233.63" width="43.43" height="114.48"/>
<rect class="k" x="1173.51" y="1233.63" width="43.91" height="114.48"/>
<rect class="k" x="1228.11" y="1233.63" width="44.71" height="114.48"/>
<rect class="k" x="1191.39" y="1225.49" width="7.98" height="8.14"/>
<rect class="k" x="1246.47" y="1225.49" width="7.98" height="8.14"/>
<circle class="k wf" cx="1168.24" cy="1290.95" r="14.7"/>
<rect class="k" x="1165.36" y="1277.06" width="5.27" height="27.14"/>
<rect class="wf0" x="1162.65" y="1274.19" width="10.86" height="2.87"/>
<rect class="wf0" x="1162.65" y="1304.84" width="10.86" height="2.87"/>
<path class="k" d="M1162.65 1274.19L1173.51 1274.19"/>
<path class="k" d="M1162.65 1307.72L1173.51 1307.72"/>
<circle class="k wf" cx="1223" cy="1290.95" r="14.7"/>
<rect class="k" x="1220.13" y="1277.06" width="5.27" height="27.14"/>
<rect class="wf0" x="1217.41" y="1274.19" width="10.86" height="2.87"/>
<rect class="wf0" x="1217.41" y="1304.84" width="10.86" height="2.87"/>
<path class="k" d="M1217.41 1274.19L1228.27 1274.19"/>
<path class="k" d="M1217.41 1307.72L1228.27 1307.72"/>
<circle class="k wf" cx="1140.77" cy="1266.2" r="17.2"/>
<circle class="k" cx="1140.77" cy="1266.2" r="13.1"/>
<circle class="k wf" cx="1140.77" cy="1315.38" r="17.2"/>
<circle class="k" cx="1140.77" cy="1315.38" r="13.1"/>
<circle class="k wf" cx="1195.38" cy="1266.2" r="17.2"/>
<circle class="k" cx="1195.38" cy="1266.2" r="13.1"/>
<circle class="k wf" cx="1195.38" cy="1315.38" r="17.2"/>
<circle class="k" cx="1195.38" cy="1315.38" r="13.1"/>
<circle class="k wf" cx="1250.47" cy="1266.2" r="17.2"/>
<circle class="k" cx="1250.47" cy="1266.2" r="13.1"/>
<circle class="k wf" cx="1250.47" cy="1315.38" r="17.2"/>
<circle class="k" cx="1250.47" cy="1315.38" r="13.1"/>
<rect class="k" x="1176.22" y="1352.1" width="95.8" height="24.75" rx="8"/>
<text class="ol" x="1189" y="1370.5" font-size="19.24" textLength="20" lengthAdjust="spacingAndGlyphs">T1</text>
<text class="ol" x="1236.9" y="1370.5" font-size="19.24" textLength="21.1" lengthAdjust="spacingAndGlyphs">T2</text>
<text class="r" x="1322.8" y="1288.6" font-size="21.32" textLength="122" lengthAdjust="spacingAndGlyphs">SEE NOTE 1</text>
<text class="r" x="1322.8" y="1371.6" font-size="21.32" textLength="123.6" lengthAdjust="spacingAndGlyphs">SEE NOTE 2</text>
<path class="k" d="M1320.7 1281.4L1296 1281.4L1275 1292.2"/>
<path class="ka" d="M1255.3 1302.3L1279.7 1284.14L1284.27 1293.03Z"/>
<path class="k" d="M1320.7 1364.4L1296 1364.4L1273 1356.6"/>
<path class="ka" d="M1249.7 1348.6L1279.71 1353.53L1276.49 1363Z"/>
<path class="g" d="M1608.8 146.6L1952.4 146.6"/>
<path class="g" d="M1678.9 224.1L1751.5 224.1"/>
<path class="g" d="M1609.2 1348L1763 1348"/>
<path class="g" d="M1621.7 146.6L1621.7 843"/>
<path class="g" d="M1621.7 900L1621.7 1348"/>
<path class="ga" d="M1621.7 146.6L1626.2 176.6L1617.2 176.6Z"/>
<path class="ga" d="M1621.7 1348L1617.2 1318L1626.2 1318Z"/>
<text class="gt" x="1621.6" y="864.1" font-size="20.28" text-anchor="middle">87.56</text>
<text class="gt" x="1621.6" y="891.1" font-size="20.28" text-anchor="middle">[2223.90]</text>
<path class="g" d="M1565.9 844.06Q1554.9 872.08 1565.9 900.1"/>
<path class="g" d="M1677.3 844.06Q1688.3 872.08 1677.3 900.1"/>
<path class="g" d="M1691.9 224.1L1691.9 1178"/>
<path class="g" d="M1691.9 1234L1691.9 1348"/>
<path class="ga" d="M1691.9 224.1L1696.4 254.1L1687.4 254.1Z"/>
<path class="ga" d="M1691.9 1348L1687.4 1318L1696.4 1318Z"/>
<text class="gt" x="1691.9" y="1198.2" font-size="20.28" text-anchor="middle">82.00</text>
<text class="gt" x="1691.9" y="1225.2" font-size="20.28" text-anchor="middle">[2082.67]</text>
<path class="g" d="M1636.4 1178.16Q1625.4 1206.18 1636.4 1234.2"/>
<path class="g" d="M1747.4 1178.16Q1758.4 1206.18 1747.4 1234.2"/>
<path class="g" d="M2034 1035.4L2266.3 1035.4"/>
<path class="g" d="M2174.3 1348L2266.3 1348"/>
<path class="g" d="M2255 1035.4L2255 1164.5"/>
<path class="g" d="M2255 1221L2255 1348"/>
<path class="ga" d="M2255 1035.4L2259.5 1065.4L2250.5 1065.4Z"/>
<path class="ga" d="M2255 1348L2250.5 1318L2259.5 1318Z"/>
<text class="gt" x="2255" y="1185.2" font-size="20.28" text-anchor="middle">22.82</text>
<text class="gt" x="2255" y="1212.2" font-size="20.28" text-anchor="middle">[579.56]</text>
<path class="g" d="M2205.5 1165.16Q2194.5 1193.18 2205.5 1221.2"/>
<path class="g" d="M2304.5 1165.16Q2315.5 1193.18 2304.5 1221.2"/>
<text class="gt" x="2059.3" y="109.8" font-size="20.28" textLength="276.9" lengthAdjust="spacingAndGlyphs">∅1.50[38.10] X 6.25[165.10]</text>
<text class="gt" x="2112.6" y="137.9" font-size="20.28" textLength="166.6" lengthAdjust="spacingAndGlyphs">SLOT, 2 PLACES</text>
<path class="g" d="M2055 88.8Q2044 115.95 2055 143.1"/>
<path class="g" d="M2336.5 88.8Q2347.5 115.95 2336.5 143.1"/>
<path class="g" d="M2049.5 114L2024.3 114L1990 149"/>
<path class="ga" d="M1975.9 163.5L1991.23 142.13L1996.95 147.72Z"/>
<path class="k" d="M1949.6 224.1V153a5.7 5.7 0 0 1 5.7-5.7h26.5a5.7 5.7 0 0 1 5.7 5.7V224.1"/>
<path class="k" d="M1957.7 224.1V171.8a10.5 10.5 0 0 1 21 0V224.1"/>
<rect class="k wf" x="1755.3" y="224.1" width="426.1" height="20"/>
<circle class="kf" cx="1789.7" cy="234.6" r="4.6"/>
<circle class="wf t" cx="1789.7" cy="234.6" r="1.2"/>
<circle class="kf" cx="1967.5" cy="234.6" r="4.6"/>
<circle class="wf t" cx="1967.5" cy="234.6" r="1.2"/>
<circle class="kf" cx="2145.6" cy="234.6" r="4.6"/>
<circle class="wf t" cx="2145.6" cy="234.6" r="1.2"/>
<path class="k" d="M1762 244.8L1794.6 448.2L1762 481.5"/>
<path class="t" d="M1764.5 250L1795.5 449"/>
<path class="k" d="M1762 244.8L1762 481.5"/>
<path class="k" d="M2174 244.8L2141.7 448.2L2174 481.5"/>
<path class="t" d="M2171.5 250L2140.8 449"/>
<path class="k" d="M2174 244.8L2174 481.5"/>
<path class="k" d="M1761.8 481.5L1761.8 1250.3"/>
<path class="k" d="M1764.4 481.5L1764.4 1250.3"/>
<path class="k" d="M1776.4 481.5L1776.4 1250.3"/>
<path class="k" d="M1762 481.5L1776.4 481.5"/>
<path class="k" d="M2171.6 481.5L2171.6 1250.3"/>
<path class="k" d="M2174.2 481.5L2174.2 1250.3"/>
<path class="k" d="M2160.6 481.5L2160.6 1250.3"/>
<path class="k" d="M2160.6 481.5L2174.2 481.5"/>
<rect class="t" x="1759.5" y="483.5" width="2.5" height="5"/>
<rect class="kf" x="2174.2" y="483.5" width="2.5" height="5"/>
<rect class="t" x="1759.5" y="894.5" width="2.5" height="5"/>
<rect class="kf" x="2174.2" y="894.5" width="2.5" height="5"/>
<rect class="t" x="1759.5" y="1074.5" width="2.5" height="5"/>
<rect class="kf" x="2174.2" y="1074.5" width="2.5" height="5"/>
<rect class="t" x="1759.5" y="1257.5" width="2.5" height="5"/>
<rect class="kf" x="2174.2" y="1257.5" width="2.5" height="5"/>
<circle class="kf" cx="1767.3" cy="328.3" r="0.9"/>
<circle class="kf" cx="1767.3" cy="451.7" r="0.9"/>
<circle class="kf" cx="2168.7" cy="328.3" r="0.9"/>
<circle class="kf" cx="2168.7" cy="451.7" r="0.9"/>
<circle class="k" cx="1967.5" cy="356.3" r="4.4"/>
<circle class="t" cx="1967.5" cy="356.3" r="2.6"/>
<circle class="k" cx="1967.5" cy="573.6" r="4.4"/>
<circle class="t" cx="1967.5" cy="573.6" r="2.6"/>
<rect class="k wf" x="1763.3" y="1250.3" width="408.9" height="97.4"/>
<path class="k" d="M1763.3 1254L2172.2 1254"/>
<path class="t" d="M1765.6 1254L1765.6 1347.7"/>
<path class="t" d="M2170 1254L2170 1347.7"/>
<circle class="kf" cx="1878.8" cy="1266.5" r="1.1"/>
<circle class="kf" cx="2057.3" cy="1266.5" r="1.1"/>
<circle class="kf" cx="1789.5" cy="1334.4" r="1.1"/>
<circle class="kf" cx="1968.2" cy="1334.4" r="1.1"/>
<circle class="kf" cx="2146.7" cy="1334.4" r="1.1"/>
<path class="k" d="M1802.3 1250.3V1070a4 4 0 0 1 4-4H2045.6a4 4 0 0 1 4 4V1250.3"/>
<path class="k" d="M1802.3 1069.1L2049.6 1069.1"/>
<path class="k" d="M1806.5 1093L1806.5 1250.3"/>
<path class="k" d="M2045.5 1093L2045.5 1250.3"/>
<path class="k2" d="M1802.3 1091.5L1806.5 1093"/>
<path class="k2" d="M2049.6 1091.5L2045.5 1093"/>
<rect class="k" x="1860.1" y="1105.7" width="5.8" height="5.8"/>
<rect class="k" x="1920.6" y="1105.7" width="5.8" height="5.8"/>
<rect class="k" x="2009.7" y="1105.7" width="5.8" height="5.8"/>
<circle class="k" cx="2073.5" cy="1108.2" r="4.3"/>
<circle class="t" cx="2073.5" cy="1108.2" r="2.4"/>
<rect class="k" x="1781.6" y="580.3" width="371.6" height="190.4"/>
<path class="k" d="M1781.6 596.7L2153.2 596.7"/>
<path class="t" d="M1781.6 598.7L2153.2 598.7"/>
<path class="k" d="M1781.6 759.1L2153.2 759.1"/>
<path class="k2" d="M1781.6 762L2153.2 762"/>
<circle class="kf" cx="1802.2" cy="584.9" r="3.6"/>
<path class="t" d="M1800.2 588.5l2 3l2-3"/>
<circle class="kf" cx="1967.7" cy="584.9" r="3.6"/>
<path class="t" d="M1965.7 588.5l2 3l2-3"/>
<circle class="kf" cx="2131.4" cy="584.9" r="3.6"/>
<path class="t" d="M2129.4 588.5l2 3l2-3"/>
<circle class="kf" cx="1885" cy="766.8" r="3.8"/>
<circle class="wf t" cx="1885" cy="766.8" r="1.3"/>
<circle class="kf" cx="2049.2" cy="766.8" r="3.8"/>
<circle class="wf t" cx="2049.2" cy="766.8" r="1.3"/>
<circle class="k" cx="1968" cy="779" r="4.5"/>
<circle class="t" cx="1968" cy="779" r="2.6"/>
<circle class="k" cx="2044.8" cy="609.67" r="2.2"/>
<circle class="k" cx="2104.72" cy="609.67" r="2.2"/>
<circle class="k" cx="2143.95" cy="606.39" r="2.2"/>
<circle class="k" cx="2036.68" cy="618.56" r="2.2"/>
<circle class="k" cx="2113.99" cy="618.56" r="2.2"/>
<circle class="k" cx="2044.8" cy="629.97" r="2.2"/>
<circle class="k" cx="2105.3" cy="629.97" r="2.2"/>
<circle class="k" cx="2036.68" cy="674.03" r="2.2"/>
<circle class="k" cx="2044.8" cy="683.12" r="2.2"/>
<circle class="k" cx="2105.3" cy="683.12" r="2.2"/>
<rect class="t" x="1895.54" y="618.52" width="2.8" height="2.8"/>
<rect class="t" x="1984.64" y="618.52" width="2.8" height="2.8"/>
<rect class="t" x="1895.54" y="735.45" width="2.8" height="2.8"/>
<rect class="t" x="1965.7" y="735.45" width="2.8" height="2.8"/>
<rect class="t" x="1984.64" y="735.45" width="2.8" height="2.8"/>
<rect class="t" x="2065.24" y="736.03" width="2.8" height="2.8"/>
<rect class="t" x="2129.02" y="727.14" width="2.8" height="2.8"/>
<circle class="kf" cx="1916.27" cy="605.42" r="1"/>
<circle class="kf" cx="2130.42" cy="705.34" r="1"/>
<circle class="kf" cx="2066.64" cy="717.52" r="1"/>
<circle class="kf" cx="2130.42" cy="744.19" r="1"/>
<circle class="kf" cx="1845.34" cy="606.39" r="1"/>
<rect class="k wf" x="1788.32" y="634.41" width="75.38" height="101.47"/>
<rect class="k" x="1788.32" y="650.84" width="75.38" height="70.55"/>
<rect class="k" x="1793.73" y="660.5" width="64.55" height="50.25"/>
<ellipse class="k2" cx="1826.01" cy="685.63" rx="7.6" ry="3.8"/>
<rect class="k" x="1793.15" y="633.83" width="13.53" height="14.69"/>
<circle class="k" cx="1799.92" cy="641.18" r="4.2"/>
<circle class="kf" cx="1799.92" cy="641.18" r="2.4"/>
<rect class="k" x="1819.24" y="633.83" width="13.53" height="14.69"/>
<circle class="k" cx="1826.01" cy="641.18" r="4.2"/>
<circle class="k" cx="1826.01" cy="641.18" r="2.4"/>
<rect class="k" x="1844.95" y="633.83" width="13.53" height="14.69"/>
<circle class="k" cx="1851.71" cy="641.18" r="4.2"/>
<circle class="kf" cx="1851.71" cy="641.18" r="2.4"/>
<circle class="k" cx="1814.99" cy="643.5" r="3"/>
<circle class="k" cx="1836.64" cy="643.5" r="3"/>
<rect class="k" x="1793.15" y="722.35" width="13.53" height="14.69"/>
<circle class="k" cx="1799.92" cy="729.7" r="4.2"/>
<circle class="kf" cx="1799.92" cy="729.7" r="2.4"/>
<rect class="k" x="1819.24" y="722.35" width="13.53" height="14.69"/>
<circle class="k" cx="1826.01" cy="729.7" r="4.2"/>
<circle class="k" cx="1826.01" cy="729.7" r="2.4"/>
<rect class="k" x="1844.95" y="722.35" width="13.53" height="14.69"/>
<circle class="k" cx="1851.71" cy="729.7" r="4.2"/>
<circle class="kf" cx="1851.71" cy="729.7" r="2.4"/>
<circle class="k" cx="1814.99" cy="727.38" r="3"/>
<circle class="k" cx="1836.64" cy="727.38" r="3"/>
<rect class="kf" x="1788.64" y="637.18" width="4" height="8"/>
<rect class="kf" x="1788.64" y="650.71" width="4" height="8"/>
<rect class="kf" x="1788.64" y="710.62" width="4" height="8"/>
<rect class="kf" x="1788.64" y="726.08" width="4" height="8"/>
<rect class="kf" x="1859.38" y="637.18" width="4" height="8"/>
<rect class="kf" x="1859.38" y="650.71" width="4" height="8"/>
<rect class="kf" x="1859.38" y="710.62" width="4" height="8"/>
<rect class="kf" x="1859.38" y="726.08" width="4" height="8"/>
<rect class="t" x="1788.32" y="662.44" width="4.83" height="36.72"/>
<rect class="t" x="1858.87" y="662.44" width="4.83" height="36.72"/>
<path d="M1799.92 735.88C1799.76 738.78 1797.66 747.48 1798.95 753.28C1800.24 759.08 1802.01 765.2 1807.65 770.67C1813.28 776.15 1822.79 781.79 1832.77 786.14C1842.76 790.48 1861.77 794.99 1867.56 796.77" style="stroke-width:5;stroke-linecap:butt"/>
<path d="M1799.92 735.88C1799.76 738.78 1797.66 747.48 1798.95 753.28C1800.24 759.08 1802.01 765.2 1807.65 770.67C1813.28 776.15 1822.79 781.79 1832.77 786.14C1842.76 790.48 1861.77 794.99 1867.56 796.77" style="stroke:#fff;stroke-width:2.7;stroke-linecap:butt"/>
<path d="M1802.82 736.85C1802.98 739.59 1801.69 747.96 1803.78 753.28C1805.88 758.59 1809.26 763.91 1815.38 768.74C1821.5 773.57 1831.65 778.4 1840.5 782.27C1849.36 786.14 1863.86 790.32 1868.53 791.93" style="stroke-width:5;stroke-linecap:butt"/>
<path d="M1802.82 736.85C1802.98 739.59 1801.69 747.96 1803.78 753.28C1805.88 758.59 1809.26 763.91 1815.38 768.74C1821.5 773.57 1831.65 778.4 1840.5 782.27C1849.36 786.14 1863.86 790.32 1868.53 791.93" style="stroke:#fff;stroke-width:2.7;stroke-linecap:butt"/>
<path d="M1851.71 735.88C1851.3 740.39 1849.14 755.21 1849.2 762.94C1849.27 770.67 1850.33 777.76 1852.1 782.27C1853.87 786.78 1857.09 788.23 1859.83 790C1862.57 791.77 1867.08 792.42 1868.53 792.9" style="stroke-width:4.5;stroke-linecap:butt"/>
<path d="M1851.71 735.88C1851.3 740.39 1849.14 755.21 1849.2 762.94C1849.27 770.67 1850.33 777.76 1852.1 782.27C1853.87 786.78 1857.09 788.23 1859.83 790C1862.57 791.77 1867.08 792.42 1868.53 792.9" style="stroke:#fff;stroke-width:2.2;stroke-linecap:butt"/>
<path d="M1854.42 736.85C1854.36 740.88 1853.45 754.08 1854.03 761.01C1854.61 767.93 1855.97 773.89 1857.9 778.4C1859.83 782.91 1864.34 786.46 1865.63 788.07" style="stroke-width:4.5;stroke-linecap:butt"/>
<path d="M1854.42 736.85C1854.36 740.88 1853.45 754.08 1854.03 761.01C1854.61 767.93 1855.97 773.89 1857.9 778.4C1859.83 782.91 1864.34 786.46 1865.63 788.07" style="stroke:#fff;stroke-width:2.2;stroke-linecap:butt"/>
<path d="M1851.13 637.31C1850.91 634.09 1848.98 623.94 1849.78 617.98C1850.59 612.02 1853 603.65 1855.97 601.55C1858.93 599.46 1863.21 601.72 1867.56 605.42C1871.91 609.12 1878.35 616.21 1882.06 623.78C1885.76 631.35 1888.66 636.99 1889.79 650.84C1890.92 664.69 1888.34 689.82 1888.82 706.89C1889.31 723.96 1890.11 740.71 1892.69 753.28C1895.27 765.84 1898.81 774.7 1904.29 782.27C1909.76 789.84 1917.49 795.64 1925.55 798.7C1933.6 801.76 1948.1 800.31 1952.61 800.63" style="stroke-width:6;stroke-linecap:butt"/>
<path d="M1851.13 637.31C1850.91 634.09 1848.98 623.94 1849.78 617.98C1850.59 612.02 1853 603.65 1855.97 601.55C1858.93 599.46 1863.21 601.72 1867.56 605.42C1871.91 609.12 1878.35 616.21 1882.06 623.78C1885.76 631.35 1888.66 636.99 1889.79 650.84C1890.92 664.69 1888.34 689.82 1888.82 706.89C1889.31 723.96 1890.11 740.71 1892.69 753.28C1895.27 765.84 1898.81 774.7 1904.29 782.27C1909.76 789.84 1917.49 795.64 1925.55 798.7C1933.6 801.76 1948.1 800.31 1952.61 800.63" style="stroke:#fff;stroke-width:3.7;stroke-linecap:butt"/>
<path d="M1855.58 637.31C1855.32 634.41 1853.65 624.26 1854.03 619.92C1854.42 615.57 1855.64 612.35 1857.9 611.22C1860.15 610.09 1864.18 610.09 1867.56 613.15C1870.95 616.21 1875.46 622.98 1878.19 629.58C1880.93 636.18 1883.03 639.89 1883.99 652.77C1884.96 665.66 1883.35 689.82 1883.99 706.89C1884.64 723.96 1885.44 742.33 1887.86 755.21C1890.27 768.1 1893.17 776.47 1898.49 784.2C1903.8 791.93 1913.95 798.7 1919.75 801.6C1925.55 804.5 1931.02 801.6 1933.28 801.6" style="stroke-width:6;stroke-linecap:butt"/>
<path d="M1855.58 637.31C1855.32 634.41 1853.65 624.26 1854.03 619.92C1854.42 615.57 1855.64 612.35 1857.9 611.22C1860.15 610.09 1864.18 610.09 1867.56 613.15C1870.95 616.21 1875.46 622.98 1878.19 629.58C1880.93 636.18 1883.03 639.89 1883.99 652.77C1884.96 665.66 1883.35 689.82 1883.99 706.89C1884.64 723.96 1885.44 742.33 1887.86 755.21C1890.27 768.1 1893.17 776.47 1898.49 784.2C1903.8 791.93 1913.95 798.7 1919.75 801.6C1925.55 804.5 1931.02 801.6 1933.28 801.6" style="stroke:#fff;stroke-width:3.7;stroke-linecap:butt"/>
<rect class="k wf" x="1871.43" y="596.72" width="11.21" height="17.4"/>
<rect class="kf" x="1864.66" y="602.52" width="5.22" height="6.76"/>
<path d="M1863.7 650.84C1865.31 651.48 1870.95 651.81 1873.36 654.71C1875.78 657.61 1877.39 661.47 1878.19 668.24C1879 675 1879 687.89 1878.19 695.29C1877.39 702.7 1875.62 709.47 1873.36 712.69C1871.11 715.91 1866.11 714.3 1864.66 714.62" style="stroke-width:3;stroke-linecap:butt"/>
<path d="M1863.7 650.84C1865.31 651.48 1870.95 651.81 1873.36 654.71C1875.78 657.61 1877.39 661.47 1878.19 668.24C1879 675 1879 687.89 1878.19 695.29C1877.39 702.7 1875.62 709.47 1873.36 712.69C1871.11 715.91 1866.11 714.3 1864.66 714.62" style="stroke:#fff;stroke-width:1;stroke-linecap:butt"/>
<path d="M1863.7 658.57C1864.99 658.73 1869.5 660.18 1871.43 659.54C1873.36 658.89 1874.65 655.51 1875.29 654.71" style="stroke-width:2.6;stroke-linecap:butt"/>
<path d="M1863.7 658.57C1864.99 658.73 1869.5 660.18 1871.43 659.54C1873.36 658.89 1874.65 655.51 1875.29 654.71" style="stroke:#fff;stroke-width:1;stroke-linecap:butt"/>
<rect class="k wf" x="1871.43" y="638.28" width="12.56" height="12.56"/>
<rect class="k wf" x="1871.43" y="679.83" width="12.56" height="12.56"/>
<rect class="kf" x="1874.91" y="683.7" width="6.18" height="4.83"/>
<path class="k2" d="M1888.82 652.39L1905.25 652.39"/>
<path class="t" d="M1888.82 628.61H1978.7a10.67 10.67 0 0 1 10.67 10.67V683.7"/>
<path class="t" d="M1888.82 630.35H1976.96a8.93 8.93 0 0 1 8.93 8.93V683.7"/>
<path class="t" d="M1888.82 632.09H1975.22a7.19 7.19 0 0 1 7.19 7.19V683.7"/>
<path class="t" d="M1888.82 633.83H1973.48a5.45 5.45 0 0 1 5.45 5.45V683.7"/>
<rect class="k wf" x="1891.49" y="624.9" width="14" height="14"/>
<path class="t" d="M1891.49 624.9L1905.49 638.9"/>
<path class="t" d="M1905.49 624.9L1891.49 638.9"/>
<rect class="k" x="1897.29" y="627.9" width="2.4" height="10"/>
<rect class="k wf" x="1939.42" y="624.9" width="14" height="14"/>
<path class="t" d="M1939.42 624.9L1953.42 638.9"/>
<path class="t" d="M1953.42 624.9L1939.42 638.9"/>
<rect class="k" x="1945.22" y="627.9" width="2.4" height="10"/>
<rect class="k wf" x="1970.97" y="643.5" width="4.45" height="3.09"/>
<rect class="k wf" x="1978.12" y="643.5" width="4.45" height="3.09"/>
<rect class="k wf" x="1970.97" y="650.26" width="4.45" height="3.09"/>
<rect class="k wf" x="1978.12" y="650.26" width="4.45" height="3.09"/>
<rect class="k wf" x="1970.97" y="657.03" width="4.45" height="3.09"/>
<rect class="k wf" x="1978.12" y="657.03" width="4.45" height="3.09"/>
<path d="M1972.9 660.5C1972.58 662.12 1972.26 667.59 1970.97 670.17C1969.68 672.75 1966.14 675 1965.17 675.97" style="stroke-width:2.4;stroke-linecap:butt"/>
<path d="M1972.9 660.5C1972.58 662.12 1972.26 667.59 1970.97 670.17C1969.68 672.75 1966.14 675 1965.17 675.97" style="stroke:#fff;stroke-width:1;stroke-linecap:butt"/>
<path d="M1979.66 693.36C1978.86 695.62 1978.38 703.35 1974.83 706.89C1971.29 710.43 1961.14 713.33 1958.4 714.62" style="stroke-width:2.4;stroke-linecap:butt"/>
<path d="M1979.66 693.36C1978.86 695.62 1978.38 703.35 1974.83 706.89C1971.29 710.43 1961.14 713.33 1958.4 714.62" style="stroke:#fff;stroke-width:1;stroke-linecap:butt"/>
<rect class="k wf" x="1973.87" y="679.83" width="13.53" height="12.56"/>
<rect class="kf" x="1982.56" y="683.7" width="3.87" height="5.8"/>
<circle class="k" cx="1942.94" cy="651.81" r="9.3"/>
<path class="k" d="M1933.66 649.29v5"/>
<rect class="k wf" x="1918.78" y="665.34" width="46.39" height="14.5" rx="7.25"/>
<path class="k" d="M1928.78 665.34L1928.78 679.83"/>
<path class="k" d="M1935.38 665.34L1935.38 679.83"/>
<path class="k" d="M1941.98 665.34L1941.98 679.83"/>
<path class="k" d="M1948.58 665.34L1948.58 679.83"/>
<path class="k" d="M1955.18 665.34L1955.18 679.83"/>
<circle class="kf" cx="1923.28" cy="672.58" r="2"/>
<circle class="kf" cx="1960.67" cy="672.58" r="2"/>
<rect class="k wf" x="1912.02" y="706.89" width="46.39" height="13.53" rx="6.76"/>
<path class="k" d="M1922.02 706.89L1922.02 720.42"/>
<path class="k" d="M1928.62 706.89L1928.62 720.42"/>
<path class="k" d="M1935.22 706.89L1935.22 720.42"/>
<path class="k" d="M1941.82 706.89L1941.82 720.42"/>
<path class="k" d="M1948.42 706.89L1948.42 720.42"/>
<circle class="kf" cx="1916.52" cy="713.66" r="2"/>
<circle class="kf" cx="1953.9" cy="713.66" r="2"/>
<rect class="k wf" x="1901.54" y="685.9" width="14" height="13"/>
<rect class="kf" x="1903.54" y="689.9" width="10" height="5"/>
<rect class="kf" x="1898.54" y="690.9" width="3" height="3"/>
<path class="k" d="M1980.63 693.36C1981.76 694.97 1984.01 700.93 1987.4 703.03C1990.78 705.12 1995.77 706.25 2000.93 705.92C2006.08 705.6 2013.49 702.48 2018.32 701.09C2023.15 699.71 2018.32 697.23 2029.92 697.61C2041.51 698 2078.24 702.45 2087.9 703.41"/>
<path class="t" d="M1982.56 693.36C1983.69 694.65 1986.27 699.32 1989.33 701.09C1992.39 702.86 1996.09 704.31 2000.93 703.99C2005.76 703.67 2013.49 699.9 2018.32 699.16C2023.15 698.42 2018.32 698.64 2029.92 699.55C2041.51 700.45 2078.24 703.73 2087.9 704.57"/>
<path class="k" d="M1958.4 715.59C1962.27 714.46 1974.51 710.21 1981.6 708.82C1988.68 707.44 1997.7 707.54 2000.93 707.28"/>
<rect class="k wf" x="2001.27" y="698.92" width="14" height="14"/>
<path class="t" d="M2001.27 698.92L2015.27 712.92"/>
<path class="t" d="M2015.27 698.92L2001.27 712.92"/>
<rect class="k wf" x="2028.33" y="692.55" width="14" height="14"/>
<rect class="kf" x="2029.33" y="700.55" width="12" height="5"/>
<rect class="k wf" x="2052.29" y="692.55" width="14" height="14"/>
<rect class="kf" x="2053.29" y="700.55" width="12" height="5"/>
<path d="M2045.38 703.99C2045.38 707.7 2045.38 722.51 2045.38 726.22" style="stroke-width:2.2;stroke-linecap:butt"/>
<path d="M2045.38 703.99C2045.38 707.7 2045.38 722.51 2045.38 726.22" style="stroke:#fff;stroke-width:1;stroke-linecap:butt"/>
<rect class="k wf" x="2044.24" y="714.15" width="10" height="22"/>
<circle class="kf" cx="2049.24" cy="737.15" r="2.6"/>
<rect class="k wf" x="2054.66" y="627.65" width="40.97" height="16.43"/>
<rect class="k wf" x="2044.41" y="644.08" width="61.85" height="26.09"/>
<rect class="k wf" x="2054.66" y="671.13" width="40.97" height="15.46"/>
<rect class="k" x="2059.87" y="631.9" width="1.55" height="7.73"/>
<rect class="k" x="2067.61" y="631.9" width="1.55" height="7.73"/>
<rect class="k" x="2075.34" y="631.9" width="1.55" height="7.73"/>
<rect class="k" x="2083.07" y="631.9" width="1.55" height="7.73"/>
<rect class="k" x="2089.45" y="631.9" width="1.55" height="7.73"/>
<path class="k2" d="M2057.94 639.63L2092.73 639.63"/>
<rect class="k2" x="2054.66" y="645.04" width="40.97" height="22.23"/>
<rect class="k" x="2056.98" y="647.36" width="4.83" height="5.8"/>
<rect class="k" x="2056.98" y="657.61" width="4.83" height="5.8"/>
<rect class="k" x="2088.87" y="647.36" width="4.83" height="5.8"/>
<rect class="k" x="2088.87" y="657.61" width="4.83" height="5.8"/>
<rect class="kf" x="2066.64" y="647.36" width="19.33" height="5.8"/>
<rect class="wf t" x="2071.47" y="648.91" width="9.66" height="2.71"/>
<rect class="kf" x="2066.64" y="657.61" width="19.33" height="5.8"/>
<rect class="wf t" x="2071.47" y="659.15" width="9.66" height="2.71"/>
<path class="k2" d="M2054.66 656.06L2095.63 656.06"/>
<rect class="k2" x="2058.91" y="673.07" width="31.89" height="9.66"/>
<rect class="kf" x="2061.81" y="675.58" width="26.09" height="4.64"/>
<rect class="wf t" x="2068.57" y="676.35" width="11.6" height="3.09"/>
<circle class="kf" cx="2048.86" cy="637.31" r="3.2"/>
<circle class="kf" cx="2101.04" cy="637.31" r="3.2"/>
<circle class="kf" cx="2048.86" cy="675.97" r="3.2"/>
<circle class="kf" cx="2101.04" cy="675.97" r="3.2"/>
<rect class="k" x="2059.87" y="685.63" width="3.87" height="3.87"/>
<rect class="k" x="2076.69" y="685.63" width="3.87" height="3.87"/>
<path class="k" d="M2061.81 679.83C2062.61 682.41 2064.06 691.27 2066.64 695.29C2069.22 699.32 2075.5 702.54 2077.27 703.99"/>
<path class="k" d="M2078.62 689.5C2078.62 691.91 2078.62 701.58 2078.62 703.99"/>
<path d="M2087.9 703.41C2089.83 700.13 2094.66 689.08 2099.5 683.7C2104.33 678.32 2110.77 674.19 2116.89 671.13C2123.01 668.07 2133 666.3 2136.22 665.34" style="stroke-width:2.4;stroke-linecap:butt"/>
<path d="M2087.9 703.41C2089.83 700.13 2094.66 689.08 2099.5 683.7C2104.33 678.32 2110.77 674.19 2116.89 671.13C2123.01 668.07 2133 666.3 2136.22 665.34" style="stroke:#fff;stroke-width:1;stroke-linecap:butt"/>
<path d="M2087.9 704.57C2091.12 702.38 2101.11 695.87 2107.23 691.43C2113.35 686.98 2119.47 681.44 2124.62 677.9C2129.78 674.36 2135.9 671.46 2138.15 670.17" style="stroke-width:2.4;stroke-linecap:butt"/>
<path d="M2087.9 704.57C2091.12 702.38 2101.11 695.87 2107.23 691.43C2113.35 686.98 2119.47 681.44 2124.62 677.9C2129.78 674.36 2135.9 671.46 2138.15 670.17" style="stroke:#fff;stroke-width:1;stroke-linecap:butt"/>
<rect class="kf" x="2138.54" y="663.4" width="6.96" height="11.6"/>
<path d="M2085.97 703.99C2085.65 708.98 2084.29 724.13 2084.03 733.95C2083.78 743.77 2085.71 755.53 2084.42 762.94C2083.13 770.35 2082.17 774.54 2076.3 778.4C2070.44 782.27 2058.59 784.2 2049.24 786.14C2039.9 788.07 2025.08 789.36 2020.25 790" style="stroke-width:3;stroke-linecap:butt"/>
<path d="M2085.97 703.99C2085.65 708.98 2084.29 724.13 2084.03 733.95C2083.78 743.77 2085.71 755.53 2084.42 762.94C2083.13 770.35 2082.17 774.54 2076.3 778.4C2070.44 782.27 2058.59 784.2 2049.24 786.14C2039.9 788.07 2025.08 789.36 2020.25 790" style="stroke:#fff;stroke-width:1;stroke-linecap:butt"/>
<path class="k" d="M1867.56 789.03L2041.51 789.03"/>
<path class="k" d="M1867.56 792.9L2041.51 792.9"/>
<path class="k" d="M1867.56 796.77L2041.51 796.77"/>
<path class="k" d="M1867.56 801.6L2041.51 801.6"/>
<rect class="k wf" x="1869.88" y="785.17" width="3.09" height="18.36"/>
<rect class="k wf" x="1930.77" y="785.17" width="3.09" height="18.36"/>
<rect class="k wf" x="2013.29" y="785.17" width="3.09" height="18.36"/>
<rect class="k wf" x="2009.04" y="771.64" width="12.18" height="12.56"/>
<rect class="k" x="2012.91" y="768.74" width="4.64" height="17.4"/>
<rect class="k wf" x="1915.88" y="760.43" width="16.43" height="2.9"/>
<path class="t" d="M2335.5 664L2041 1005"/>
<rect class="k wf" x="1786.36" y="810.71" width="96.43" height="225" rx="4"/>
<path class="k" d="M1786.36 824.35L1882.79 824.35"/>
<path class="k" d="M1786.36 1022.08L1882.79 1022.08"/>
<path class="k2" d="M1781.88 810.71L1778.96 810.71L1778.96 824.35L1785.2 824.35L1785.2 1022.08L1778.96 1022.08L1778.96 1035.72"/>
<rect class="k" x="1787.73" y="828.25" width="4.48" height="3.9"/>
<rect class="k" x="1787.73" y="1013.31" width="4.48" height="3.9"/>
<rect class="t" x="1828.64" y="1022.08" width="4.87" height="13.64"/>
<circle class="k" cx="1868.57" cy="885.71" r="13.6"/>
<circle class="t" cx="1868.57" cy="885.71" r="12"/>
<circle class="k" cx="1868.57" cy="951.95" r="13.6"/>
<circle class="t" cx="1868.57" cy="951.95" r="12"/>
<circle class="k" cx="1868.57" cy="1016.24" r="13.6"/>
<circle class="t" cx="1868.57" cy="1016.24" r="12"/>
<circle class="k wf" cx="1825.71" cy="852.6" r="32.2"/>
<circle class="k" cx="1825.71" cy="852.6" r="30.4"/>
<circle class="k" cx="1825.71" cy="852.6" r="28.4"/>
<circle class="kf" cx="1816.36" cy="852.6" r="4.4"/>
<circle class="kf" cx="1834.87" cy="852.6" r="4.4"/>
<circle class="t" cx="1816.36" cy="852.6" r="5.6"/>
<circle class="t" cx="1834.87" cy="852.6" r="5.6"/>
<path class="k" d="M1817.92 857.47L1820.26 857.47L1821.43 861.36L1830 861.36L1831.56 857.47L1833.9 857.47"/>
<rect class="k" x="1821.82" y="860.39" width="9.74" height="2.92"/>
<rect class="k" x="1820.84" y="819.09" width="10.71" height="2.34"/>
<rect class="k" x="1820.84" y="883.77" width="10.71" height="2.34"/>
<circle class="k wf" cx="1825.71" cy="922.73" r="32.2"/>
<circle class="k" cx="1825.71" cy="922.73" r="30.4"/>
<circle class="k" cx="1825.71" cy="922.73" r="28.4"/>
<circle class="kf" cx="1816.36" cy="922.73" r="4.4"/>
<circle class="kf" cx="1834.87" cy="922.73" r="4.4"/>
<circle class="t" cx="1816.36" cy="922.73" r="5.6"/>
<circle class="t" cx="1834.87" cy="922.73" r="5.6"/>
<path class="k" d="M1817.92 927.6L1820.26 927.6L1821.43 931.49L1830 931.49L1831.56 927.6L1833.9 927.6"/>
<rect class="k" x="1821.82" y="930.52" width="9.74" height="2.92"/>
<rect class="k" x="1820.84" y="889.22" width="10.71" height="2.34"/>
<rect class="k" x="1820.84" y="953.9" width="10.71" height="2.34"/>
<circle class="k wf" cx="1825.71" cy="993.83" r="32.2"/>
<circle class="k" cx="1825.71" cy="993.83" r="30.4"/>
<circle class="k" cx="1825.71" cy="993.83" r="28.4"/>
<circle class="kf" cx="1816.36" cy="993.83" r="4.4"/>
<circle class="kf" cx="1834.87" cy="993.83" r="4.4"/>
<circle class="t" cx="1816.36" cy="993.83" r="5.6"/>
<circle class="t" cx="1834.87" cy="993.83" r="5.6"/>
<path class="k" d="M1817.92 998.7L1820.26 998.7L1821.43 1002.6L1830 1002.6L1831.56 998.7L1833.9 998.7"/>
<rect class="k" x="1821.82" y="1001.62" width="9.74" height="2.92"/>
<rect class="k" x="1820.84" y="960.33" width="10.71" height="2.34"/>
<rect class="k" x="1820.84" y="1025" width="10.71" height="2.34"/>
<circle class="kf" cx="1805.26" cy="1030.85" r="4.2"/>
<circle class="wf t" cx="1805.26" cy="1030.85" r="1.4"/>
<circle class="kf" cx="1856.88" cy="1030.85" r="4.2"/>
<circle class="wf t" cx="1856.88" cy="1030.85" r="1.4"/>
<circle class="kf" cx="1830.59" cy="814.61" r="4.2"/>
<circle class="wf t" cx="1830.59" cy="814.61" r="1.4"/>
<rect class="k" x="1802.47" y="811.58" width="4.8" height="8" rx="2"/>
<rect class="k wf" x="1864.68" y="811.69" width="6.23" height="198.7"/>
<path class="t" d="M1867.79 811.69L1867.79 1010.39"/>
<rect class="k" x="1883.18" y="829.22" width="5.84" height="181.17"/>
<path d="M1817.92 849.68C1820.2 846.59 1826.36 836.53 1831.56 831.17C1836.75 825.81 1843.57 818.51 1849.09 817.53C1854.61 816.56 1861.36 820.78 1864.68 825.32C1867.99 829.87 1868.25 841.56 1868.96 844.81" style="stroke-width:3;stroke-linecap:butt"/>
<path d="M1817.92 849.68C1820.2 846.59 1826.36 836.53 1831.56 831.17C1836.75 825.81 1843.57 818.51 1849.09 817.53C1854.61 816.56 1861.36 820.78 1864.68 825.32C1867.99 829.87 1868.25 841.56 1868.96 844.81" style="stroke:#fff;stroke-width:1;stroke-linecap:butt"/>
<path d="M1836.43 849.68C1838.05 847.57 1842.44 841.4 1846.17 837.01C1849.9 832.63 1855.42 826.62 1858.83 823.38C1862.24 820.13 1865.33 818.51 1866.62 817.53" style="stroke-width:3;stroke-linecap:butt"/>
<path d="M1836.43 849.68C1838.05 847.57 1842.44 841.4 1846.17 837.01C1849.9 832.63 1855.42 826.62 1858.83 823.38C1862.24 820.13 1865.33 818.51 1866.62 817.53" style="stroke:#fff;stroke-width:1;stroke-linecap:butt"/>
<path d="M1817.92 919.81C1820.2 916.72 1826.36 906.33 1831.56 901.3C1836.75 896.27 1843.57 890.26 1849.09 889.61C1854.61 888.96 1861.36 892.86 1864.68 897.4C1867.99 901.95 1868.25 913.64 1868.96 916.88" style="stroke-width:3;stroke-linecap:butt"/>
<path d="M1817.92 919.81C1820.2 916.72 1826.36 906.33 1831.56 901.3C1836.75 896.27 1843.57 890.26 1849.09 889.61C1854.61 888.96 1861.36 892.86 1864.68 897.4C1867.99 901.95 1868.25 913.64 1868.96 916.88" style="stroke:#fff;stroke-width:1;stroke-linecap:butt"/>
<path d="M1836.43 919.81C1838.05 917.7 1842.44 911.53 1846.17 907.14C1849.9 902.76 1855.42 899.35 1858.83 893.51C1862.24 887.66 1865.33 875.65 1866.62 872.08" style="stroke-width:3;stroke-linecap:butt"/>
<path d="M1836.43 919.81C1838.05 917.7 1842.44 911.53 1846.17 907.14C1849.9 902.76 1855.42 899.35 1858.83 893.51C1862.24 887.66 1865.33 875.65 1866.62 872.08" style="stroke:#fff;stroke-width:1;stroke-linecap:butt"/>
<path d="M1817.92 990.91C1820.2 987.83 1826.36 977.44 1831.56 972.4C1836.75 967.37 1843.57 968.02 1849.09 960.72C1854.61 953.41 1861.36 930.68 1864.68 928.57C1867.99 926.46 1868.25 944.81 1868.96 948.05" style="stroke-width:3;stroke-linecap:butt"/>
<path d="M1817.92 990.91C1820.2 987.83 1826.36 977.44 1831.56 972.4C1836.75 967.37 1843.57 968.02 1849.09 960.72C1854.61 953.41 1861.36 930.68 1864.68 928.57C1867.99 926.46 1868.25 944.81 1868.96 948.05" style="stroke:#fff;stroke-width:1;stroke-linecap:butt"/>
<path d="M1836.43 990.91C1838.05 988.8 1842.44 982.63 1846.17 978.25C1849.9 973.86 1855.42 970.46 1858.83 964.61C1862.24 958.77 1865.33 946.75 1866.62 943.18" style="stroke-width:3;stroke-linecap:butt"/>
<path d="M1836.43 990.91C1838.05 988.8 1842.44 982.63 1846.17 978.25C1849.9 973.86 1855.42 970.46 1858.83 964.61C1862.24 958.77 1865.33 946.75 1866.62 943.18" style="stroke:#fff;stroke-width:1;stroke-linecap:butt"/>
<path d="M1876.36 801.95C1878.96 805.52 1888.05 812.99 1891.95 823.38C1895.85 833.77 1899.42 851.3 1899.74 864.29C1900.07 877.27 1894.55 889.29 1893.9 901.3C1893.25 913.31 1894.22 923.05 1895.85 936.36C1897.47 949.68 1903.31 969.48 1903.64 981.17C1903.96 992.86 1901.69 1000.98 1897.79 1006.49C1893.9 1012.01 1883.18 1012.99 1880.26 1014.29" style="stroke-width:3;stroke-linecap:butt"/>
<path d="M1876.36 801.95C1878.96 805.52 1888.05 812.99 1891.95 823.38C1895.85 833.77 1899.42 851.3 1899.74 864.29C1900.07 877.27 1894.55 889.29 1893.9 901.3C1893.25 913.31 1894.22 923.05 1895.85 936.36C1897.47 949.68 1903.31 969.48 1903.64 981.17C1903.96 992.86 1901.69 1000.98 1897.79 1006.49C1893.9 1012.01 1883.18 1012.99 1880.26 1014.29" style="stroke:#fff;stroke-width:1;stroke-linecap:butt"/>
<path d="M1868.57 801.95C1871.17 804.55 1880.42 808.12 1884.16 817.53C1887.89 826.95 1890.33 841.88 1890.98 858.44C1891.62 875 1889.03 897.4 1888.05 916.88C1887.08 936.36 1887.08 959.74 1885.13 975.33C1883.18 990.91 1877.83 1004.55 1876.36 1010.39" style="stroke-width:3;stroke-linecap:butt"/>
<path d="M1868.57 801.95C1871.17 804.55 1880.42 808.12 1884.16 817.53C1887.89 826.95 1890.33 841.88 1890.98 858.44C1891.62 875 1889.03 897.4 1888.05 916.88C1887.08 936.36 1887.08 959.74 1885.13 975.33C1883.18 990.91 1877.83 1004.55 1876.36 1010.39" style="stroke:#fff;stroke-width:1;stroke-linecap:butt"/>
<path d="M1880.26 885.71C1882.53 885.71 1890.49 887.66 1893.9 885.71C1897.31 883.77 1899.42 880.2 1900.72 874.03C1902.01 867.86 1901.53 852.92 1901.69 848.7" style="stroke-width:3;stroke-linecap:butt"/>
<path d="M1880.26 885.71C1882.53 885.71 1890.49 887.66 1893.9 885.71C1897.31 883.77 1899.42 880.2 1900.72 874.03C1902.01 867.86 1901.53 852.92 1901.69 848.7" style="stroke:#fff;stroke-width:1;stroke-linecap:butt"/>
<rect class="k wf" x="1884.95" y="830.04" width="14" height="12"/>
<path class="t" d="M1884.95 830.04L1898.95 842.04"/>
<path class="t" d="M1898.95 830.04L1884.95 842.04"/>
<rect class="k wf" x="1884.95" y="911.86" width="14" height="12"/>
<path class="t" d="M1884.95 911.86L1898.95 923.86"/>
<path class="t" d="M1898.95 911.86L1884.95 923.86"/>
<rect class="k wf" x="1864.57" y="1002.29" width="8" height="16"/>
<rect class="kf" x="1866.57" y="1011.29" width="4" height="5"/>
<rect class="k wf" x="1917.27" y="810.71" width="96.43" height="225" rx="4"/>
<path class="k" d="M1917.27 824.35L2013.7 824.35"/>
<path class="k" d="M1917.27 1022.08L2013.7 1022.08"/>
<path class="k2" d="M1912.79 810.71L1909.87 810.71L1909.87 824.35L1916.11 824.35L1916.11 1022.08L1909.87 1022.08L1909.87 1035.72"/>
<rect class="k" x="1918.64" y="828.25" width="4.48" height="3.9"/>
<rect class="k" x="1918.64" y="1013.31" width="4.48" height="3.9"/>
<rect class="t" x="1959.55" y="1022.08" width="4.87" height="13.64"/>
<circle class="k" cx="1999.48" cy="885.71" r="13.6"/>
<circle class="t" cx="1999.48" cy="885.71" r="12"/>
<circle class="k" cx="1999.48" cy="951.95" r="13.6"/>
<circle class="t" cx="1999.48" cy="951.95" r="12"/>
<circle class="k" cx="1999.48" cy="1016.24" r="13.6"/>
<circle class="t" cx="1999.48" cy="1016.24" r="12"/>
<circle class="k wf" cx="1956.62" cy="852.6" r="32.2"/>
<circle class="k" cx="1956.62" cy="852.6" r="30.4"/>
<circle class="k" cx="1956.62" cy="852.6" r="28.4"/>
<circle class="kf" cx="1947.27" cy="852.6" r="4.4"/>
<circle class="kf" cx="1965.78" cy="852.6" r="4.4"/>
<circle class="t" cx="1947.27" cy="852.6" r="5.6"/>
<circle class="t" cx="1965.78" cy="852.6" r="5.6"/>
<path class="k" d="M1948.83 857.47L1951.17 857.47L1952.34 861.36L1960.91 861.36L1962.47 857.47L1964.81 857.47"/>
<rect class="k" x="1952.73" y="860.39" width="9.74" height="2.92"/>
<rect class="k" x="1951.75" y="819.09" width="10.71" height="2.34"/>
<rect class="k" x="1951.75" y="883.77" width="10.71" height="2.34"/>
<circle class="k wf" cx="1956.62" cy="922.73" r="32.2"/>
<circle class="k" cx="1956.62" cy="922.73" r="30.4"/>
<circle class="k" cx="1956.62" cy="922.73" r="28.4"/>
<circle class="kf" cx="1947.27" cy="922.73" r="4.4"/>
<circle class="kf" cx="1965.78" cy="922.73" r="4.4"/>
<circle class="t" cx="1947.27" cy="922.73" r="5.6"/>
<circle class="t" cx="1965.78" cy="922.73" r="5.6"/>
<path class="k" d="M1948.83 927.6L1951.17 927.6L1952.34 931.49L1960.91 931.49L1962.47 927.6L1964.81 927.6"/>
<rect class="k" x="1952.73" y="930.52" width="9.74" height="2.92"/>
<rect class="k" x="1951.75" y="889.22" width="10.71" height="2.34"/>
<rect class="k" x="1951.75" y="953.9" width="10.71" height="2.34"/>
<circle class="k wf" cx="1956.62" cy="993.83" r="32.2"/>
<circle class="k" cx="1956.62" cy="993.83" r="30.4"/>
<circle class="k" cx="1956.62" cy="993.83" r="28.4"/>
<circle class="kf" cx="1947.27" cy="993.83" r="4.4"/>
<circle class="kf" cx="1965.78" cy="993.83" r="4.4"/>
<circle class="t" cx="1947.27" cy="993.83" r="5.6"/>
<circle class="t" cx="1965.78" cy="993.83" r="5.6"/>
<path class="k" d="M1948.83 998.7L1951.17 998.7L1952.34 1002.6L1960.91 1002.6L1962.47 998.7L1964.81 998.7"/>
<rect class="k" x="1952.73" y="1001.62" width="9.74" height="2.92"/>
<rect class="k" x="1951.75" y="960.33" width="10.71" height="2.34"/>
<rect class="k" x="1951.75" y="1025" width="10.71" height="2.34"/>
<circle class="kf" cx="1936.17" cy="1030.85" r="4.2"/>
<circle class="wf t" cx="1936.17" cy="1030.85" r="1.4"/>
<circle class="kf" cx="1987.79" cy="1030.85" r="4.2"/>
<circle class="wf t" cx="1987.79" cy="1030.85" r="1.4"/>
<circle class="kf" cx="1961.49" cy="814.61" r="4.2"/>
<circle class="wf t" cx="1961.49" cy="814.61" r="1.4"/>
<rect class="k" x="1933.38" y="811.58" width="4.8" height="8" rx="2"/>
<rect class="k wf" x="1995.59" y="811.69" width="6.23" height="198.7"/>
<path class="t" d="M1998.7 811.69L1998.7 1010.39"/>
<rect class="k" x="2014.09" y="829.22" width="5.84" height="181.17"/>
<path d="M1948.83 849.68C1951.11 846.59 1957.27 836.53 1962.47 831.17C1967.66 825.81 1974.48 818.51 1980 817.53C1985.52 816.56 1992.27 820.78 1995.59 825.32C1998.9 829.87 1999.16 841.56 1999.87 844.81" style="stroke-width:3;stroke-linecap:butt"/>
<path d="M1948.83 849.68C1951.11 846.59 1957.27 836.53 1962.47 831.17C1967.66 825.81 1974.48 818.51 1980 817.53C1985.52 816.56 1992.27 820.78 1995.59 825.32C1998.9 829.87 1999.16 841.56 1999.87 844.81" style="stroke:#fff;stroke-width:1;stroke-linecap:butt"/>
<path d="M1967.34 849.68C1968.96 847.57 1973.35 841.4 1977.08 837.01C1980.81 832.63 1986.33 826.62 1989.74 823.38C1993.15 820.13 1996.24 818.51 1997.53 817.53" style="stroke-width:3;stroke-linecap:butt"/>
<path d="M1967.34 849.68C1968.96 847.57 1973.35 841.4 1977.08 837.01C1980.81 832.63 1986.33 826.62 1989.74 823.38C1993.15 820.13 1996.24 818.51 1997.53 817.53" style="stroke:#fff;stroke-width:1;stroke-linecap:butt"/>
<path d="M1948.83 919.81C1951.11 916.72 1957.27 906.33 1962.47 901.3C1967.66 896.27 1974.48 890.26 1980 889.61C1985.52 888.96 1992.27 892.86 1995.59 897.4C1998.9 901.95 1999.16 913.64 1999.87 916.88" style="stroke-width:3;stroke-linecap:butt"/>
<path d="M1948.83 919.81C1951.11 916.72 1957.27 906.33 1962.47 901.3C1967.66 896.27 1974.48 890.26 1980 889.61C1985.52 888.96 1992.27 892.86 1995.59 897.4C1998.9 901.95 1999.16 913.64 1999.87 916.88" style="stroke:#fff;stroke-width:1;stroke-linecap:butt"/>
<path d="M1967.34 919.81C1968.96 917.7 1973.35 911.53 1977.08 907.14C1980.81 902.76 1986.33 899.35 1989.74 893.51C1993.15 887.66 1996.24 875.65 1997.53 872.08" style="stroke-width:3;stroke-linecap:butt"/>
<path d="M1967.34 919.81C1968.96 917.7 1973.35 911.53 1977.08 907.14C1980.81 902.76 1986.33 899.35 1989.74 893.51C1993.15 887.66 1996.24 875.65 1997.53 872.08" style="stroke:#fff;stroke-width:1;stroke-linecap:butt"/>
<path d="M1948.83 990.91C1951.11 987.83 1957.27 977.44 1962.47 972.4C1967.66 967.37 1974.48 968.02 1980 960.72C1985.52 953.41 1992.27 930.68 1995.59 928.57C1998.9 926.46 1999.16 944.81 1999.87 948.05" style="stroke-width:3;stroke-linecap:butt"/>
<path d="M1948.83 990.91C1951.11 987.83 1957.27 977.44 1962.47 972.4C1967.66 967.37 1974.48 968.02 1980 960.72C1985.52 953.41 1992.27 930.68 1995.59 928.57C1998.9 926.46 1999.16 944.81 1999.87 948.05" style="stroke:#fff;stroke-width:1;stroke-linecap:butt"/>
<path d="M1967.34 990.91C1968.96 988.8 1973.35 982.63 1977.08 978.25C1980.81 973.86 1986.33 970.46 1989.74 964.61C1993.15 958.77 1996.24 946.75 1997.53 943.18" style="stroke-width:3;stroke-linecap:butt"/>
<path d="M1967.34 990.91C1968.96 988.8 1973.35 982.63 1977.08 978.25C1980.81 973.86 1986.33 970.46 1989.74 964.61C1993.15 958.77 1996.24 946.75 1997.53 943.18" style="stroke:#fff;stroke-width:1;stroke-linecap:butt"/>
<path d="M2007.27 801.95C2009.87 805.52 2018.96 812.99 2022.86 823.38C2026.76 833.77 2030.33 851.3 2030.65 864.29C2030.98 877.27 2025.46 889.29 2024.81 901.3C2024.16 913.31 2025.13 923.05 2026.76 936.36C2028.38 949.68 2034.22 969.48 2034.55 981.17C2034.87 992.86 2032.6 1000.98 2028.7 1006.49C2024.81 1012.01 2014.09 1012.99 2011.17 1014.29" style="stroke-width:3;stroke-linecap:butt"/>
<path d="M2007.27 801.95C2009.87 805.52 2018.96 812.99 2022.86 823.38C2026.76 833.77 2030.33 851.3 2030.65 864.29C2030.98 877.27 2025.46 889.29 2024.81 901.3C2024.16 913.31 2025.13 923.05 2026.76 936.36C2028.38 949.68 2034.22 969.48 2034.55 981.17C2034.87 992.86 2032.6 1000.98 2028.7 1006.49C2024.81 1012.01 2014.09 1012.99 2011.17 1014.29" style="stroke:#fff;stroke-width:1;stroke-linecap:butt"/>
<path d="M1999.48 801.95C2002.08 804.55 2011.33 808.12 2015.07 817.53C2018.8 826.95 2021.24 841.88 2021.88 858.44C2022.53 875 2019.94 897.4 2018.96 916.88C2017.99 936.36 2017.99 959.74 2016.04 975.33C2014.09 990.91 2008.74 1004.55 2007.27 1010.39" style="stroke-width:3;stroke-linecap:butt"/>
<path d="M1999.48 801.95C2002.08 804.55 2011.33 808.12 2015.07 817.53C2018.8 826.95 2021.24 841.88 2021.88 858.44C2022.53 875 2019.94 897.4 2018.96 916.88C2017.99 936.36 2017.99 959.74 2016.04 975.33C2014.09 990.91 2008.74 1004.55 2007.27 1010.39" style="stroke:#fff;stroke-width:1;stroke-linecap:butt"/>
<path d="M2011.17 885.71C2013.44 885.71 2021.4 887.66 2024.81 885.71C2028.22 883.77 2030.33 880.2 2031.63 874.03C2032.92 867.86 2032.44 852.92 2032.6 848.7" style="stroke-width:3;stroke-linecap:butt"/>
<path d="M2011.17 885.71C2013.44 885.71 2021.4 887.66 2024.81 885.71C2028.22 883.77 2030.33 880.2 2031.63 874.03C2032.92 867.86 2032.44 852.92 2032.6 848.7" style="stroke:#fff;stroke-width:1;stroke-linecap:butt"/>
<rect class="k wf" x="2015.86" y="830.04" width="14" height="12"/>
<path class="t" d="M2015.86 830.04L2029.86 842.04"/>
<path class="t" d="M2029.86 830.04L2015.86 842.04"/>
<rect class="k wf" x="2015.86" y="911.86" width="14" height="12"/>
<path class="t" d="M2015.86 911.86L2029.86 923.86"/>
<path class="t" d="M2029.86 911.86L2015.86 923.86"/>
<rect class="k wf" x="1995.48" y="1002.29" width="8" height="16"/>
<rect class="kf" x="1997.48" y="1011.29" width="4" height="5"/>
<rect class="k wf" x="2049.56" y="829.04" width="14" height="14"/>
<path class="t" d="M2049.56 829.04L2063.56 843.04"/>
<path class="t" d="M2063.56 829.04L2049.56 843.04"/>
<rect class="k wf" x="2049.56" y="834.04" width="20" height="2.5"/>
<rect class="k wf" x="2049.56" y="910.86" width="14" height="14"/>
<path class="t" d="M2049.56 910.86L2063.56 924.86"/>
<path class="t" d="M2063.56 910.86L2049.56 924.86"/>
<rect class="k wf" x="2049.56" y="915.86" width="20" height="2.5"/>
<rect class="k wf" x="2051.51" y="1007.29" width="14" height="14"/>
<path class="t" d="M2051.51 1007.29L2065.51 1021.29"/>
<path class="t" d="M2065.51 1007.29L2051.51 1021.29"/>
<rect class="k wf" x="2051.51" y="1012.29" width="20" height="2.5"/>
<rect class="k wf" x="2028.31" y="834.87" width="15.58" height="2.34"/>
<rect class="k wf" x="2028.31" y="916.69" width="15.58" height="2.34"/>
<rect class="k wf" x="2028.31" y="1013.12" width="15.58" height="2.34"/>
<path d="M2018.57 800C2021.5 801.95 2032.37 805.19 2036.11 811.69C2039.84 818.18 2040.65 830.2 2040.98 838.96C2041.3 847.73 2041.14 857.79 2038.05 864.29C2034.97 870.78 2027.18 874.68 2022.47 877.92C2017.76 881.17 2011.92 882.79 2009.81 883.77" style="stroke-width:3;stroke-linecap:butt"/>
<path d="M2018.57 800C2021.5 801.95 2032.37 805.19 2036.11 811.69C2039.84 818.18 2040.65 830.2 2040.98 838.96C2041.3 847.73 2041.14 857.79 2038.05 864.29C2034.97 870.78 2027.18 874.68 2022.47 877.92C2017.76 881.17 2011.92 882.79 2009.81 883.77" style="stroke:#fff;stroke-width:1;stroke-linecap:butt"/>
<path d="M2032.21 829.22C2032.86 837.34 2036.11 856.82 2036.11 877.92C2036.11 899.03 2034.81 935.72 2032.21 955.85C2029.61 975.98 2024.42 989.61 2020.52 998.7C2016.63 1007.79 2010.78 1008.44 2008.83 1010.39" style="stroke-width:3;stroke-linecap:butt"/>
<path d="M2032.21 829.22C2032.86 837.34 2036.11 856.82 2036.11 877.92C2036.11 899.03 2034.81 935.72 2032.21 955.85C2029.61 975.98 2024.42 989.61 2020.52 998.7C2016.63 1007.79 2010.78 1008.44 2008.83 1010.39" style="stroke:#fff;stroke-width:1;stroke-linecap:butt"/>
<path d="M2038.05 831.17C2038.54 842.21 2041.3 873.38 2040.98 897.4C2040.65 921.43 2038.54 957.14 2036.11 975.33C2033.67 993.51 2030.26 998.38 2026.37 1006.49C2022.47 1014.61 2015 1021.11 2012.73 1024.03" style="stroke-width:3;stroke-linecap:butt"/>
<path d="M2038.05 831.17C2038.54 842.21 2041.3 873.38 2040.98 897.4C2040.65 921.43 2038.54 957.14 2036.11 975.33C2033.67 993.51 2030.26 998.38 2026.37 1006.49C2022.47 1014.61 2015 1021.11 2012.73 1024.03" style="stroke:#fff;stroke-width:1;stroke-linecap:butt"/>
<g transform="rotate(-14 2055.59 859.42)">
<rect class="k wf" x="2051.09" y="852.42" width="9" height="14"/>
<circle class="k" cx="2055.59" cy="857.92" r="2"/>
</g>
<path d="M2059.48 867.21C2059.97 868.99 2061.04 869.64 2062.4 877.92C2063.77 886.2 2067.83 902.27 2067.66 916.88C2067.5 931.49 2064.42 949.35 2061.43 965.59C2058.44 981.82 2053.48 998.7 2049.74 1014.29C2046.01 1029.87 2040.81 1051.63 2039.03 1059.09" style="stroke-width:4;stroke-linecap:butt"/>
<path d="M2059.48 867.21C2059.97 868.99 2061.04 869.64 2062.4 877.92C2063.77 886.2 2067.83 902.27 2067.66 916.88C2067.5 931.49 2064.42 949.35 2061.43 965.59C2058.44 981.82 2053.48 998.7 2049.74 1014.29C2046.01 1029.87 2040.81 1051.63 2039.03 1059.09" style="stroke:#fff;stroke-width:1.7;stroke-linecap:butt"/>
<rect class="k wf" x="1993.25" y="1015.26" width="39.94" height="51.62"/>
<rect class="k" x="1999.09" y="1024.03" width="29.22" height="32.14"/>
<circle class="k" cx="2006.5" cy="1035.72" r="5.8"/>
<path class="t" d="M2001.63 1035.72L2011.37 1035.72"/>
<path class="t" d="M2006.5 1030.85L2006.5 1040.59"/>
<circle class="k" cx="2020.52" cy="1035.72" r="5.8"/>
<path class="t" d="M2015.65 1035.72L2025.39 1035.72"/>
<path class="t" d="M2020.52 1030.85L2020.52 1040.59"/>
<rect class="k" x="2009.81" y="1041.56" width="6.82" height="7.79"/>
<path class="t" d="M1999.09 1045.85L2028.31 1045.85"/>
<path d="M2010.78 1024.03C2011.76 1021.75 2014.03 1013.96 2016.63 1010.39C2019.22 1006.82 2024.74 1003.9 2026.37 1002.6" style="stroke-width:2.6;stroke-linecap:butt"/>
<path d="M2010.78 1024.03C2011.76 1021.75 2014.03 1013.96 2016.63 1010.39C2019.22 1006.82 2024.74 1003.9 2026.37 1002.6" style="stroke:#fff;stroke-width:1;stroke-linecap:butt"/>
<circle class="k" cx="1999.09" cy="1014.29" r="7"/>
<path d="M1834.48 1062.99C1844.71 1062.6 1875.88 1062.27 1895.85 1060.65C1915.81 1059.03 1938.05 1056.11 1954.29 1053.25C1970.52 1050.39 1986.75 1045.13 1993.25 1043.51" style="stroke-width:2.6;stroke-linecap:butt"/>
<path d="M1834.48 1062.99C1844.71 1062.6 1875.88 1062.27 1895.85 1060.65C1915.81 1059.03 1938.05 1056.11 1954.29 1053.25C1970.52 1050.39 1986.75 1045.13 1993.25 1043.51" style="stroke:#fff;stroke-width:1;stroke-linecap:butt"/>
<path d="M1831.56 1062.01C1834.48 1061.2 1843.25 1061.85 1849.09 1057.14C1854.94 1052.44 1862.08 1040.59 1866.62 1033.77C1871.17 1026.95 1874.74 1019.16 1876.36 1016.24" style="stroke-width:2.6;stroke-linecap:butt"/>
<path d="M1831.56 1062.01C1834.48 1061.2 1843.25 1061.85 1849.09 1057.14C1854.94 1052.44 1862.08 1040.59 1866.62 1033.77C1871.17 1026.95 1874.74 1019.16 1876.36 1016.24" style="stroke:#fff;stroke-width:1;stroke-linecap:butt"/>
<rect class="k wf" x="1818.9" y="1057.53" width="4.87" height="7.4"/>
<rect class="kf" x="1824.16" y="1060.07" width="5.45" height="4.87"/>
<circle class="k2" cx="2091.63" cy="814.61" r="2.4"/>
<circle class="k" cx="2117.34" cy="1030.85" r="2.2"/>
<rect class="k" x="2064.12" y="1029.25" width="3.2" height="3.2"/>
<rect class="k" x="1275.71" y="1548.57" width="571.43" height="407.14"/>
<rect class="t" x="1279.43" y="1552.29" width="564.86" height="400.57"/>
<path class="k" d="M1279.43 1588.57L1771.43 1588.57"/>
<path class="k" d="M1279.43 1592.29L1771.43 1592.29"/>
<path class="k" d="M1279.43 1830L1785.71 1830"/>
<path class="k" d="M1279.43 1834.29L1785.71 1834.29"/>
<rect class="k" x="1282.49" y="1543.36" width="3.6" height="3"/>
<rect class="k" x="1282.49" y="1957.93" width="3.6" height="3"/>
<rect class="k" x="1560.2" y="1543.36" width="3.6" height="3"/>
<rect class="k" x="1560.2" y="1957.93" width="3.6" height="3"/>
<rect class="k" x="1838.2" y="1543.36" width="3.6" height="3"/>
<rect class="k" x="1838.2" y="1957.93" width="3.6" height="3"/>
<rect class="k" x="1271.36" y="1572.49" width="3" height="3.6"/>
<rect class="k" x="1848.5" y="1572.49" width="3" height="3.6"/>
<rect class="k" x="1271.36" y="1661.06" width="3" height="3.6"/>
<rect class="k" x="1848.5" y="1661.06" width="3" height="3.6"/>
<rect class="k" x="1271.36" y="1751.06" width="3" height="3.6"/>
<rect class="k" x="1848.5" y="1751.06" width="3" height="3.6"/>
<rect class="k" x="1271.36" y="1839.63" width="3" height="3.6"/>
<rect class="k" x="1848.5" y="1839.63" width="3" height="3.6"/>
<rect class="k" x="1271.36" y="1928.2" width="3" height="3.6"/>
<rect class="k" x="1848.5" y="1928.2" width="3" height="3.6"/>
<circle class="k" cx="1279.43" cy="1590.57" r="2.5"/>
<circle class="k" cx="1279.43" cy="1832" r="2.5"/>
<rect class="st1" x="1325.61" y="1572.4" width="473.1" height="13.8"/>
<rect class="st2" x="1325.39" y="1835" width="435.25" height="12.5"/>
<rect class="st2" x="1306.47" y="1849.3" width="510.95" height="85.85"/>
<rect class="k" x="1401.43" y="1604.86" width="44.29" height="5.71" rx="3"/>
<path class="t" d="M1404.71 1608.86a3 3 0 0 1 6 0"/>
<path class="t" d="M1412.43 1608.86a3 3 0 0 1 6 0"/>
<path class="t" d="M1420.14 1608.86a3 3 0 0 1 6 0"/>
<path class="t" d="M1427.86 1608.86a3 3 0 0 1 6 0"/>
<path class="t" d="M1435.57 1608.86a3 3 0 0 1 6 0"/>
<rect class="k" x="1401.43" y="1615.14" width="44.29" height="5.71" rx="3"/>
<path class="t" d="M1404.71 1619.14a3 3 0 0 1 6 0"/>
<path class="t" d="M1412.43 1619.14a3 3 0 0 1 6 0"/>
<path class="t" d="M1420.14 1619.14a3 3 0 0 1 6 0"/>
<path class="t" d="M1427.86 1619.14a3 3 0 0 1 6 0"/>
<path class="t" d="M1435.57 1619.14a3 3 0 0 1 6 0"/>
<rect class="k" x="1401.43" y="1625.71" width="44.29" height="5.71" rx="3"/>
<path class="t" d="M1404.71 1629.71a3 3 0 0 1 6 0"/>
<path class="t" d="M1412.43 1629.71a3 3 0 0 1 6 0"/>
<path class="t" d="M1420.14 1629.71a3 3 0 0 1 6 0"/>
<path class="t" d="M1427.86 1629.71a3 3 0 0 1 6 0"/>
<path class="t" d="M1435.57 1629.71a3 3 0 0 1 6 0"/>
<rect class="k" x="1401.43" y="1635.71" width="44.29" height="5.71" rx="3"/>
<path class="t" d="M1404.71 1639.71a3 3 0 0 1 6 0"/>
<path class="t" d="M1412.43 1639.71a3 3 0 0 1 6 0"/>
<path class="t" d="M1420.14 1639.71a3 3 0 0 1 6 0"/>
<path class="t" d="M1427.86 1639.71a3 3 0 0 1 6 0"/>
<path class="t" d="M1435.57 1639.71a3 3 0 0 1 6 0"/>
<rect class="k" x="1456.57" y="1604.86" width="44.29" height="5.71" rx="3"/>
<path class="t" d="M1459.86 1608.86a3 3 0 0 1 6 0"/>
<path class="t" d="M1467.57 1608.86a3 3 0 0 1 6 0"/>
<path class="t" d="M1475.29 1608.86a3 3 0 0 1 6 0"/>
<path class="t" d="M1483 1608.86a3 3 0 0 1 6 0"/>
<path class="t" d="M1490.71 1608.86a3 3 0 0 1 6 0"/>
<rect class="k" x="1456.57" y="1615.14" width="44.29" height="5.71" rx="3"/>
<path class="t" d="M1459.86 1619.14a3 3 0 0 1 6 0"/>
<path class="t" d="M1467.57 1619.14a3 3 0 0 1 6 0"/>
<path class="t" d="M1475.29 1619.14a3 3 0 0 1 6 0"/>
<path class="t" d="M1483 1619.14a3 3 0 0 1 6 0"/>
<path class="t" d="M1490.71 1619.14a3 3 0 0 1 6 0"/>
<rect class="k" x="1456.57" y="1625.71" width="44.29" height="5.71" rx="3"/>
<path class="t" d="M1459.86 1629.71a3 3 0 0 1 6 0"/>
<path class="t" d="M1467.57 1629.71a3 3 0 0 1 6 0"/>
<path class="t" d="M1475.29 1629.71a3 3 0 0 1 6 0"/>
<path class="t" d="M1483 1629.71a3 3 0 0 1 6 0"/>
<path class="t" d="M1490.71 1629.71a3 3 0 0 1 6 0"/>
<rect class="k" x="1456.57" y="1635.71" width="44.29" height="5.71" rx="3"/>
<path class="t" d="M1459.86 1639.71a3 3 0 0 1 6 0"/>
<path class="t" d="M1467.57 1639.71a3 3 0 0 1 6 0"/>
<path class="t" d="M1475.29 1639.71a3 3 0 0 1 6 0"/>
<path class="t" d="M1483 1639.71a3 3 0 0 1 6 0"/>
<path class="t" d="M1490.71 1639.71a3 3 0 0 1 6 0"/>
<rect class="k" x="1511.43" y="1604.86" width="44.29" height="5.71" rx="3"/>
<path class="t" d="M1514.71 1608.86a3 3 0 0 1 6 0"/>
<path class="t" d="M1522.43 1608.86a3 3 0 0 1 6 0"/>
<path class="t" d="M1530.14 1608.86a3 3 0 0 1 6 0"/>
<path class="t" d="M1537.86 1608.86a3 3 0 0 1 6 0"/>
<path class="t" d="M1545.57 1608.86a3 3 0 0 1 6 0"/>
<rect class="k" x="1511.43" y="1615.14" width="44.29" height="5.71" rx="3"/>
<path class="t" d="M1514.71 1619.14a3 3 0 0 1 6 0"/>
<path class="t" d="M1522.43 1619.14a3 3 0 0 1 6 0"/>
<path class="t" d="M1530.14 1619.14a3 3 0 0 1 6 0"/>
<path class="t" d="M1537.86 1619.14a3 3 0 0 1 6 0"/>
<path class="t" d="M1545.57 1619.14a3 3 0 0 1 6 0"/>
<rect class="k" x="1511.43" y="1625.71" width="44.29" height="5.71" rx="3"/>
<path class="t" d="M1514.71 1629.71a3 3 0 0 1 6 0"/>
<path class="t" d="M1522.43 1629.71a3 3 0 0 1 6 0"/>
<path class="t" d="M1530.14 1629.71a3 3 0 0 1 6 0"/>
<path class="t" d="M1537.86 1629.71a3 3 0 0 1 6 0"/>
<path class="t" d="M1545.57 1629.71a3 3 0 0 1 6 0"/>
<rect class="k" x="1511.43" y="1635.71" width="44.29" height="5.71" rx="3"/>
<path class="t" d="M1514.71 1639.71a3 3 0 0 1 6 0"/>
<path class="t" d="M1522.43 1639.71a3 3 0 0 1 6 0"/>
<path class="t" d="M1530.14 1639.71a3 3 0 0 1 6 0"/>
<path class="t" d="M1537.86 1639.71a3 3 0 0 1 6 0"/>
<path class="t" d="M1545.57 1639.71a3 3 0 0 1 6 0"/>
<rect class="k wf" x="1374.29" y="1643.43" width="209.43" height="44.57"/>
<path class="t" d="M1374.29 1645.71L1583.71 1645.71"/>
<path class="t" d="M1374.29 1684.29L1583.71 1684.29"/>
<ellipse class="k" cx="1428.57" cy="1664.86" rx="24" ry="7.5"/>
<ellipse class="k" cx="1428.57" cy="1664.86" rx="19.8" ry="4.8"/>
<ellipse class="k" cx="1428.57" cy="1664.86" rx="15.6" ry="2.1"/>
<ellipse class="k2" cx="1428.57" cy="1664.86" rx="26" ry="8.5"/>
<ellipse class="k" cx="1478.57" cy="1664.86" rx="24" ry="7.5"/>
<ellipse class="k" cx="1478.57" cy="1664.86" rx="19.8" ry="4.8"/>
<ellipse class="k" cx="1478.57" cy="1664.86" rx="15.6" ry="2.1"/>
<ellipse class="k2" cx="1478.57" cy="1664.86" rx="26" ry="8.5"/>
<ellipse class="k" cx="1528.57" cy="1664.86" rx="24" ry="7.5"/>
<ellipse class="k" cx="1528.57" cy="1664.86" rx="19.8" ry="4.8"/>
<ellipse class="k" cx="1528.57" cy="1664.86" rx="15.6" ry="2.1"/>
<ellipse class="k2" cx="1528.57" cy="1664.86" rx="26" ry="8.5"/>
<rect class="k wf" x="1374.29" y="1645.71" width="43.71" height="27.14"/>
<rect class="k wf" x="1538.57" y="1645.71" width="45.14" height="27.14"/>
<circle class="k" cx="1396.29" cy="1656.57" r="5"/>
<path class="k2" d="M1392.79 1658a3.5 3.5 0 0 0 7 0"/>
<circle class="k" cx="1560.57" cy="1656.57" r="5"/>
<path class="k2" d="M1557.07 1658a3.5 3.5 0 0 0 7 0"/>
<rect class="k wf" x="1381.43" y="1688" width="15.14" height="156.29"/>
<path class="t" d="M1383.71 1688L1383.71 1844.29"/>
<path class="k3" d="M1386 1688L1386 1844.29"/>
<path class="t" d="M1388.29 1688L1388.29 1844.29"/>
<path class="k2" d="M1390.57 1688L1390.57 1844.29"/>
<path class="t" d="M1392.86 1688L1392.86 1844.29"/>
<rect class="k wf" x="1561.43" y="1688" width="15.71" height="156.29"/>
<path class="t" d="M1563.71 1688L1563.71 1844.29"/>
<path class="k3" d="M1566 1688L1566 1844.29"/>
<path class="t" d="M1568.29 1688L1568.29 1844.29"/>
<path class="k2" d="M1570.57 1688L1570.57 1844.29"/>
<path class="t" d="M1572.86 1688L1572.86 1844.29"/>
<rect class="k wf" x="1396.57" y="1688" width="164.86" height="96.29"/>
<rect class="k2" x="1468.57" y="1732.86" width="20.86" height="8"/>
<rect class="kf" x="1470.86" y="1734.29" width="16.29" height="5.14"/>
<rect class="k" x="1374.29" y="1784.29" width="209.43" height="30"/>
<rect class="k wf" x="1396.57" y="1788.57" width="164.86" height="24.29"/>
<rect class="k" x="1402.97" y="1797.36" width="7.2" height="11" rx="3.4"/>
<rect class="kf" x="1404.57" y="1801.86" width="4" height="5" rx="1"/>
<rect class="k" x="1425.54" y="1797.36" width="7.2" height="11" rx="3.4"/>
<rect class="kf" x="1427.14" y="1801.86" width="4" height="5" rx="1"/>
<rect class="k" x="1442.97" y="1797.36" width="7.2" height="11" rx="3.4"/>
<rect class="kf" x="1444.57" y="1801.86" width="4" height="5" rx="1"/>
<rect class="k" x="1506.97" y="1797.36" width="7.2" height="11" rx="3.4"/>
<rect class="kf" x="1508.57" y="1801.86" width="4" height="5" rx="1"/>
<rect class="k" x="1524.11" y="1797.36" width="7.2" height="11" rx="3.4"/>
<rect class="kf" x="1525.71" y="1801.86" width="4" height="5" rx="1"/>
<rect class="k wf" x="1468" y="1790.57" width="22.29" height="22.29"/>
<rect class="kf" x="1470" y="1792.86" width="5.71" height="8"/>
<rect class="kf" x="1470" y="1802.86" width="5.71" height="8"/>
<rect class="kf" x="1476.86" y="1792.86" width="5.71" height="8"/>
<rect class="kf" x="1476.86" y="1802.86" width="5.71" height="8"/>
<rect class="kf" x="1483.71" y="1792.86" width="5.71" height="8"/>
<rect class="kf" x="1483.71" y="1802.86" width="5.71" height="8"/>
<path d="M1481.43 1788.57C1482.14 1787.38 1483.1 1781.67 1485.71 1781.43C1488.33 1781.19 1493.33 1784.05 1497.14 1787.14C1500.95 1790.24 1506.67 1797.86 1508.57 1800" style="stroke-width:2.6;stroke-linecap:butt"/>
<path d="M1481.43 1788.57C1482.14 1787.38 1483.1 1781.67 1485.71 1781.43C1488.33 1781.19 1493.33 1784.05 1497.14 1787.14C1500.95 1790.24 1506.67 1797.86 1508.57 1800" style="stroke:#fff;stroke-width:1;stroke-linecap:butt"/>
<rect class="k wf" x="1431.43" y="1814.29" width="10" height="30"/>
<path class="t" d="M1434.86 1814.29L1434.86 1844.29"/>
<path class="t" d="M1438.29 1814.29L1438.29 1844.29"/>
<rect class="k wf" x="1448.57" y="1814.29" width="10" height="30"/>
<path class="t" d="M1452 1814.29L1452 1844.29"/>
<path class="t" d="M1455.43 1814.29L1455.43 1844.29"/>
<rect class="k wf" x="1500" y="1814.29" width="10" height="30"/>
<path class="t" d="M1503.43 1814.29L1503.43 1844.29"/>
<path class="t" d="M1506.86 1814.29L1506.86 1844.29"/>
<rect class="k wf" x="1564.29" y="1814.29" width="10" height="30"/>
<path class="t" d="M1567.71 1814.29L1567.71 1844.29"/>
<path class="t" d="M1571.14 1814.29L1571.14 1844.29"/>
<path d="M1415.71 1817.14C1413.81 1819.52 1407.86 1826.9 1404.29 1831.43C1400.71 1835.95 1395.95 1842.14 1394.29 1844.29" style="stroke-width:4.5;stroke-linecap:butt"/>
<path d="M1415.71 1817.14C1413.81 1819.52 1407.86 1826.9 1404.29 1831.43C1400.71 1835.95 1395.95 1842.14 1394.29 1844.29" style="stroke:#fff;stroke-width:2.2;stroke-linecap:butt"/>
<path d="M1480 1817.14C1478.1 1819.52 1472.14 1826.9 1468.57 1831.43C1465 1835.95 1460.24 1842.14 1458.57 1844.29" style="stroke-width:4.5;stroke-linecap:butt"/>
<path d="M1480 1817.14C1478.1 1819.52 1472.14 1826.9 1468.57 1831.43C1465 1835.95 1460.24 1842.14 1458.57 1844.29" style="stroke:#fff;stroke-width:2.2;stroke-linecap:butt"/>
<rect class="k wf" x="1390" y="1837.14" width="8.57" height="7.14"/>
<rect class="k wf" x="1427.14" y="1837.14" width="8.57" height="7.14"/>
<rect class="k wf" x="1455.71" y="1837.14" width="8.57" height="7.14"/>
<rect class="k wf" x="1494.29" y="1837.14" width="8.57" height="7.14"/>
<rect class="k wf" x="1521.43" y="1837.14" width="8.57" height="7.14"/>
<rect class="k wf" x="1564.29" y="1837.14" width="8.57" height="7.14"/>
<circle class="k2" cx="1327.71" cy="1617.71" r="3.6"/>
<circle class="t" cx="1327.71" cy="1617.71" r="1.4"/>
<circle class="k2" cx="1327.71" cy="1660" r="3.6"/>
<circle class="t" cx="1327.71" cy="1660" r="1.4"/>
<circle class="k2" cx="1327.71" cy="1680.57" r="3.6"/>
<circle class="t" cx="1327.71" cy="1680.57" r="1.4"/>
<circle class="k2" cx="1327.71" cy="1785.71" r="3.6"/>
<circle class="t" cx="1327.71" cy="1785.71" r="1.4"/>
<circle class="k2" cx="1327.71" cy="1806.57" r="3.6"/>
<circle class="t" cx="1327.71" cy="1806.57" r="1.4"/>
<circle class="k2" cx="1630" cy="1617.71" r="3.6"/>
<circle class="t" cx="1630" cy="1617.71" r="1.4"/>
<circle class="k2" cx="1630" cy="1660" r="3.6"/>
<circle class="t" cx="1630" cy="1660" r="1.4"/>
<circle class="k2" cx="1630" cy="1680.57" r="3.6"/>
<circle class="t" cx="1630" cy="1680.57" r="1.4"/>
<circle class="k2" cx="1630" cy="1785.71" r="3.6"/>
<circle class="t" cx="1630" cy="1785.71" r="1.4"/>
<circle class="k2" cx="1630" cy="1806.57" r="3.6"/>
<circle class="t" cx="1630" cy="1806.57" r="1.4"/>
<circle class="k" cx="1680.86" cy="1605.71" r="1.8"/>
<circle class="k" cx="1670" cy="1722" r="1.8"/>
<circle class="k" cx="1670" cy="1797.71" r="1.8"/>
<rect class="k" x="1702.86" y="1621.43" width="42.86" height="6.29" rx="3"/>
<path class="t" d="M1709.14 1621.43L1709.14 1627.71"/>
<path class="t" d="M1716.86 1621.43L1716.86 1627.71"/>
<path class="t" d="M1724.57 1621.43L1724.57 1627.71"/>
<path class="t" d="M1732.29 1621.43L1732.29 1627.71"/>
<path class="t" d="M1740 1621.43L1740 1627.71"/>
<rect class="k" x="1702.86" y="1631.91" width="42.86" height="6.29" rx="3"/>
<path class="t" d="M1709.14 1631.91L1709.14 1638.2"/>
<path class="t" d="M1716.86 1631.91L1716.86 1638.2"/>
<path class="t" d="M1724.57 1631.91L1724.57 1638.2"/>
<path class="t" d="M1732.29 1631.91L1732.29 1638.2"/>
<path class="t" d="M1740 1631.91L1740 1638.2"/>
<rect class="k" x="1702.86" y="1642.4" width="42.86" height="6.29" rx="3"/>
<path class="t" d="M1709.14 1642.4L1709.14 1648.69"/>
<path class="t" d="M1716.86 1642.4L1716.86 1648.69"/>
<path class="t" d="M1724.57 1642.4L1724.57 1648.69"/>
<path class="t" d="M1732.29 1642.4L1732.29 1648.69"/>
<path class="t" d="M1740 1642.4L1740 1648.69"/>
<rect class="k" x="1702.86" y="1652.89" width="42.86" height="6.29" rx="3"/>
<path class="t" d="M1709.14 1652.89L1709.14 1659.17"/>
<path class="t" d="M1716.86 1652.89L1716.86 1659.17"/>
<path class="t" d="M1724.57 1652.89L1724.57 1659.17"/>
<path class="t" d="M1732.29 1652.89L1732.29 1659.17"/>
<path class="t" d="M1740 1652.89L1740 1659.17"/>
<rect class="k" x="1702.86" y="1663.37" width="42.86" height="6.29" rx="3"/>
<path class="t" d="M1709.14 1663.37L1709.14 1669.66"/>
<path class="t" d="M1716.86 1663.37L1716.86 1669.66"/>
<path class="t" d="M1724.57 1663.37L1724.57 1669.66"/>
<path class="t" d="M1732.29 1663.37L1732.29 1669.66"/>
<path class="t" d="M1740 1663.37L1740 1669.66"/>
<rect class="k" x="1702.86" y="1673.86" width="42.86" height="6.29" rx="3"/>
<path class="t" d="M1709.14 1673.86L1709.14 1680.14"/>
<path class="t" d="M1716.86 1673.86L1716.86 1680.14"/>
<path class="t" d="M1724.57 1673.86L1724.57 1680.14"/>
<path class="t" d="M1732.29 1673.86L1732.29 1680.14"/>
<path class="t" d="M1740 1673.86L1740 1680.14"/>
<rect class="k" x="1702.86" y="1684.34" width="42.86" height="6.29" rx="3"/>
<path class="t" d="M1709.14 1684.34L1709.14 1690.63"/>
<path class="t" d="M1716.86 1684.34L1716.86 1690.63"/>
<path class="t" d="M1724.57 1684.34L1724.57 1690.63"/>
<path class="t" d="M1732.29 1684.34L1732.29 1690.63"/>
<path class="t" d="M1740 1684.34L1740 1690.63"/>
<rect class="k" x="1702.86" y="1694.83" width="42.86" height="6.29" rx="3"/>
<path class="t" d="M1709.14 1694.83L1709.14 1701.11"/>
<path class="t" d="M1716.86 1694.83L1716.86 1701.11"/>
<path class="t" d="M1724.57 1694.83L1724.57 1701.11"/>
<path class="t" d="M1732.29 1694.83L1732.29 1701.11"/>
<path class="t" d="M1740 1694.83L1740 1701.11"/>
<rect class="k" x="1702.86" y="1705.31" width="42.86" height="6.29" rx="3"/>
<path class="t" d="M1709.14 1705.31L1709.14 1711.6"/>
<path class="t" d="M1716.86 1705.31L1716.86 1711.6"/>
<path class="t" d="M1724.57 1705.31L1724.57 1711.6"/>
<path class="t" d="M1732.29 1705.31L1732.29 1711.6"/>
<path class="t" d="M1740 1705.31L1740 1711.6"/>
<rect class="k" x="1702.86" y="1715.8" width="42.86" height="6.29" rx="3"/>
<path class="t" d="M1709.14 1715.8L1709.14 1722.09"/>
<path class="t" d="M1716.86 1715.8L1716.86 1722.09"/>
<path class="t" d="M1724.57 1715.8L1724.57 1722.09"/>
<path class="t" d="M1732.29 1715.8L1732.29 1722.09"/>
<path class="t" d="M1740 1715.8L1740 1722.09"/>
<rect class="k" x="1702.86" y="1741.43" width="42.86" height="6.29" rx="3"/>
<rect class="k" x="1702.86" y="1751.91" width="42.86" height="6.29" rx="3"/>
<rect class="k" x="1702.86" y="1762.4" width="42.86" height="6.29" rx="3"/>
<rect class="k" x="1702.86" y="1772.89" width="42.86" height="6.29" rx="3"/>
<rect class="k" x="1757.14" y="1652.89" width="42.86" height="6.29" rx="3"/>
<path class="t" d="M1763.43 1652.89L1763.43 1659.17"/>
<path class="t" d="M1771.14 1652.89L1771.14 1659.17"/>
<path class="t" d="M1778.86 1652.89L1778.86 1659.17"/>
<path class="t" d="M1786.57 1652.89L1786.57 1659.17"/>
<path class="t" d="M1794.29 1652.89L1794.29 1659.17"/>
<rect class="k" x="1757.14" y="1663.37" width="42.86" height="6.29" rx="3"/>
<path class="t" d="M1763.43 1663.37L1763.43 1669.66"/>
<path class="t" d="M1771.14 1663.37L1771.14 1669.66"/>
<path class="t" d="M1778.86 1663.37L1778.86 1669.66"/>
<path class="t" d="M1786.57 1663.37L1786.57 1669.66"/>
<path class="t" d="M1794.29 1663.37L1794.29 1669.66"/>
<rect class="k" x="1757.14" y="1673.86" width="42.86" height="6.29" rx="3"/>
<path class="t" d="M1763.43 1673.86L1763.43 1680.14"/>
<path class="t" d="M1771.14 1673.86L1771.14 1680.14"/>
<path class="t" d="M1778.86 1673.86L1778.86 1680.14"/>
<path class="t" d="M1786.57 1673.86L1786.57 1680.14"/>
<path class="t" d="M1794.29 1673.86L1794.29 1680.14"/>
<rect class="k" x="1757.14" y="1684.34" width="42.86" height="6.29" rx="3"/>
<path class="t" d="M1763.43 1684.34L1763.43 1690.63"/>
<path class="t" d="M1771.14 1684.34L1771.14 1690.63"/>
<path class="t" d="M1778.86 1684.34L1778.86 1690.63"/>
<path class="t" d="M1786.57 1684.34L1786.57 1690.63"/>
<path class="t" d="M1794.29 1684.34L1794.29 1690.63"/>
<rect class="k" x="1757.14" y="1694.83" width="42.86" height="6.29" rx="3"/>
<path class="t" d="M1763.43 1694.83L1763.43 1701.11"/>
<path class="t" d="M1771.14 1694.83L1771.14 1701.11"/>
<path class="t" d="M1778.86 1694.83L1778.86 1701.11"/>
<path class="t" d="M1786.57 1694.83L1786.57 1701.11"/>
<path class="t" d="M1794.29 1694.83L1794.29 1701.11"/>
<rect class="k" x="1757.14" y="1705.31" width="42.86" height="6.29" rx="3"/>
<path class="t" d="M1763.43 1705.31L1763.43 1711.6"/>
<path class="t" d="M1771.14 1705.31L1771.14 1711.6"/>
<path class="t" d="M1778.86 1705.31L1778.86 1711.6"/>
<path class="t" d="M1786.57 1705.31L1786.57 1711.6"/>
<path class="t" d="M1794.29 1705.31L1794.29 1711.6"/>
<rect class="k" x="1757.14" y="1715.8" width="42.86" height="6.29" rx="3"/>
<path class="t" d="M1763.43 1715.8L1763.43 1722.09"/>
<path class="t" d="M1771.14 1715.8L1771.14 1722.09"/>
<path class="t" d="M1778.86 1715.8L1778.86 1722.09"/>
<path class="t" d="M1786.57 1715.8L1786.57 1722.09"/>
<path class="t" d="M1794.29 1715.8L1794.29 1722.09"/>
<rect class="k" x="1757.14" y="1741.43" width="42.86" height="6.29" rx="3"/>
<rect class="k" x="1757.14" y="1751.91" width="42.86" height="6.29" rx="3"/>
<rect class="k" x="1757.14" y="1762.4" width="42.86" height="6.29" rx="3"/>
<rect class="k" x="1757.14" y="1772.89" width="42.86" height="6.29" rx="3"/>
<rect class="k wf" x="1771.43" y="1564.29" width="67.14" height="80"/>
<rect class="k wf" x="1768.57" y="1562" width="67.14" height="6.57"/>
<path class="k2" d="M1768.57 1564.29L1835.71 1564.29"/>
<rect class="k" x="1828.57" y="1572.86" width="10" height="5.71"/>
<rect class="k wf" x="1830.86" y="1565.71" width="14.86" height="371.43"/>
<path class="k" d="M1841.43 1565.71L1841.43 1937.14"/>
<path class="t" d="M1834.29 1565.71L1834.29 1937.14"/>
<path class="k" d="M1838.57 1565.71L1838.57 1937.14"/>
<rect class="k" x="1846.29" y="1575.71" width="2.86" height="4"/>
<rect class="k" x="1846.29" y="1655.71" width="2.86" height="4"/>
<rect class="k" x="1846.29" y="1704.29" width="2.86" height="4"/>
<rect class="k" x="1846.29" y="1752.86" width="2.86" height="4"/>
<rect class="k" x="1846.29" y="1801.43" width="2.86" height="4"/>
<rect class="k" x="1846.29" y="1850" width="2.86" height="4"/>
<rect class="k" x="1846.29" y="1898.57" width="2.86" height="4"/>
<rect class="k wf" x="1723.43" y="1601.43" width="20.86" height="17.14"/>
<rect class="kf" x="1726.29" y="1603.71" width="8" height="7.71"/>
<path d="M1740 1612.86C1743.33 1616.19 1751.9 1626.67 1760 1632.86C1768.1 1639.05 1777.14 1646.19 1788.57 1650C1800 1653.81 1821.9 1654.76 1828.57 1655.71" style="stroke-width:2.6;stroke-linecap:butt"/>
<path d="M1740 1612.86C1743.33 1616.19 1751.9 1626.67 1760 1632.86C1768.1 1639.05 1777.14 1646.19 1788.57 1650C1800 1653.81 1821.9 1654.76 1828.57 1655.71" style="stroke:#fff;stroke-width:1;stroke-linecap:butt"/>
<path d="M1762.86 1601.43C1763.1 1605.24 1762.38 1617.14 1764.29 1624.29C1766.19 1631.43 1767.86 1639.52 1774.29 1644.29C1780.71 1649.05 1793.33 1650.48 1802.86 1652.86C1812.38 1655.24 1826.67 1657.62 1831.43 1658.57" style="stroke-width:3.2;stroke-linecap:butt"/>
<path d="M1762.86 1601.43C1763.1 1605.24 1762.38 1617.14 1764.29 1624.29C1766.19 1631.43 1767.86 1639.52 1774.29 1644.29C1780.71 1649.05 1793.33 1650.48 1802.86 1652.86C1812.38 1655.24 1826.67 1657.62 1831.43 1658.57" style="stroke:#fff;stroke-width:1;stroke-linecap:butt"/>
<path d="M1831.43 1638.57C1826.67 1639.05 1810.95 1640 1802.86 1641.43C1794.76 1642.86 1786.19 1646.19 1782.86 1647.14" style="stroke-width:3.2;stroke-linecap:butt"/>
<path d="M1831.43 1638.57C1826.67 1639.05 1810.95 1640 1802.86 1641.43C1794.76 1642.86 1786.19 1646.19 1782.86 1647.14" style="stroke:#fff;stroke-width:1;stroke-linecap:butt"/>
<path d="M1774.29 1644.29C1778.1 1645.24 1789.52 1647.86 1797.14 1650C1804.76 1652.14 1814.29 1655.24 1820 1657.14C1825.71 1659.05 1829.52 1660.71 1831.43 1661.43" style="stroke-width:3;stroke-dasharray:2 1.2"/>
<path d="M1782.86 1644.29C1786.19 1642.86 1796.67 1637.38 1802.86 1635.71C1809.05 1634.05 1815.24 1633.57 1820 1634.29C1824.76 1635 1829.52 1639.05 1831.43 1640" style="stroke-width:2.6;stroke-dasharray:2 1.2"/>
<rect class="k wf" x="1774.29" y="1727.14" width="57.14" height="45.71"/>
<rect class="k wf" x="1814.29" y="1772.86" width="20" height="22.86"/>
<rect class="k wf" x="1765.71" y="1692.86" width="62.86" height="8.57"/>
<rect class="k wf" x="1817.14" y="1655.71" width="17.14" height="28.57"/>
<path d="M1762.86 1747.14C1763.57 1750.95 1762.86 1764.52 1767.14 1770C1771.43 1775.48 1780.71 1777.86 1788.57 1780C1796.43 1782.14 1810 1782.38 1814.29 1782.86" style="stroke-width:3.2;stroke-linecap:butt"/>
<path d="M1762.86 1747.14C1763.57 1750.95 1762.86 1764.52 1767.14 1770C1771.43 1775.48 1780.71 1777.86 1788.57 1780C1796.43 1782.14 1810 1782.38 1814.29 1782.86" style="stroke:#fff;stroke-width:1;stroke-linecap:butt"/>
<path d="M1758.57 1741.43C1759.05 1746.67 1756.9 1765.48 1761.43 1772.86C1765.95 1780.24 1777.14 1783.33 1785.71 1785.71C1794.29 1788.1 1808.33 1786.9 1812.86 1787.14" style="stroke-width:3.2;stroke-linecap:butt"/>
<path d="M1758.57 1741.43C1759.05 1746.67 1756.9 1765.48 1761.43 1772.86C1765.95 1780.24 1777.14 1783.33 1785.71 1785.71C1794.29 1788.1 1808.33 1786.9 1812.86 1787.14" style="stroke:#fff;stroke-width:1;stroke-linecap:butt"/>
<path d="M1827.14 1724.29C1818.33 1724.76 1797.38 1725.48 1774.29 1727.14C1751.19 1728.81 1714.76 1729.52 1688.57 1734.29C1662.38 1739.05 1638.1 1746.9 1617.14 1755.71C1596.19 1764.52 1577.62 1776.19 1562.86 1787.14C1548.1 1798.1 1536.67 1810.95 1528.57 1821.43C1520.48 1831.9 1516.67 1845.24 1514.29 1850" style="stroke-width:9;stroke-linecap:butt"/>
<path d="M1827.14 1724.29C1818.33 1724.76 1797.38 1725.48 1774.29 1727.14C1751.19 1728.81 1714.76 1729.52 1688.57 1734.29C1662.38 1739.05 1638.1 1746.9 1617.14 1755.71C1596.19 1764.52 1577.62 1776.19 1562.86 1787.14C1548.1 1798.1 1536.67 1810.95 1528.57 1821.43C1520.48 1831.9 1516.67 1845.24 1514.29 1850" style="stroke:#fff;stroke-width:6.7;stroke-linecap:butt"/>
<path d="M1827.14 1731.43C1818.33 1732.38 1796.43 1735 1774.29 1737.14C1752.14 1739.29 1719.05 1739.52 1694.29 1744.29C1669.52 1749.05 1645.71 1757.14 1625.71 1765.71C1605.71 1774.29 1588.1 1785.48 1574.29 1795.71C1560.48 1805.95 1550.95 1818.57 1542.86 1827.14C1534.76 1835.71 1528.57 1843.81 1525.71 1847.14" style="stroke-width:9;stroke-linecap:butt"/>
<path d="M1827.14 1731.43C1818.33 1732.38 1796.43 1735 1774.29 1737.14C1752.14 1739.29 1719.05 1739.52 1694.29 1744.29C1669.52 1749.05 1645.71 1757.14 1625.71 1765.71C1605.71 1774.29 1588.1 1785.48 1574.29 1795.71C1560.48 1805.95 1550.95 1818.57 1542.86 1827.14C1534.76 1835.71 1528.57 1843.81 1525.71 1847.14" style="stroke:#fff;stroke-width:6.7;stroke-linecap:butt"/>
<path d="M1811.43 1660C1805.24 1666.9 1785.71 1691.67 1774.29 1701.43C1762.86 1711.19 1757.14 1714.29 1742.86 1718.57C1728.57 1722.86 1709.52 1722.14 1688.57 1727.14C1667.62 1732.14 1639.05 1739.52 1617.14 1748.57C1595.24 1757.62 1572.86 1770.24 1557.14 1781.43C1541.43 1792.62 1530.95 1804.76 1522.86 1815.71C1514.76 1826.67 1510.95 1841.9 1508.57 1847.14" style="stroke-width:5;stroke-linecap:butt"/>
<path d="M1811.43 1660C1805.24 1666.9 1785.71 1691.67 1774.29 1701.43C1762.86 1711.19 1757.14 1714.29 1742.86 1718.57C1728.57 1722.86 1709.52 1722.14 1688.57 1727.14C1667.62 1732.14 1639.05 1739.52 1617.14 1748.57C1595.24 1757.62 1572.86 1770.24 1557.14 1781.43C1541.43 1792.62 1530.95 1804.76 1522.86 1815.71C1514.76 1826.67 1510.95 1841.9 1508.57 1847.14" style="stroke:#fff;stroke-width:2.7;stroke-linecap:butt"/>
<path d="M1827.14 1690C1822.14 1693.81 1805.95 1707.86 1797.14 1712.86C1788.33 1717.86 1778.1 1718.81 1774.29 1720" style="stroke-width:6;stroke-linecap:butt"/>
<path d="M1827.14 1690C1822.14 1693.81 1805.95 1707.86 1797.14 1712.86C1788.33 1717.86 1778.1 1718.81 1774.29 1720" style="stroke:#fff;stroke-width:3.7;stroke-linecap:butt"/>
<path d="M1705.71 1747.14C1702.86 1751.43 1697.14 1763.81 1688.57 1772.86C1680 1781.9 1667.14 1795 1654.29 1801.43C1641.43 1807.86 1624.29 1809.76 1611.43 1811.43C1598.57 1813.1 1582.86 1811.43 1577.14 1811.43" style="stroke-width:3;stroke-linecap:butt"/>
<path d="M1705.71 1747.14C1702.86 1751.43 1697.14 1763.81 1688.57 1772.86C1680 1781.9 1667.14 1795 1654.29 1801.43C1641.43 1807.86 1624.29 1809.76 1611.43 1811.43C1598.57 1813.1 1582.86 1811.43 1577.14 1811.43" style="stroke:#fff;stroke-width:1;stroke-linecap:butt"/>
<path d="M1722.86 1742.86C1719.05 1747.86 1710.48 1762.62 1700 1772.86C1689.52 1783.1 1671.43 1798.33 1660 1804.29C1648.57 1810.24 1636.19 1807.86 1631.43 1808.57" style="stroke-width:3;stroke-linecap:butt"/>
<path d="M1722.86 1742.86C1719.05 1747.86 1710.48 1762.62 1700 1772.86C1689.52 1783.1 1671.43 1798.33 1660 1804.29C1648.57 1810.24 1636.19 1807.86 1631.43 1808.57" style="stroke:#fff;stroke-width:1;stroke-linecap:butt"/>
<rect class="k wf" x="1775.71" y="1717.14" width="3.71" height="18.57"/>
<rect class="k wf" x="1602.14" y="1812.71" width="10" height="6"/>
<rect class="k wf" x="1605.94" y="1805.71" width="2.4" height="18"/>
<path d="M1497.14 1821.43C1495.71 1823.33 1490.48 1827.14 1488.57 1832.86C1486.67 1838.57 1484.76 1850.24 1485.71 1855.71C1486.67 1861.19 1491.67 1865.71 1494.29 1865.71C1496.9 1865.71 1500 1860.24 1501.43 1855.71C1502.86 1851.19 1502.62 1841.43 1502.86 1838.57" style="stroke-width:3;stroke-linecap:butt"/>
<path d="M1497.14 1821.43C1495.71 1823.33 1490.48 1827.14 1488.57 1832.86C1486.67 1838.57 1484.76 1850.24 1485.71 1855.71C1486.67 1861.19 1491.67 1865.71 1494.29 1865.71C1496.9 1865.71 1500 1860.24 1501.43 1855.71C1502.86 1851.19 1502.62 1841.43 1502.86 1838.57" style="stroke:#fff;stroke-width:1;stroke-linecap:butt"/>
<rect class="k wf" x="1701.43" y="1778.57" width="77.14" height="38.57"/>
<rect class="k" x="1722.86" y="1781.43" width="38.57" height="31.43"/>
<path class="t" d="M1701.43 1811.43L1778.57 1811.43"/>
<circle class="kf" cx="1730" cy="1790.57" r="4.6"/>
<circle class="wf t" cx="1730" cy="1790.57" r="2"/>
<circle class="kf" cx="1730" cy="1805.71" r="4.6"/>
<circle class="wf t" cx="1730" cy="1805.71" r="2"/>
<circle class="kf" cx="1753.43" cy="1790.57" r="4.6"/>
<circle class="wf t" cx="1753.43" cy="1790.57" r="2"/>
<circle class="kf" cx="1753.43" cy="1805.71" r="4.6"/>
<circle class="wf t" cx="1753.43" cy="1805.71" r="2"/>
<circle class="k" cx="1741.71" cy="1788.57" r="3.2"/>
<circle class="k" cx="1741.71" cy="1806.57" r="3.2"/>
<rect class="k2" x="1705.97" y="1791.5" width="5.2" height="13" rx="2.5"/>
<path d="M1762.86 1788.57C1767.14 1788.81 1780.48 1787.38 1788.57 1790C1796.67 1792.62 1804.29 1799.05 1811.43 1804.29C1818.57 1809.52 1828.1 1818.57 1831.43 1821.43" style="stroke-width:6;stroke-linecap:butt"/>
<path d="M1762.86 1788.57C1767.14 1788.81 1780.48 1787.38 1788.57 1790C1796.67 1792.62 1804.29 1799.05 1811.43 1804.29C1818.57 1809.52 1828.1 1818.57 1831.43 1821.43" style="stroke:#fff;stroke-width:3.7;stroke-linecap:butt"/>
<path d="M1762.86 1805.71C1767.14 1806.19 1780.95 1806.9 1788.57 1808.57C1796.19 1810.24 1802.38 1812.62 1808.57 1815.71C1814.76 1818.81 1822.86 1825.24 1825.71 1827.14" style="stroke-width:6;stroke-linecap:butt"/>
<path d="M1762.86 1805.71C1767.14 1806.19 1780.95 1806.9 1788.57 1808.57C1796.19 1810.24 1802.38 1812.62 1808.57 1815.71C1814.76 1818.81 1822.86 1825.24 1825.71 1827.14" style="stroke:#fff;stroke-width:3.7;stroke-linecap:butt"/>
<rect class="k wf" x="1765.71" y="1840" width="21.43" height="40" rx="3"/>
<rect class="k wf" x="1785.71" y="1828.57" width="48.57" height="62.86"/>
<rect class="k" x="1790" y="1840" width="37.14" height="40"/>
<path class="k" d="M1797.14 1840L1797.14 1880"/>
<path class="k2" d="M1804.29 1840L1804.29 1880"/>
<path class="k2" d="M1807.14 1840L1807.14 1880"/>
<path class="k" d="M1814.29 1840L1814.29 1880"/>
<rect class="k" x="1767.14" y="1855.71" width="7.14" height="7.14"/>
<path class="t" d="M1774.29 1891.43C1774.29 1894.05 1771.43 1902.62 1774.29 1907.14C1777.14 1911.67 1784.29 1917.38 1791.43 1918.57C1798.57 1919.76 1809.76 1917.14 1817.14 1914.29C1824.52 1911.43 1832.62 1903.57 1835.71 1901.43"/>
<path class="t" d="M1776 1891.43C1776 1894.05 1773.43 1902.48 1776 1907.14C1778.57 1911.81 1784.57 1918.24 1791.43 1919.43C1798.29 1920.62 1809.76 1917.29 1817.14 1914.29C1824.52 1911.29 1832.62 1903.57 1835.71 1901.43"/>
<path class="t" d="M1777.71 1891.43C1777.71 1894.05 1775.43 1902.33 1777.71 1907.14C1780 1911.95 1784.86 1919.1 1791.43 1920.29C1798 1921.48 1809.76 1917.43 1817.14 1914.29C1824.52 1911.14 1832.62 1903.57 1835.71 1901.43"/>
<path class="t" d="M1163 1718.5L1187.5 1718.5L1481 1800"/>
<text class="r" x="1144.5" y="1726" font-size="24.54">C</text>
<rect class="k" x="2336.43" y="316.17" width="286.76" height="364.42"/>
<clipPath id="cw"><rect x="2336.43" y="316.17" width="286.76" height="364.42"/></clipPath><g clip-path="url(#cw)">
<path class="t" d="M2336.43 355L2473.83 355"/>
<path class="t" d="M2336.43 359.48L2473.83 359.48"/>
<path class="t" d="M2336.43 365.46L2473.83 365.46"/>
<path class="t" d="M2336.43 367.85L2473.83 367.85"/>
<path class="t" d="M2336.43 455.07L2351.36 455.07"/>
<circle class="t" cx="2388.7" cy="326.62" r="22"/>
<circle class="t" cx="2388.7" cy="326.62" r="18"/>
<circle class="t" cx="2364.81" cy="323.64" r="14"/>
<path class="t" d="M2336.43 316.17L2349.87 341.56"/>
<path class="t" d="M2416.18 316.17L2429.03 334.09L2379.74 363.96"/>
<path class="t" d="M2437.99 316.17L2429.03 334.09"/>
<path class="k" d="M2473.83 316.17L2473.83 391.74"/>
<rect class="t" x="2596.3" y="316.17" width="26.88" height="10.45"/>
<path class="t" d="M2596.3 322.14L2623.18 322.14"/>
<path class="t" d="M2623.18 583.51C2622.44 587.49 2620.2 595.96 2618.7 607.41C2617.21 618.86 2614.97 644.74 2614.22 652.21"/>
<path class="t" d="M2623.18 610.39C2622.59 609.15 2620.2 604.17 2619.6 602.92"/>
<path class="t" d="M2602.27 667.15L2606.76 680.59"/>
</g>
<path class="k wf" d="M2351.36 326.62L2380.34 326.62L2380.34 601.43L2585.25 601.43L2585.25 326.62L2613.63 326.62L2613.63 667.15L2541.64 667.15L2541.64 655.2L2423.05 655.2L2423.05 667.15L2351.36 667.15Z"/>
<path class="k" d="M2472.34 655.2L2472.34 680.59"/>
<path class="k" d="M2490.86 655.2L2490.86 680.59"/>
<path class="k wf" d="M2401.25 391.74L2401.25 386.36L2409.61 376.81L2458 376.81L2466.36 386.36L2466.36 391.74"/>
<path class="k" d="M2401.25 386.36L2466.36 386.36"/>
<path class="k wf" d="M2499.22 391.74L2499.22 386.36L2507.59 376.81L2555.98 376.81L2564.34 386.36L2564.34 391.74"/>
<path class="k" d="M2499.22 386.36L2564.34 386.36"/>
<rect class="k wf" x="2380.34" y="391.74" width="204.91" height="143.98"/>
<rect class="k" x="2454.42" y="535.72" width="56.75" height="16.43"/>
<path class="k" d="M2380.34 601.43L2585.25 601.43"/>
<circle class="k" cx="2433.51" cy="457.46" r="35.8"/>
<path class="t" d="M2433.51 411.75L2433.51 449.09"/>
<path class="t" d="M2433.51 452.68L2433.51 462.53"/>
<path class="t" d="M2433.51 466.12L2433.51 504.35"/>
<path class="t" d="M2414.99 426.69Q2433.51 435.65 2452.03 426.69"/>
<circle class="k" cx="2531.48" cy="457.46" r="35.8"/>
<path class="t" d="M2531.48 411.75L2531.48 449.09"/>
<path class="t" d="M2531.48 452.68L2531.48 462.53"/>
<path class="t" d="M2531.48 466.12L2531.48 504.35"/>
<path class="t" d="M2512.96 426.69Q2531.48 435.65 2550 426.69"/>
<path class="t" d="M2398.26 453.57C2406.13 453.57 2435.1 454.07 2445.46 453.57C2455.81 453.08 2456.56 451.83 2460.39 450.59C2464.22 449.34 2467.11 446.85 2468.46 446.11"/>
<path class="t" d="M2388.1 457.46L2409.61 457.46"/>
<path class="t" d="M2414.99 457.46L2428.13 457.46"/>
<path class="t" d="M2430.52 457.46L2437.09 457.46"/>
<path class="t" d="M2439.48 457.46L2463.38 457.46"/>
<path class="t" d="M2468.75 457.46L2482.79 457.46"/>
<path class="t" d="M2486.68 457.46L2511.17 457.46"/>
<path class="t" d="M2514.75 457.46L2528.5 457.46"/>
<path class="t" d="M2529.69 457.46L2533.87 457.46"/>
<path class="t" d="M2536.26 457.46L2558.96 457.46"/>
<path class="t" d="M2564.34 457.46L2578.38 457.46"/>
<rect class="k wf" x="2460.99" y="481.35" width="42.12" height="47.79" rx="5"/>
<text class="ol" x="2464.9" y="514.8" font-size="27.04" textLength="35.2" lengthAdjust="spacingAndGlyphs">W2</text>
<text class="r" x="2519.5" y="274.4" font-size="21.22" textLength="118.6" lengthAdjust="spacingAndGlyphs">SEE NOTES</text>
<text class="r" x="2540.4" y="294.4" font-size="21.22" textLength="77.7" lengthAdjust="spacingAndGlyphs">3, 4, &amp; 5</text>
<path class="k" d="M2516.5 279.7L2492.6 279.7L2461 362"/>
<path class="ka" d="M2449.9 391.7L2456.4 362.07L2464.81 365.28Z"/>
<rect class="k" x="1613.19" y="1441.34" width="94.45" height="80.34"/>
<path class="t" d="M1683.3 1521.7L1731.4 1605.7"/>
<rect class="k" x="1620.59" y="1446.55" width="29.08" height="31.93" rx="4"/>
<circle class="k" cx="1635.04" cy="1462.86" r="12.6"/>
<circle class="t" cx="1635.04" cy="1462.86" r="11.4"/>
<path class="k2" d="M1627.82 1460.34L1642.1 1460.34"/>
<path class="k2" d="M1635.04 1460.34L1635.04 1472.94"/>
<path class="k2" d="M1632.02 1456.13L1637.9 1456.13"/>
<clipPath id="cg"><rect x="1613.2" y="1441.3" width="94.4" height="80.4"/></clipPath><g clip-path="url(#cg)">
<path class="t" d="M1657.23 1475.46L1690.84 1519.16L1711.01 1509.08"/>
<path class="t" d="M1681.6 1452.77L1707.65 1471.26"/>
<path class="t" d="M1668.99 1477.14L1697.56 1490.59"/>
<path class="t" d="M1675.71 1495.63L1697.56 1483.87L1707.65 1470.42"/>
<path class="t" d="M1690.84 1519.16L1699.24 1529.24"/>
<path class="t" d="M1700.92 1493.95L1707.65 1504.03"/>
</g>
<circle class="k2 wf" cx="1668.99" cy="1462.02" r="14.6"/>
<circle class="k" cx="1668.99" cy="1462.02" r="8.4"/>
<circle class="k" cx="1668.99" cy="1462.02" r="6.4"/>
<path class="ka" d="M1677.39 1465.38L1704.29 1479.66L1700.08 1486.39Z"/>
<path class="k" d="M1703.45 1484.71L1705.97 1487.23"/>
<path class="k" d="M1705.97 1487.23L1731.18 1487.23"/>
<text class="r" x="1734.9" y="1494" font-size="19.55" textLength="219.8" lengthAdjust="spacingAndGlyphs">1/4-20 GROUND STUD</text>
<path class="k" d="M2798.18 236.69L2798.18 625.99L2975.32 709.73L2975.32 338.14Z"/>
<path class="k" d="M2975.32 338.14L2975.32 725.84L3103.35 653.37L3103.35 262.86Z"/>
<path class="k wf" d="M2794.96 227.43L2927.01 150.93L3108.18 256.01L2975.32 330.09Z"/>
<path class="k" d="M2794.96 227.43L2794.96 235.48L2975.32 338.14L3108.18 262.86L3108.18 256.01"/>
<path class="k" d="M2975.32 330.09L2975.32 338.14"/>
<path class="k" d="M2798.18 236.69L2808.25 303.11L2798.18 319.22"/>
<path class="kf" d="M2807.04 240.71L2971.3 334.52L2974.52 365.52L2811.06 271.71Z"/>
<path class="kf" d="M2811.87 275.74L2974.52 369.54L2976.13 398.93L2815.9 307.14Z"/>
<path d="M2821.97 250.85L2829.22 314.46" style="stroke:#fff;stroke-width:.8;stroke-dasharray:3 2.2"/>
<path d="M2836.9 259.38L2844.15 322.99" style="stroke:#fff;stroke-width:.8;stroke-dasharray:3 2.2"/>
<path d="M2851.84 267.91L2859.08 331.52" style="stroke:#fff;stroke-width:.8;stroke-dasharray:3 2.2"/>
<path d="M2866.77 276.43L2874.02 340.04" style="stroke:#fff;stroke-width:.8;stroke-dasharray:3 2.2"/>
<path d="M2881.7 284.96L2888.95 348.57" style="stroke:#fff;stroke-width:.8;stroke-dasharray:3 2.2"/>
<path d="M2896.63 293.49L2903.88 357.1" style="stroke:#fff;stroke-width:.8;stroke-dasharray:3 2.2"/>
<path d="M2911.57 302.02L2918.81 365.63" style="stroke:#fff;stroke-width:.8;stroke-dasharray:3 2.2"/>
<path d="M2926.5 310.54L2933.75 374.15" style="stroke:#fff;stroke-width:.8;stroke-dasharray:3 2.2"/>
<path d="M2941.43 319.07L2948.68 382.68" style="stroke:#fff;stroke-width:.8;stroke-dasharray:3 2.2"/>
<path d="M2956.36 327.6L2963.61 391.21" style="stroke:#fff;stroke-width:.8;stroke-dasharray:3 2.2"/>
<path class="wl" d="M2810.26 271.71L2974.52 366.32"/>
<path class="wl" d="M2811.06 274.13L2974.52 368.74"/>
<path class="k" d="M2798.18 319.22L2975.32 419.87"/>
<path class="k" d="M2798.18 399.74L2975.32 500.39"/>
<path class="t" d="M2800.19 404.57L2973.31 505.22"/>
<path class="k" d="M2798.18 601.03L2975.32 697.66"/>
<path class="t" d="M2802.21 605.06L2973.31 700.88"/>
<path class="k2" d="M2976.93 339.35L2976.93 725.03"/>
<path class="k" d="M2877.89 376.39L2894 384.44L2894 394.91L2877.89 386.85Z"/>
<path class="k2" d="M2877.89 390.07L2894 398.13L2894 403.76L2877.89 395.71Z"/>
<path class="k" d="M2877.89 398.93L2894 406.98L2894 416.65L2877.89 408.59Z"/>
<path class="k2" d="M2878.7 400.14L2893.19 407.79"/>
<path class="k" d="M2877.89 411.01L2894 419.06L2894 428.72L2877.89 420.67Z"/>
<path class="k2" d="M2878.7 412.22L2893.19 419.87"/>
<path class="k" d="M2877.89 423.09L2894 431.14L2894 440.8L2877.89 432.75Z"/>
<path class="k2" d="M2878.7 424.3L2893.19 431.94"/>
<path class="k" d="M2877.89 435.17L2894 443.22L2894 452.07L2877.89 444.02Z"/>
<path class="k2" d="M2878.7 436.37L2893.19 444.02"/>
<path class="k" d="M2852.53 190.39V164.22a6 6 0 0 1 12 0V183.54"/>
<path class="t" d="M2855.75 186.39V167.04a2.4 2.4 0 0 1 4.8 0V185.56"/>
<path class="k wf" d="M3036.52 329.28V268.89a6 6 0 0 1 12 0V323.24"/>
<path class="k" d="M3039.74 299.09V271.71a2.6 2.6 0 0 1 5.2 0V299.09 z"/>
<path class="k wf" d="M3033.7 336.13L3047.79 329.28L3047.79 597.01L3077.98 581.71L3077.98 592.98L3003.5 631.23L3003.5 619.15L3033.7 604.25Z"/>
<ellipse class="k" cx="3040.54" cy="339.35" rx="1.6" ry="2.2"/>
<ellipse class="k" cx="3040.54" cy="415.84" rx="1.6" ry="2.2"/>
<ellipse class="k" cx="3040.54" cy="489.52" rx="1.6" ry="2.2"/>
<ellipse class="k" cx="3073.96" cy="587.75" rx="1.6" ry="2.2"/>
<ellipse class="k" cx="3054.23" cy="599.02" rx="1.6" ry="2.2"/>
<ellipse class="k" cx="3026.05" cy="614.32" rx="1.6" ry="2.2"/>
<ellipse class="k" cx="3008.33" cy="624.38" rx="1.6" ry="2.2"/>
<circle class="kf" cx="2817.51" cy="243.53" r="1.2"/>
<circle class="kf" cx="2885.95" cy="282.18" r="1.2"/>
<circle class="kf" cx="2953.18" cy="321.23" r="1.2"/>
<circle class="kf" cx="2987.4" cy="328.08" r="1.2"/>
<circle class="kf" cx="3098.11" cy="264.06" r="1.2"/>
<circle class="kf" cx="2800.19" cy="402.96" r="1.2"/>
<circle class="kf" cx="2885.95" cy="453.28" r="1.2"/>
<circle class="kf" cx="2972.1" cy="417.85" r="1.2"/>
<circle class="kf" cx="2972.1" cy="504.41" r="1.2"/>
<circle class="kf" cx="2800.19" cy="468.98" r="1.2"/>
<circle class="kf" cx="2800.19" cy="532.59" r="1.2"/>
<circle class="kf" cx="2800.19" cy="597.81" r="1.2"/>
<circle class="kf" cx="2972.1" cy="568.83" r="1.2"/>
<circle class="kf" cx="2972.1" cy="631.23" r="1.2"/>
<circle class="kf" cx="2885.95" cy="648.54" r="1.2"/>
<circle class="kf" cx="2972.1" cy="696.85" r="1.2"/>
<circle class="kf" cx="2986.59" cy="721.01" r="1.2"/>
<circle class="kf" cx="3095.29" cy="656.59" r="1.2"/>
<circle class="kf" cx="2989.41" cy="449.26" r="1.2"/>
<circle class="kf" cx="3014.78" cy="499.58" r="1.2"/>
<circle class="kf" cx="3002.3" cy="524.54" r="1.2"/>
<circle class="kf" cx="3090.87" cy="390.88" r="1.2"/>
<circle class="kf" cx="3065.91" cy="470.19" r="1.2"/>
<circle class="kf" cx="3082.01" cy="478.24" r="1.2"/>
<circle class="kf" cx="3090.06" cy="550.71" r="1.2"/>
<circle class="kf" cx="3073.96" cy="560.77" r="1.2"/>
<circle class="kf" cx="3049.8" cy="572.85" r="1.2"/>
<circle class="kf" cx="3009.54" cy="597.01" r="1.2"/>
<circle class="kf" cx="2993.44" cy="606.27" r="1.2"/>
<circle class="kf" cx="3067.92" cy="647.33" r="1.2"/>
<circle class="kf" cx="3011.56" cy="678.33" r="1.2"/>
<circle class="kf" cx="3039.74" cy="687.59" r="1.2"/>
<path class="k" d="M2800.19 613.11L2800.19 623.18L2810.26 631.23L2820.32 621.97L2812.27 617.14"/>
<circle class="t" cx="2808.25" cy="625.19" r="1.4"/>
<path class="k" d="M2975.32 718.59L2967.27 722.62L2977.34 729.86L2985.39 725.03"/>
<path class="k2" d="M3104.55 425.91L3104.55 435.97"/>
<path class="t" d="M2498.8 980.5L2726.5 1118.5"/>
<path class="t" d="M2502.7 1156.6L2611 1124.5"/>
<path class="t" d="M2500.8 1374L2666.3 1308.3"/>
<path class="t" d="M3035.7 1152L2794.5 1301"/>
<path class="t" d="M3034.3 1368.6L2909.6 1308.3"/>
<clipPath id="bV2"><circle cx="2453.2" cy="954" r="50.6"/></clipPath>
<circle class="k wf" cx="2453.2" cy="954" r="50.6"/>
<g clip-path="url(#bV2)">
<path class="t" d="M2459.9 900L2459.9 918.2"/>
</g>
<rect class="k wf" x="2420.9" y="918.2" width="64.3" height="72.8" rx="6"/>
<text class="ol" x="2429.5" y="968.8" font-size="38.48" textLength="44" lengthAdjust="spacingAndGlyphs">V2</text>
<clipPath id="bU2"><circle cx="2453.2" cy="1170.3" r="50.6"/></clipPath>
<circle class="k wf" cx="2453.2" cy="1170.3" r="50.6"/>
<g clip-path="url(#bU2)">
<path class="t" d="M2459.9 1118L2459.9 1136.4"/>
</g>
<rect class="k wf" x="2420.9" y="1136.4" width="64.3" height="72" rx="6"/>
<text class="ol" x="2430.6" y="1185.8" font-size="38.48" textLength="42.9" lengthAdjust="spacingAndGlyphs">U2</text>
<clipPath id="bU1"><circle cx="2453.2" cy="1392.3" r="50.6"/></clipPath>
<circle class="k wf" cx="2453.2" cy="1392.3" r="50.6"/>
<g clip-path="url(#bU1)">
<path class="t" d="M2446 1340L2446 1347L2485 1347"/>
<path class="t" d="M2470 1425.5L2470 1445"/>
<path class="t" d="M2476 1425.5L2476 1445"/>
</g>
<rect class="k wf" x="2420.9" y="1353.4" width="64.3" height="72.1" rx="6"/>
<text class="ol" x="2432.6" y="1404" font-size="38.48" textLength="39" lengthAdjust="spacingAndGlyphs">U1</text>
<clipPath id="bV1"><circle cx="3079.1" cy="1123.4" r="50.6"/></clipPath>
<circle class="k wf" cx="3079.1" cy="1123.4" r="50.6"/>
<g clip-path="url(#bV1)">
<path class="t" d="M3070 1070L3070 1085.7L3108.6 1085.7"/>
<path class="t" d="M3046.6 1160L3125 1160"/>
<path class="t" d="M3095 1160L3095 1178"/>
<path class="t" d="M3101 1160L3101 1178"/>
<path class="t" d="M3123 1100L3123 1160"/>
</g>
<rect class="k wf" x="3046.6" y="1089.1" width="63.4" height="70.9" rx="6"/>
<text class="ol" x="3054.9" y="1139.4" font-size="38.48" textLength="40" lengthAdjust="spacingAndGlyphs">V1</text>
<clipPath id="bW1"><circle cx="3079.1" cy="1392.9" r="50.6"/></clipPath>
<circle class="k wf" cx="3079.1" cy="1392.9" r="50.6"/>
<g clip-path="url(#bW1)">
<path class="t" d="M3070 1340L3070 1354L3108.6 1354"/>
<path class="t" d="M3046.6 1428.6L3125 1428.6"/>
<path class="t" d="M3095 1428.6L3095 1446"/>
<path class="t" d="M3101 1428.6L3101 1446"/>
<path class="t" d="M3123 1370L3123 1428.6"/>
</g>
<rect class="k wf" x="3046.6" y="1357.1" width="63.4" height="71.5" rx="6"/>
<text class="ol" x="3050.6" y="1407.7" font-size="38.48" textLength="50" lengthAdjust="spacingAndGlyphs">W1</text>
</svg>
</body></html>
